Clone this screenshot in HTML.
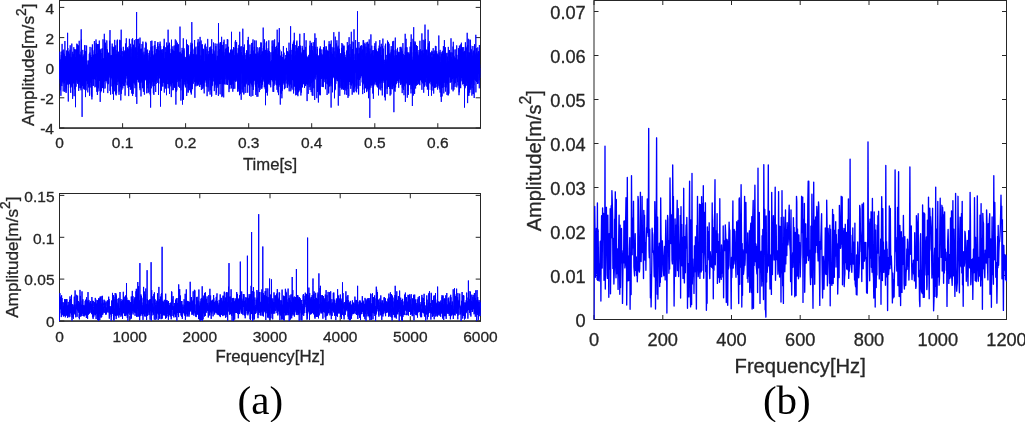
<!DOCTYPE html><html><head><meta charset="utf-8"><style>html,body{margin:0;padding:0;background:#fff;overflow:hidden}svg{display:block}</style></head><body><svg width="1025" height="422" viewBox="0 0 1025 422"><rect x="0" y="0" width="1025" height="422" fill="#fff"/><defs><clipPath id="c1"><rect x="59.0" y="0.0" width="422.0" height="128.5"/></clipPath><clipPath id="c2"><rect x="59.0" y="193.0" width="422.0" height="128.5"/></clipPath><clipPath id="c3"><rect x="593.5" y="0.0" width="413.5" height="320.0"/></clipPath></defs><g font-family="Liberation Sans, Arial, sans-serif" font-size="15.5" fill="#262626" stroke="#262626" stroke-width="0.3"><rect x="59.5" y="0.5" width="421.0" height="127.5" fill="none" stroke="#262626" stroke-width="1"/><path d="M59.5 128V123.2M59.5 0.5V5.3M122.6 128V123.2M122.6 0.5V5.3M185.6 128V123.2M185.6 0.5V5.3M248.7 128V123.2M248.7 0.5V5.3M311.7 128V123.2M311.7 0.5V5.3M374.8 128V123.2M374.8 0.5V5.3M437.8 128V123.2M437.8 0.5V5.3M59.5 7.4H64.3M480.5 7.4H475.7M59.5 37.6H64.3M480.5 37.6H475.7M59.5 67.7H64.3M480.5 67.7H475.7M59.5 97.8H64.3M480.5 97.8H475.7M59.5 128H64.3M480.5 128H475.7" stroke="#262626" stroke-width="1" fill="none"/><path d="M59.0 128H481.0" stroke="#262626" stroke-width="1.25" fill="none"/><text x="59.5" y="148.3" text-anchor="middle">0</text><text x="122.6" y="148.3" text-anchor="middle">0.1</text><text x="185.6" y="148.3" text-anchor="middle">0.2</text><text x="248.7" y="148.3" text-anchor="middle">0.3</text><text x="311.7" y="148.3" text-anchor="middle">0.4</text><text x="374.8" y="148.3" text-anchor="middle">0.5</text><text x="437.8" y="148.3" text-anchor="middle">0.6</text><text x="54" y="13.6" text-anchor="end">4</text><text x="54" y="43.7" text-anchor="end">2</text><text x="54" y="73.9" text-anchor="end">0</text><text x="54" y="104" text-anchor="end">-2</text><text x="54" y="134.2" text-anchor="end">-4</text><text x="270" y="169.5" text-anchor="middle" font-size="16.7">Time[s]</text><text transform="translate(34.3 64.7) rotate(-90)" text-anchor="middle" font-size="17.4">Amplitude[m/s<tspan font-size="13.9" dy="-8.7">2</tspan><tspan dy="8.7">]</tspan></text></g><g font-family="Liberation Sans, Arial, sans-serif" font-size="15.5" fill="#262626" stroke="#262626" stroke-width="0.3"><rect x="59.5" y="193.5" width="421.0" height="127.5" fill="none" stroke="#262626" stroke-width="1"/><path d="M59.5 321V316.2M59.5 193.5V198.3M129.7 321V316.2M129.7 193.5V198.3M199.8 321V316.2M199.8 193.5V198.3M270 321V316.2M270 193.5V198.3M340.2 321V316.2M340.2 193.5V198.3M410.3 321V316.2M410.3 193.5V198.3M480.5 321V316.2M480.5 193.5V198.3M59.5 321H64.3M480.5 321H475.7M59.5 279.1H64.3M480.5 279.1H475.7M59.5 237.3H64.3M480.5 237.3H475.7M59.5 195.4H64.3M480.5 195.4H475.7" stroke="#262626" stroke-width="1" fill="none"/><path d="M59.0 321H481.0" stroke="#262626" stroke-width="1.25" fill="none"/><text x="59.5" y="341.5" text-anchor="middle">0</text><text x="129.7" y="341.5" text-anchor="middle">1000</text><text x="199.8" y="341.5" text-anchor="middle">2000</text><text x="270" y="341.5" text-anchor="middle">3000</text><text x="340.2" y="341.5" text-anchor="middle">4000</text><text x="410.3" y="341.5" text-anchor="middle">5000</text><text x="480.5" y="341.5" text-anchor="middle">6000</text><text x="54.5" y="327.2" text-anchor="end">0</text><text x="54.5" y="285.3" text-anchor="end">0.05</text><text x="54.5" y="243.5" text-anchor="end">0.1</text><text x="54.5" y="201.6" text-anchor="end">0.15</text><text x="270" y="361.9" text-anchor="middle" font-size="16.8">Frequency[Hz]</text><text transform="translate(18.3 257.2) rotate(-90)" text-anchor="middle" font-size="17.2">Amplitude[m/s<tspan font-size="13.8" dy="-8.6">2</tspan><tspan dy="8.6">]</tspan></text></g><g font-family="Liberation Sans, Arial, sans-serif" font-size="18.2" fill="#262626" stroke="#262626" stroke-width="0.3"><rect x="594.0" y="0.5" width="412.5" height="319.0" fill="none" stroke="#262626" stroke-width="1"/><path d="M594 319.5V315M594 0.5V5M662.8 319.5V315M662.8 0.5V5M731.5 319.5V315M731.5 0.5V5M800.2 319.5V315M800.2 0.5V5M869 319.5V315M869 0.5V5M937.8 319.5V315M937.8 0.5V5M1006.5 319.5V315M1006.5 0.5V5M594 319.5H598.5M1006.5 319.5H1002M594 275.5H598.5M1006.5 275.5H1002M594 231.5H598.5M1006.5 231.5H1002M594 187.5H598.5M1006.5 187.5H1002M594 143.5H598.5M1006.5 143.5H1002M594 99.5H598.5M1006.5 99.5H1002M594 55.5H598.5M1006.5 55.5H1002M594 11.5H598.5M1006.5 11.5H1002" stroke="#262626" stroke-width="1" fill="none"/><text x="594" y="345.7" text-anchor="middle">0</text><text x="662.8" y="345.7" text-anchor="middle">200</text><text x="731.5" y="345.7" text-anchor="middle">400</text><text x="800.2" y="345.7" text-anchor="middle">600</text><text x="869" y="345.7" text-anchor="middle">800</text><text x="937.8" y="345.7" text-anchor="middle">1000</text><text x="1006.5" y="345.7" text-anchor="middle">1200</text><text x="585.7" y="326.7" text-anchor="end">0</text><text x="585.7" y="282.7" text-anchor="end">0.01</text><text x="585.7" y="238.7" text-anchor="end">0.02</text><text x="585.7" y="194.7" text-anchor="end">0.03</text><text x="585.7" y="150.7" text-anchor="end">0.04</text><text x="585.7" y="106.7" text-anchor="end">0.05</text><text x="585.7" y="62.7" text-anchor="end">0.06</text><text x="585.7" y="18.7" text-anchor="end">0.07</text><text x="800.2" y="372.5" text-anchor="middle" font-size="20.2">Frequency[Hz]</text><text transform="translate(540.6 160.7) rotate(-90)" text-anchor="middle" font-size="20">Amplitude[m/s<tspan font-size="16" dy="-10">2</tspan><tspan dy="10">]</tspan></text></g><g clip-path="url(#c1)"><polyline fill="none" stroke="#0000ff" stroke-width="0.9" stroke-linejoin="round" stroke-linecap="butt" points="59.5,67.7 59.6,64.1 59.6,71 59.7,78.3 59.7,73.1 59.8,79.5 59.8,67 59.9,51.7 59.9,73.6 60,75.1 60,61.9 60.1,63.4 60.1,66.4 60.2,78.8 60.2,68 60.3,59.4 60.3,83.7 60.4,73.1 60.4,90.3 60.5,83.1 60.6,89.6 60.6,70.5 60.7,82.8 60.7,64.5 60.8,65.8 60.8,69.9 60.9,95.8 60.9,74.1 61,68.3 61,66.4 61.1,85.9 61.1,73.4 61.2,79.4 61.2,77.3 61.3,55.1 61.3,77.3 61.4,68.1 61.4,57.2 61.5,74.7 61.5,69 61.6,66.4 61.7,66.9 61.7,82.3 61.8,66.8 61.8,51.5 61.9,86.1 61.9,57.5 62,66.3 62,75.3 62.1,43.9 62.1,58.6 62.2,82 62.2,66.8 62.3,60.8 62.3,69.9 62.4,59.6 62.4,68.5 62.5,59.8 62.5,50.6 62.6,75.7 62.7,65.3 62.7,73.2 62.8,66.2 62.8,81.8 62.9,74.6 62.9,70 63,57 63,54.1 63.1,83.5 63.1,77.2 63.2,60 63.2,91.4 63.3,73.2 63.3,68.9 63.4,52.7 63.4,59.5 63.5,71.6 63.5,72.1 63.6,70.7 63.7,49.6 63.7,72.8 63.8,71.3 63.8,63.5 63.9,69.1 63.9,70 64,81 64,67.8 64.1,73 64.1,53.8 64.2,59.9 64.2,68 64.3,59.7 64.3,71.7 64.4,55.2 64.4,67.8 64.5,60.8 64.5,83.1 64.6,63.6 64.6,87.8 64.7,91.9 64.8,71.3 64.8,78.4 64.9,65.7 64.9,41 65,77.6 65,75.1 65.1,65.3 65.1,61.8 65.2,69.8 65.2,70.2 65.3,59.3 65.3,61.5 65.4,80 65.4,68.6 65.5,67.3 65.5,80.3 65.6,64.6 65.6,77.9 65.7,56.1 65.8,65.4 65.8,66.6 65.9,74.7 65.9,69.1 66,91.5 66,81.2 66.1,63.4 66.1,93 66.2,57.6 66.2,88.5 66.3,58.7 66.3,77.8 66.4,58.4 66.4,66.1 66.5,86 66.5,52.8 66.6,50.5 66.6,68.5 66.7,71 66.8,69.6 66.8,79.3 66.9,54.6 66.9,74.2 67,68.3 67,77.1 67.1,75.2 67.1,82.9 67.2,52.7 67.2,69.5 67.3,56.2 67.3,67.5 67.4,76 67.4,71.6 67.5,74.4 67.5,67.6 67.6,32.8 67.6,71.3 67.7,84.1 67.7,77.3 67.8,48 67.9,75.7 67.9,80.3 68,63.7 68,50.9 68.1,85 68.1,70.2 68.2,75.2 68.2,88.7 68.3,101.5 68.3,68 68.4,66.8 68.4,76.7 68.5,62.3 68.5,74.1 68.6,69.4 68.6,80.9 68.7,82.2 68.7,51.8 68.8,73.7 68.9,64.2 68.9,68.1 69,73 69,73.7 69.1,60.2 69.1,71.3 69.2,69.5 69.2,67.4 69.3,53.7 69.3,59.6 69.4,63.1 69.4,74.4 69.5,84.2 69.5,56.4 69.6,56.2 69.6,69.4 69.7,61.2 69.7,58.4 69.8,57.8 69.9,56.7 69.9,73.1 70,49.7 70,82.5 70.1,57.4 70.1,61.8 70.2,57.3 70.2,45.3 70.3,50 70.3,81.3 70.4,87.8 70.4,58 70.5,79.8 70.5,67.8 70.6,57.7 70.6,87.3 70.7,92.8 70.7,64.6 70.8,67.2 70.8,70.6 70.9,67.2 71,77.9 71,85.7 71.1,69.7 71.1,79.3 71.2,87.3 71.2,61.7 71.3,68.4 71.3,62.9 71.4,79.5 71.4,75.5 71.5,79.6 71.5,78.3 71.6,65.4 71.6,77 71.7,63.5 71.7,63.7 71.8,43.6 71.8,84.3 71.9,57.1 72,68.8 72,67.9 72.1,85 72.1,73.2 72.2,58.8 72.2,68.7 72.3,66.7 72.3,71.2 72.4,53.9 72.4,68 72.5,93.9 72.5,75.9 72.6,91.1 72.6,98.9 72.7,74 72.7,51.8 72.8,67.1 72.8,81.7 72.9,78.9 73,54.2 73,65.8 73.1,67.1 73.1,68.3 73.2,67.2 73.2,58.1 73.3,61.1 73.3,65.1 73.4,80.1 73.4,61.6 73.5,75.8 73.5,54.7 73.6,82.8 73.6,69.3 73.7,67.8 73.7,83.5 73.8,47.2 73.8,50.3 73.9,73.2 73.9,58.5 74,63.2 74.1,96.2 74.1,64.7 74.2,68.4 74.2,66.7 74.3,80.5 74.3,70.9 74.4,69.8 74.4,53.6 74.5,63.7 74.5,67.8 74.6,49.5 74.6,74.3 74.7,72.3 74.7,89.3 74.8,49 74.8,56.2 74.9,56.8 74.9,59.7 75,66.4 75.1,65.1 75.1,70.7 75.2,70.1 75.2,67.1 75.3,49.7 75.3,61.1 75.4,68.4 75.4,74.6 75.5,75.3 75.5,107.2 75.6,61.7 75.6,66.9 75.7,71.8 75.7,80.9 75.8,68.5 75.8,57.3 75.9,72.4 75.9,70.4 76,70.3 76.1,66.4 76.1,86.7 76.2,70.5 76.2,77.9 76.3,57.2 76.3,76.9 76.4,60.8 76.4,49.5 76.5,71.4 76.5,74.9 76.6,65.4 76.6,67.7 76.7,79.5 76.7,62.2 76.8,43.7 76.8,70.8 76.9,70.1 76.9,80.1 77,63.9 77,82.6 77.1,80.9 77.2,52.5 77.2,78.5 77.3,54.8 77.3,49.5 77.4,64.6 77.4,61.1 77.5,44.5 77.5,70 77.6,74.8 77.6,83.8 77.7,67.2 77.7,50.1 77.8,56.3 77.8,78.9 77.9,77.9 77.9,73.7 78,64.2 78,70.1 78.1,65.1 78.2,64.2 78.2,71.3 78.3,68.2 78.3,65.2 78.4,68.7 78.4,61.7 78.5,45.4 78.5,60.7 78.6,67 78.6,87.8 78.7,63.1 78.7,90.9 78.8,84.5 78.8,57.5 78.9,59.3 78.9,69.5 79,88.1 79,72.1 79.1,75.8 79.2,60.1 79.2,40.8 79.3,65.1 79.3,77 79.4,81.6 79.4,68.4 79.5,69.8 79.5,81.4 79.6,66.3 79.6,81.4 79.7,54.5 79.7,55 79.8,54.8 79.8,73.3 79.9,61.6 79.9,69.3 80,72.3 80,71.7 80.1,83.2 80.1,84.9 80.2,58.2 80.3,70 80.3,65.1 80.4,55.8 80.4,88.3 80.5,77 80.5,65.6 80.6,63 80.6,72.2 80.7,55.4 80.7,65.2 80.8,82.2 80.8,78.8 80.9,58.1 80.9,62.2 81,90.3 81,51.6 81.1,60.6 81.1,51.7 81.2,29.3 81.3,71.2 81.3,81.1 81.4,39.5 81.4,69.8 81.5,48.8 81.5,75.4 81.6,65.7 81.6,87.6 81.7,72.3 81.7,56 81.8,82.6 81.8,54.9 81.9,63.7 81.9,80.1 82,73.7 82,73.2 82.1,116.9 82.1,74.1 82.2,77.6 82.3,71.3 82.3,79.9 82.4,83.1 82.4,68.3 82.5,57.2 82.5,85.9 82.6,67.7 82.6,75.4 82.7,79.3 82.7,57.5 82.8,73.9 82.8,49.9 82.9,77 82.9,63.1 83,70.4 83,76.7 83.1,60.7 83.1,69.5 83.2,60.5 83.2,68.3 83.3,80.6 83.4,68.9 83.4,67.1 83.5,56.3 83.5,78.5 83.6,68.2 83.6,88.2 83.7,59.9 83.7,80.6 83.8,89.2 83.8,68.4 83.9,54.5 83.9,85.9 84,80.7 84,76.6 84.1,81.2 84.1,63.2 84.2,77.3 84.2,76.3 84.3,60.8 84.4,76.7 84.4,62.5 84.5,79.3 84.5,82.1 84.6,89.6 84.6,45.5 84.7,71.5 84.7,64.8 84.8,68.1 84.8,65.8 84.9,67.1 84.9,45 85,80.1 85,86.2 85.1,79.8 85.1,83.6 85.2,58.8 85.2,57.9 85.3,79.1 85.4,84.3 85.4,71.9 85.5,51.1 85.5,97.1 85.6,61.4 85.6,80.5 85.7,55.3 85.7,80.5 85.8,71.1 85.8,85.6 85.9,79.3 85.9,51.2 86,57.9 86,72.5 86.1,78.1 86.1,90.3 86.2,72.4 86.2,68.1 86.3,68.7 86.3,68.8 86.4,81.1 86.5,68.5 86.5,68.2 86.6,52.3 86.6,45.5 86.7,69.3 86.7,76.8 86.8,68.5 86.8,74.9 86.9,76.5 86.9,68.4 87,80.1 87,60.5 87.1,68.9 87.1,64.7 87.2,69.9 87.2,76.4 87.3,79 87.3,70.5 87.4,74.2 87.5,64.9 87.5,67.8 87.6,83.9 87.6,66.9 87.7,83.7 87.7,75 87.8,71.2 87.8,92.4 87.9,66.6 87.9,65.9 88,69.6 88,72.8 88.1,72.1 88.1,79.3 88.2,70.9 88.2,74.3 88.3,66.6 88.3,82 88.4,64.9 88.5,66 88.5,69.4 88.6,72.9 88.6,61.1 88.7,87.5 88.7,62.2 88.8,64.8 88.8,64.3 88.9,63.1 88.9,75.5 89,70.8 89,60.1 89.1,62.6 89.1,65.2 89.2,85.7 89.2,61.3 89.3,53.8 89.3,55.7 89.4,64.9 89.4,86.3 89.5,56.5 89.6,69.5 89.6,95.9 89.7,63.2 89.7,85.5 89.8,83.1 89.8,75.3 89.9,52.5 89.9,72.1 90,64.5 90,46.9 90.1,48.7 90.1,68.9 90.2,70.6 90.2,82.7 90.3,76 90.3,62.6 90.4,63 90.4,66.4 90.5,55.9 90.6,76.9 90.6,68.4 90.7,59 90.7,60.7 90.8,54.9 90.8,63 90.9,71.4 90.9,63.4 91,79.6 91,87.2 91.1,60.8 91.1,68.4 91.2,64 91.2,87.9 91.3,72 91.3,74.8 91.4,78 91.4,94.6 91.5,71.7 91.6,57 91.6,63.2 91.7,74.9 91.7,67.9 91.8,58.7 91.8,96.8 91.9,69.2 91.9,99.4 92,59.6 92,47.4 92.1,54.2 92.1,64 92.2,64.1 92.2,58.3 92.3,74.1 92.3,68.2 92.4,56.9 92.4,44.4 92.5,69.6 92.5,68.3 92.6,65.3 92.7,51.7 92.7,68.1 92.8,50.2 92.8,79.2 92.9,69.9 92.9,70.1 93,58.3 93,55.3 93.1,85.7 93.1,78.6 93.2,63.7 93.2,75.5 93.3,85.8 93.3,55.3 93.4,61.8 93.4,61.8 93.5,73.4 93.5,55.4 93.6,70.6 93.7,54.6 93.7,78.6 93.8,77.9 93.8,65.3 93.9,76.1 93.9,59.7 94,64.6 94,78.7 94.1,66.8 94.1,71.9 94.2,56.8 94.2,75.2 94.3,72.9 94.3,53.3 94.4,41 94.4,43.9 94.5,66.9 94.5,65.1 94.6,49.4 94.7,69.2 94.7,79.3 94.8,66.3 94.8,62.3 94.9,77.6 94.9,87.3 95,84.8 95,59.8 95.1,76.7 95.1,69.4 95.2,65.2 95.2,60.3 95.3,71.7 95.3,61.8 95.4,78.3 95.4,72 95.5,79.9 95.5,54.2 95.6,68 95.6,76.5 95.7,71.9 95.8,70.3 95.8,59.4 95.9,86.7 95.9,80.1 96,72.2 96,39.5 96.1,56.3 96.1,69 96.2,59.2 96.2,43.2 96.3,70.5 96.3,72.1 96.4,53.3 96.4,61.8 96.5,59.7 96.5,73.8 96.6,44.8 96.6,47.3 96.7,61 96.8,59.6 96.8,91.8 96.9,60.1 96.9,70 97,62.5 97,59.6 97.1,71.8 97.1,87.8 97.2,63.3 97.2,76.5 97.3,71.6 97.3,74.9 97.4,71.8 97.4,95 97.5,53.2 97.5,64.7 97.6,54.5 97.6,44.1 97.7,67.4 97.8,89.2 97.8,78.3 97.9,82.1 97.9,73.7 98,66.8 98,91.5 98.1,63.6 98.1,85.7 98.2,64.2 98.2,69 98.3,71.4 98.3,68.6 98.4,74.1 98.4,75 98.5,87.7 98.5,68.1 98.6,45.7 98.6,44.1 98.7,52 98.8,59.3 98.8,75.8 98.9,50.5 98.9,68.4 99,68.5 99,71.2 99.1,66.6 99.1,72.9 99.2,68.7 99.2,80.6 99.3,72.2 99.3,40.6 99.4,68.5 99.4,70.5 99.5,61.4 99.5,59.3 99.6,81 99.6,70.2 99.7,56.8 99.7,64.5 99.8,66.2 99.9,49.2 99.9,75.8 100,66.7 100,73.9 100.1,50 100.1,90.9 100.2,75.7 100.2,101.9 100.3,59.8 100.3,60.5 100.4,51.1 100.4,86.4 100.5,58.8 100.5,71.2 100.6,75.6 100.6,61.3 100.7,78.7 100.7,92.4 100.8,72.1 100.9,85.5 100.9,75.4 101,63.3 101,64 101.1,48.8 101.1,70.1 101.2,86 101.2,76.7 101.3,78.6 101.3,82.2 101.4,62.5 101.4,75.4 101.5,91.2 101.5,59.4 101.6,69 101.6,63.5 101.7,66.4 101.7,60.2 101.8,67.2 101.9,53 101.9,62.6 102,63 102,62.8 102.1,85 102.1,69.7 102.2,70.8 102.2,65.2 102.3,83.9 102.3,48.2 102.4,66.5 102.4,82.1 102.5,88.1 102.5,71 102.6,68.8 102.6,76.3 102.7,66.6 102.7,75.3 102.8,61.1 102.8,76.3 102.9,68.2 103,56 103,39.3 103.1,79.7 103.1,73.2 103.2,77.7 103.2,58.4 103.3,81.4 103.3,73.5 103.4,68.1 103.4,79.4 103.5,79.1 103.5,73.4 103.6,92.7 103.6,84.9 103.7,72.6 103.7,65.9 103.8,69.9 103.8,88.8 103.9,73.2 104,58.2 104,61.1 104.1,68.6 104.1,78.3 104.2,60.2 104.2,74.6 104.3,81.6 104.3,33.8 104.4,50.5 104.4,65.1 104.5,53.9 104.5,73.4 104.6,56.5 104.6,74.9 104.7,69.6 104.7,39.7 104.8,58.6 104.8,73.7 104.9,68.7 105,63.8 105,53.3 105.1,73.5 105.1,88.4 105.2,71 105.2,67.5 105.3,66.4 105.3,52 105.4,63.9 105.4,58 105.5,80.8 105.5,57.4 105.6,42.7 105.6,58.5 105.7,64.7 105.7,65.9 105.8,46.4 105.8,78.7 105.9,69 105.9,62.2 106,58.8 106.1,72.9 106.1,64 106.2,71 106.2,66.3 106.3,69.3 106.3,81.3 106.4,68 106.4,57.3 106.5,79.2 106.5,70.6 106.6,59.8 106.6,80.4 106.7,65.5 106.7,80.3 106.8,54.2 106.8,40.4 106.9,43.6 106.9,70.3 107,58.9 107.1,66.3 107.1,66.5 107.2,49.3 107.2,83.4 107.3,55.1 107.3,68.3 107.4,50.9 107.4,65.5 107.5,75.7 107.5,64.4 107.6,58.9 107.6,67.3 107.7,61.9 107.7,73.9 107.8,93.1 107.8,57 107.9,59.4 107.9,65.9 108,66.9 108.1,55.4 108.1,73.1 108.2,76.1 108.2,69.9 108.3,53.5 108.3,84.2 108.4,53.5 108.4,75.3 108.5,80.8 108.5,52.7 108.6,68.9 108.6,83.2 108.7,72 108.7,56.6 108.8,53.5 108.8,72.8 108.9,62.9 108.9,59.2 109,75.4 109,63.5 109.1,68.1 109.2,74.1 109.2,73.6 109.3,66.9 109.3,67.3 109.4,74.4 109.4,72.8 109.5,54.4 109.5,65.2 109.6,57.2 109.6,53.4 109.7,60.7 109.7,40.7 109.8,77.5 109.8,58.1 109.9,71.5 109.9,45.6 110,30.1 110,91 110.1,79.2 110.2,59.8 110.2,58.3 110.3,58.9 110.3,68.5 110.4,62.3 110.4,59.9 110.5,68.6 110.5,55.5 110.6,94.6 110.6,60.2 110.7,80 110.7,56.3 110.8,70.4 110.8,78.3 110.9,63.2 110.9,78.6 111,78.6 111,86.4 111.1,68 111.2,61.8 111.2,55.5 111.3,69.4 111.3,55.2 111.4,67.5 111.4,68.8 111.5,60.9 111.5,55.1 111.6,71.8 111.6,70.6 111.7,69.6 111.7,66.7 111.8,78.4 111.8,55.5 111.9,72.5 111.9,62.2 112,77.5 112,63.4 112.1,63 112.1,72.7 112.2,43.6 112.3,63.3 112.3,46.5 112.4,56.3 112.4,75.6 112.5,72.3 112.5,62.5 112.6,67 112.6,67.1 112.7,71.1 112.7,89.2 112.8,70.4 112.8,94.1 112.9,63.3 112.9,76.3 113,76.2 113,70.3 113.1,64.5 113.1,84.8 113.2,88.5 113.3,80.4 113.3,92 113.4,79.2 113.4,48.8 113.5,80.3 113.5,99.8 113.6,84 113.6,64.1 113.7,71.5 113.7,68.4 113.8,60.9 113.8,46.8 113.9,65.4 113.9,66.2 114,79.3 114,60.8 114.1,70.6 114.1,57.8 114.2,68.2 114.3,47 114.3,91.3 114.4,71.2 114.4,57.2 114.5,71.9 114.5,77.1 114.6,70.9 114.6,84.1 114.7,66.3 114.7,39.9 114.8,54.1 114.8,80.9 114.9,78.1 114.9,72.5 115,55.7 115,77.5 115.1,75.9 115.1,57.2 115.2,57.4 115.2,72.2 115.3,81 115.4,86.2 115.4,76 115.5,94.3 115.5,58.8 115.6,75.2 115.6,62 115.7,45.4 115.7,53.7 115.8,81.4 115.8,57.3 115.9,53.9 115.9,76.6 116,79.1 116,69 116.1,86.8 116.1,50.2 116.2,95.4 116.2,80.9 116.3,70.9 116.4,70.4 116.4,65.7 116.5,64.5 116.5,70.2 116.6,54.2 116.6,93.2 116.7,67.7 116.7,76.2 116.8,66.1 116.8,65.1 116.9,78.6 116.9,75.3 117,58.3 117,63.5 117.1,75.8 117.1,43.4 117.2,40.4 117.2,85.1 117.3,64.1 117.4,39.6 117.4,58.4 117.5,65.1 117.5,70.2 117.6,74.1 117.6,70.2 117.7,74.3 117.7,58.8 117.8,72.4 117.8,73 117.9,82 117.9,68.3 118,78.3 118,69.9 118.1,55.3 118.1,63.3 118.2,61.7 118.2,63.5 118.3,67 118.3,69.2 118.4,71.4 118.5,58.7 118.5,80.6 118.6,51.7 118.6,67.3 118.7,76.6 118.7,73.5 118.8,75.8 118.8,65.8 118.9,76.2 118.9,54.1 119,77 119,94.8 119.1,76.4 119.1,91.6 119.2,68.2 119.2,55.1 119.3,60 119.3,83.6 119.4,76.8 119.5,46.5 119.5,63.9 119.6,67.7 119.6,55.1 119.7,39.8 119.7,52.3 119.8,66 119.8,63.5 119.9,60.4 119.9,75 120,80.3 120,67.1 120.1,79 120.1,68.4 120.2,66.6 120.2,40.3 120.3,77.8 120.3,69.2 120.4,69.7 120.5,62.5 120.5,55.2 120.6,73.5 120.6,77.5 120.7,87.2 120.7,78.7 120.8,61.3 120.8,100.4 120.9,79.8 120.9,72.1 121,67.3 121,61.7 121.1,74.8 121.1,70.7 121.2,29.7 121.2,81.4 121.3,48.4 121.3,93.8 121.4,71.7 121.4,65.1 121.5,72.2 121.6,77.3 121.6,68.4 121.7,67.8 121.7,68.7 121.8,90.1 121.8,69.5 121.9,77.9 121.9,74.2 122,65 122,60.1 122.1,57 122.1,73.6 122.2,56.7 122.2,53.7 122.3,54.2 122.3,51.1 122.4,69.4 122.4,69.8 122.5,57.9 122.6,84 122.6,65.2 122.7,74 122.7,72.1 122.8,88.4 122.8,78.3 122.9,67.9 122.9,57.1 123,55.9 123,68.7 123.1,70 123.1,77.6 123.2,62.9 123.2,70.6 123.3,60.5 123.3,46.8 123.4,68.1 123.4,85.5 123.5,78 123.6,85.1 123.6,82 123.7,52.2 123.7,65 123.8,85.8 123.8,59.9 123.9,52.7 123.9,72 124,75.8 124,71.7 124.1,64.3 124.1,60.1 124.2,53.6 124.2,53.3 124.3,53.6 124.3,51.5 124.4,59.8 124.4,85.9 124.5,69.3 124.5,64 124.6,72.3 124.7,56.8 124.7,72 124.8,78.7 124.8,50.5 124.9,59.8 124.9,65.1 125,56.7 125,55 125.1,63.6 125.1,95.6 125.2,75.7 125.2,73.1 125.3,79.4 125.3,65.3 125.4,53.5 125.4,73.5 125.5,81.2 125.5,43.5 125.6,73.1 125.7,82.4 125.7,64.9 125.8,62.6 125.8,76.1 125.9,58.3 125.9,73.5 126,78.7 126,65.6 126.1,58.5 126.1,75.2 126.2,63.8 126.2,68.8 126.3,38.3 126.3,76.1 126.4,51.2 126.4,68.3 126.5,69.2 126.5,59.1 126.6,57.1 126.7,52.6 126.7,63.8 126.8,74.9 126.8,74.1 126.9,61.6 126.9,60.8 127,51.1 127,62.7 127.1,55.1 127.1,49.6 127.2,65.7 127.2,85.4 127.3,81.7 127.3,84.8 127.4,48.7 127.4,77.8 127.5,53 127.5,60.7 127.6,47.3 127.6,55.8 127.7,68.9 127.8,70.1 127.8,66.7 127.9,65.6 127.9,74 128,68.1 128,48.5 128.1,88 128.1,64.6 128.2,78.5 128.2,65.5 128.3,57.7 128.3,68.4 128.4,58.5 128.4,86.6 128.5,54.5 128.5,74.9 128.6,60.3 128.6,65.5 128.7,96.1 128.8,76.7 128.8,65.1 128.9,49.2 128.9,64.3 129,64.6 129,84.5 129.1,50.7 129.1,46.2 129.2,67.4 129.2,70.3 129.3,87 129.3,57.2 129.4,38.8 129.4,59.2 129.5,52.7 129.5,61.2 129.6,79.4 129.6,51.8 129.7,82.4 129.8,70.2 129.8,64.4 129.9,57.2 129.9,62.7 130,63.1 130,76.8 130.1,83.1 130.1,67 130.2,76.2 130.2,83.3 130.3,82.8 130.3,73.5 130.4,89.8 130.4,83.7 130.5,87.2 130.5,65.5 130.6,62.8 130.6,43.8 130.7,85.5 130.7,75.8 130.8,56.8 130.9,70.3 130.9,71.6 131,47.3 131,71.7 131.1,81.5 131.1,83.4 131.2,63.7 131.2,64.1 131.3,84 131.3,79.4 131.4,61.3 131.4,60.8 131.5,75.4 131.5,60.3 131.6,60.9 131.6,88.9 131.7,71.4 131.7,62.8 131.8,74.5 131.9,93.2 131.9,71.1 132,58.7 132,48.9 132.1,93.8 132.1,39.2 132.2,81.1 132.2,56.3 132.3,53 132.3,56 132.4,65.9 132.4,81.5 132.5,60.2 132.5,76.2 132.6,95.9 132.6,38.3 132.7,59.3 132.7,46 132.8,78.6 132.9,50.2 132.9,48.8 133,49.2 133,68 133.1,82 133.1,69.8 133.2,93.9 133.2,88 133.3,66.6 133.3,79.5 133.4,69.7 133.4,69 133.5,44.7 133.5,52.2 133.6,68.2 133.6,53.3 133.7,77 133.7,71.7 133.8,56.9 133.8,82.5 133.9,71 134,83.4 134,66.3 134.1,48.3 134.1,76.7 134.2,65 134.2,78.4 134.3,81.4 134.3,82.4 134.4,50.4 134.4,40.2 134.5,61.9 134.5,76.2 134.6,59.3 134.6,71.7 134.7,58.2 134.7,64.2 134.8,64.4 134.8,60.5 134.9,74.6 135,72.5 135,88.2 135.1,73 135.1,84.6 135.2,69.4 135.2,79.1 135.3,66.5 135.3,62.3 135.4,84.6 135.4,77.4 135.5,78.9 135.5,58.8 135.6,47.4 135.6,57.6 135.7,71.9 135.7,50.3 135.8,85.7 135.8,49.8 135.9,75.5 136,96.9 136,39 136.1,48.9 136.1,80 136.2,65.7 136.2,70.3 136.3,66.5 136.3,85.4 136.4,75.8 136.4,62.1 136.5,65 136.5,53.4 136.6,12 136.6,40.3 136.7,76.2 136.7,64.6 136.8,103.9 136.8,82.6 136.9,51.9 136.9,78.9 137,61.4 137.1,68.4 137.1,80.1 137.2,71.8 137.2,73.8 137.3,73.5 137.3,58.7 137.4,59.9 137.4,74.6 137.5,78.5 137.5,64.3 137.6,68.9 137.6,55.5 137.7,39 137.7,57.7 137.8,68.1 137.8,69.7 137.9,77.9 137.9,78.5 138,79.6 138.1,72.4 138.1,72.8 138.2,58.8 138.2,72.5 138.3,70.1 138.3,82.2 138.4,48.1 138.4,61.7 138.5,46.4 138.5,58.2 138.6,50 138.6,70.7 138.7,59.2 138.7,38.8 138.8,82.3 138.8,53.7 138.9,47.5 138.9,62.7 139,58.6 139.1,52.5 139.1,75.7 139.2,62.7 139.2,78.3 139.3,75.9 139.3,75.2 139.4,69.4 139.4,65.9 139.5,62.2 139.5,85 139.6,43.6 139.6,53.6 139.7,58.8 139.7,72.1 139.8,68.8 139.8,61 139.9,62.7 139.9,88.2 140,58.7 140,37.6 140.1,90.2 140.2,55.6 140.2,63.2 140.3,69.1 140.3,50.9 140.4,82.2 140.4,65.7 140.5,49.8 140.5,70.1 140.6,72.8 140.6,66.3 140.7,73.1 140.7,48.8 140.8,78.8 140.8,57 140.9,83 140.9,59.5 141,69 141,96.4 141.1,67.8 141.2,80.8 141.2,73.1 141.3,48.9 141.3,81.4 141.4,80.7 141.4,50.1 141.5,66.3 141.5,48.8 141.6,63.7 141.6,78.5 141.7,68.5 141.7,52.6 141.8,56.2 141.8,67.7 141.9,67.1 141.9,69.1 142,74.8 142,44 142.1,67.6 142.2,81.5 142.2,73.5 142.3,58.8 142.3,59.8 142.4,69.4 142.4,75.9 142.5,67.4 142.5,88.2 142.6,83.6 142.6,57.9 142.7,73.6 142.7,63.1 142.8,52.8 142.8,59.7 142.9,67.4 142.9,41.6 143,59.5 143,72 143.1,58.7 143.1,62.7 143.2,78.2 143.3,66.8 143.3,69.7 143.4,91.8 143.4,69.8 143.5,71.2 143.5,73.1 143.6,87.8 143.6,72 143.7,68.2 143.7,66.5 143.8,81.6 143.8,60 143.9,82.6 143.9,70.4 144,51.7 144,76.2 144.1,74 144.1,54.6 144.2,72.4 144.3,71.3 144.3,65 144.4,54.9 144.4,94.7 144.5,77.8 144.5,80 144.6,81 144.6,78.2 144.7,78 144.7,64 144.8,78.6 144.8,66.2 144.9,62.8 144.9,76.6 145,66.1 145,47.7 145.1,63.8 145.1,75.5 145.2,68.5 145.3,78.9 145.3,64.4 145.4,57.2 145.4,77.7 145.5,70.2 145.5,54.2 145.6,73.8 145.6,65.4 145.7,80.2 145.7,77.7 145.8,73.9 145.8,41.8 145.9,72.6 145.9,74 146,74.4 146,69.7 146.1,59.9 146.1,65.4 146.2,43.2 146.2,65.2 146.3,50.5 146.4,64.4 146.4,60.5 146.5,84.9 146.5,69.2 146.6,68.5 146.6,70.6 146.7,93.3 146.7,57.2 146.8,72.3 146.8,72.9 146.9,70.7 146.9,70.4 147,62.9 147,82.8 147.1,78.8 147.1,64.2 147.2,66 147.2,72.2 147.3,74.5 147.4,77.6 147.4,68.4 147.5,53.6 147.5,80.3 147.6,49.6 147.6,57.6 147.7,73.1 147.7,58.4 147.8,85.2 147.8,88.3 147.9,83.1 147.9,72.6 148,71.6 148,73.8 148.1,66.5 148.1,93.1 148.2,61.8 148.2,84.6 148.3,75.6 148.4,72.6 148.4,81.5 148.5,84 148.5,79.7 148.6,67.8 148.6,60.7 148.7,61 148.7,79.5 148.8,77.1 148.8,78.7 148.9,62.3 148.9,92 149,53 149,73.5 149.1,77 149.1,63.7 149.2,55.4 149.2,63.6 149.3,55.2 149.3,66.1 149.4,53.1 149.5,52.9 149.5,68.9 149.6,50.6 149.6,65.7 149.7,66.7 149.7,78.7 149.8,71.1 149.8,58.4 149.9,83.3 149.9,60 150,63.5 150,64.4 150.1,94 150.1,68.9 150.2,60 150.2,76.8 150.3,66.6 150.3,95.3 150.4,59.7 150.5,75.6 150.5,57.3 150.6,89.6 150.6,107.6 150.7,70.5 150.7,58.1 150.8,78.7 150.8,75.1 150.9,41 150.9,77.6 151,76.1 151,71 151.1,79.9 151.1,53.5 151.2,47.2 151.2,76.1 151.3,88.3 151.3,53.7 151.4,54.5 151.5,57.9 151.5,53.9 151.6,78 151.6,69.7 151.7,84.2 151.7,84.6 151.8,56 151.8,75.7 151.9,40.6 151.9,66.8 152,75.3 152,58.2 152.1,46.2 152.1,61.9 152.2,82.2 152.2,63.3 152.3,51.3 152.3,73.6 152.4,76.9 152.4,55.6 152.5,66 152.6,80.8 152.6,72.2 152.7,76.7 152.7,64.2 152.8,66.4 152.8,54 152.9,59.2 152.9,86.3 153,62.9 153,57 153.1,62.3 153.1,55.4 153.2,74.2 153.2,79 153.3,56.6 153.3,80.4 153.4,93.4 153.4,55.5 153.5,76.3 153.6,71.3 153.6,84.3 153.7,83.5 153.7,81.5 153.8,72 153.8,63.3 153.9,94.9 153.9,58.7 154,81.8 154,80.4 154.1,59.6 154.1,68.6 154.2,86 154.2,45.7 154.3,77.9 154.3,64.8 154.4,65.3 154.4,50.9 154.5,73.1 154.6,55.7 154.6,76.5 154.7,54.3 154.7,76.8 154.8,72 154.8,45.1 154.9,63.9 154.9,66.4 155,41 155,63.4 155.1,77.4 155.1,59 155.2,81.8 155.2,54.3 155.3,53.3 155.3,74.5 155.4,75.2 155.4,65.6 155.5,67.5 155.5,79.3 155.6,60.9 155.7,92 155.7,72.9 155.8,72.5 155.8,71 155.9,64 155.9,82.3 156,60.7 156,69.8 156.1,75.4 156.1,84 156.2,81.8 156.2,63.4 156.3,79.2 156.3,66.9 156.4,55.1 156.4,55.4 156.5,49.1 156.5,71.2 156.6,80.6 156.7,55.5 156.7,64 156.8,54.3 156.8,67.6 156.9,53.5 156.9,57.6 157,59.2 157,61.7 157.1,63 157.1,64.9 157.2,65 157.2,55.9 157.3,73.8 157.3,47 157.4,69 157.4,56 157.5,68.8 157.5,70.6 157.6,43.5 157.7,71.4 157.7,82.9 157.8,76.2 157.8,71.5 157.9,42 157.9,65.2 158,56.6 158,79.6 158.1,63.5 158.1,59.7 158.2,46.2 158.2,76 158.3,60.5 158.3,64.1 158.4,79.9 158.4,67.9 158.5,70.8 158.5,95 158.6,60.6 158.6,61.3 158.7,72.9 158.8,83.6 158.8,50.1 158.9,64.5 158.9,55.6 159,50.9 159,73.9 159.1,58 159.1,70.6 159.2,68.4 159.2,68.7 159.3,67.7 159.3,54.4 159.4,66.2 159.4,69.5 159.5,71 159.5,63.6 159.6,78.4 159.6,73.7 159.7,68.3 159.8,74.4 159.8,69.1 159.9,75 159.9,43.8 160,51.9 160,62.3 160.1,68.3 160.1,41.6 160.2,63.9 160.2,68.7 160.3,64.1 160.3,64.1 160.4,50.9 160.4,67.9 160.5,106.6 160.5,78.2 160.6,59.4 160.6,79.6 160.7,46.1 160.8,71.6 160.8,68.4 160.9,56.7 160.9,52.7 161,80.9 161,71.8 161.1,84.3 161.1,66.1 161.2,68.9 161.2,71.9 161.3,75.9 161.3,72.3 161.4,76.6 161.4,61.4 161.5,49.6 161.5,90.7 161.6,69.1 161.6,72.7 161.7,61.8 161.7,79 161.8,69.4 161.9,80.1 161.9,59.4 162,66.5 162,69.6 162.1,63.3 162.1,70.6 162.2,86.2 162.2,60.6 162.3,64.3 162.3,69.5 162.4,56 162.4,53.2 162.5,80.7 162.5,77 162.6,49.3 162.6,50.8 162.7,76.5 162.7,81.8 162.8,75.3 162.9,73.6 162.9,86.6 163,67.3 163,82.9 163.1,82.1 163.1,56.8 163.2,75.8 163.2,68.6 163.3,60.2 163.3,58 163.4,71.7 163.4,67.2 163.5,77.5 163.5,46.9 163.6,60 163.6,80.8 163.7,67.7 163.7,59.2 163.8,62 163.9,45.9 163.9,51.4 164,74.1 164,68.8 164.1,83 164.1,64.7 164.2,65.9 164.2,38.8 164.3,66.5 164.3,92.6 164.4,75.7 164.4,66.4 164.5,82.7 164.5,78 164.6,72.1 164.6,63.6 164.7,69.7 164.7,78.3 164.8,58.3 164.8,74.1 164.9,73.6 165,84.1 165,77.1 165.1,59.9 165.1,87 165.2,68.5 165.2,59.2 165.3,72.2 165.3,64.8 165.4,81 165.4,52.1 165.5,54.6 165.5,64.9 165.6,88.6 165.6,80.2 165.7,56.1 165.7,47.3 165.8,64.2 165.8,52.8 165.9,74.9 166,70 166,67.7 166.1,62.7 166.1,85.9 166.2,56.5 166.2,51.9 166.3,81.4 166.3,83.8 166.4,63.5 166.4,75.5 166.5,95.2 166.5,58.1 166.6,65.8 166.6,73.4 166.7,42.5 166.7,66 166.8,76.7 166.8,66.5 166.9,80.1 167,76.8 167,63.1 167.1,74.3 167.1,73.1 167.2,47.8 167.2,57.5 167.3,58.1 167.3,61.4 167.4,61.9 167.4,50.4 167.5,67.9 167.5,45.6 167.6,79 167.6,70.7 167.7,84.1 167.7,71.8 167.8,61.5 167.8,50.4 167.9,75.6 167.9,67.6 168,72 168.1,76.5 168.1,29.7 168.2,67 168.2,88.3 168.3,66.4 168.3,67.5 168.4,75.5 168.4,79.7 168.5,84.2 168.5,45.4 168.6,83.7 168.6,49.1 168.7,60.6 168.7,72 168.8,81.5 168.8,55.3 168.9,47.1 168.9,78.8 169,71.3 169.1,55.2 169.1,63.7 169.2,43.9 169.2,74.5 169.3,61.2 169.3,82.6 169.4,42.7 169.4,76.4 169.5,94 169.5,69.2 169.6,69.4 169.6,44.9 169.7,71.7 169.7,67.9 169.8,60.6 169.8,48.8 169.9,68.5 169.9,55.3 170,61.5 170.1,71.2 170.1,66.8 170.2,67.4 170.2,78.6 170.3,53.2 170.3,84.2 170.4,53.8 170.4,56.3 170.5,68.8 170.5,76.8 170.6,70.4 170.6,62.1 170.7,58.9 170.7,64.3 170.8,55.9 170.8,74.3 170.9,64.9 170.9,86.4 171,58.6 171,65.9 171.1,72.6 171.2,53.9 171.2,59.5 171.3,97.1 171.3,67.2 171.4,85 171.4,55 171.5,39.7 171.5,73.9 171.6,66.8 171.6,70.7 171.7,63.5 171.7,60 171.8,52.4 171.8,79.5 171.9,49 171.9,78.8 172,64.4 172,53.9 172.1,59.2 172.2,78.9 172.2,76.1 172.3,73.2 172.3,68.3 172.4,54 172.4,83.1 172.5,62.1 172.5,60.4 172.6,61.1 172.6,62.1 172.7,49.6 172.7,61.9 172.8,57.5 172.8,61 172.9,46.3 172.9,90.3 173,52.4 173,70.8 173.1,71 173.2,79.2 173.2,90 173.3,72.2 173.3,75.9 173.4,61.8 173.4,85.2 173.5,50.7 173.5,64.5 173.6,70.7 173.6,76.1 173.7,77.1 173.7,81.2 173.8,74.2 173.8,67.6 173.9,69.8 173.9,84.5 174,70.9 174,78.3 174.1,65.8 174.2,45.5 174.2,60.3 174.3,71.4 174.3,87.1 174.4,84.5 174.4,87.8 174.5,59.1 174.5,76.8 174.6,67 174.6,75.1 174.7,66.6 174.7,51 174.8,75.9 174.8,71.8 174.9,77.3 174.9,57.3 175,79.9 175,81.2 175.1,84.2 175.1,84.5 175.2,62.1 175.3,39.4 175.3,79.6 175.4,56.4 175.4,64.7 175.5,80.8 175.5,71 175.6,70.5 175.6,75.9 175.7,44.7 175.7,90.4 175.8,63.2 175.8,63.8 175.9,104.6 175.9,65.9 176,57.2 176,65.9 176.1,62.7 176.1,59.4 176.2,91.9 176.3,50.1 176.3,40.6 176.4,56 176.4,55.6 176.5,84.5 176.5,69.1 176.6,77.4 176.6,74.7 176.7,56.2 176.7,77.3 176.8,69.2 176.8,90.4 176.9,69.6 176.9,66.6 177,76.1 177,76.3 177.1,45.2 177.1,82.1 177.2,80.2 177.3,77.3 177.3,53.4 177.4,42.7 177.4,63.7 177.5,76.2 177.5,72.8 177.6,55 177.6,78.6 177.7,50.4 177.7,50.8 177.8,66.9 177.8,60 177.9,58.8 177.9,49.2 178,80.2 178,53.6 178.1,72.2 178.1,76.8 178.2,66.5 178.2,70.3 178.3,79.5 178.4,86.7 178.4,78.9 178.5,50.4 178.5,44.3 178.6,60 178.6,53.6 178.7,73.9 178.7,68.6 178.8,64.3 178.8,80.6 178.9,79.5 178.9,66.5 179,71.5 179,80.4 179.1,63.1 179.1,70.8 179.2,55.5 179.2,67.8 179.3,71.3 179.4,66.2 179.4,69.7 179.5,75.7 179.5,72.5 179.6,58.8 179.6,60 179.7,52.4 179.7,87.9 179.8,72.4 179.8,72.6 179.9,65.7 179.9,73.1 180,26.6 180,58.4 180.1,65.6 180.1,81.6 180.2,51.8 180.2,55.8 180.3,74.5 180.4,57.8 180.4,76.5 180.5,54.3 180.5,70.3 180.6,77.3 180.6,72.1 180.7,76.8 180.7,65.4 180.8,65.6 180.8,67.3 180.9,74.3 180.9,100.6 181,66.6 181,90.3 181.1,64.8 181.1,54.2 181.2,64.4 181.2,72.3 181.3,69.8 181.3,69.3 181.4,74.2 181.5,74.7 181.5,78.7 181.6,53.5 181.6,67.9 181.7,56.3 181.7,70.7 181.8,66.8 181.8,69.7 181.9,62.2 181.9,57.9 182,64.8 182,75.7 182.1,77 182.1,47.9 182.2,71 182.2,71.2 182.3,50.3 182.3,54.7 182.4,61.3 182.5,72.5 182.5,104.6 182.6,63 182.6,61.2 182.7,69.7 182.7,84.5 182.8,83.6 182.8,62.9 182.9,63 182.9,70.6 183,81.7 183,84.9 183.1,71.6 183.1,85 183.2,57 183.2,54 183.3,38.3 183.3,57.2 183.4,74.8 183.5,78.1 183.5,99.7 183.6,74.8 183.6,69.8 183.7,56.2 183.7,60.4 183.8,60.7 183.8,65.2 183.9,59.8 183.9,50.5 184,80.4 184,73.1 184.1,84.2 184.1,48.4 184.2,52.3 184.2,58.7 184.3,82 184.3,65.6 184.4,70.5 184.4,66.7 184.5,69.9 184.6,61.5 184.6,72.4 184.7,57.5 184.7,64.8 184.8,71.2 184.8,69 184.9,72.9 184.9,58 185,70.9 185,64.2 185.1,72.4 185.1,85.4 185.2,56.9 185.2,80.3 185.3,59.6 185.3,62.7 185.4,87.4 185.4,79 185.5,73.8 185.6,77.5 185.6,81.8 185.7,58.9 185.7,70.6 185.8,63.1 185.8,72.8 185.9,64.1 185.9,76.6 186,68 186,60.8 186.1,67.2 186.1,73.1 186.2,80.6 186.2,65.7 186.3,63.6 186.3,70.8 186.4,76.9 186.4,61.2 186.5,39.7 186.6,71.3 186.6,63.7 186.7,63.2 186.7,96 186.8,66.2 186.8,76.1 186.9,51.2 186.9,70.7 187,77 187,70.3 187.1,65.7 187.1,74.4 187.2,68.3 187.2,83.8 187.3,70.4 187.3,58.5 187.4,44.2 187.4,59.3 187.5,64.5 187.5,53.6 187.6,55.6 187.7,47.9 187.7,54.8 187.8,69.1 187.8,64.6 187.9,65.6 187.9,64.1 188,65.3 188,77 188.1,92.8 188.1,75.7 188.2,91.8 188.2,66.9 188.3,67.6 188.3,87.7 188.4,59.5 188.4,57.4 188.5,66.6 188.5,47.8 188.6,45.4 188.7,82.1 188.7,55.4 188.8,62.4 188.8,62.7 188.9,56.6 188.9,76.3 189,74.8 189,77.5 189.1,76.7 189.1,68.9 189.2,85 189.2,80.2 189.3,60.8 189.3,68.5 189.4,63.1 189.4,90.2 189.5,77 189.5,74.3 189.6,67.3 189.7,74.7 189.7,56.6 189.8,68.4 189.8,67.5 189.9,67.5 189.9,59.3 190,73.3 190,54.3 190.1,62.2 190.1,65.9 190.2,67.2 190.2,61.5 190.3,55.6 190.3,56.4 190.4,63.2 190.4,57.3 190.5,66.3 190.5,52.8 190.6,68 190.6,92.4 190.7,51.8 190.8,66.4 190.8,81.6 190.9,70.1 190.9,78.2 191,42.7 191,61.8 191.1,86.4 191.1,61.2 191.2,72.4 191.2,44.9 191.3,80.2 191.3,94.5 191.4,66.9 191.4,71.8 191.5,72.7 191.5,93.2 191.6,62.6 191.6,47.8 191.7,90.4 191.8,53.8 191.8,22.1 191.9,40.3 191.9,62.5 192,69.9 192,54.5 192.1,61.4 192.1,74.8 192.2,59.2 192.2,73.8 192.3,89 192.3,43.5 192.4,71.9 192.4,75 192.5,63.7 192.5,86.3 192.6,83.8 192.6,73.7 192.7,73.9 192.8,66.8 192.8,54.3 192.9,73.3 192.9,61.8 193,60.5 193,80.6 193.1,65 193.1,78.9 193.2,55 193.2,62.3 193.3,67.5 193.3,83.7 193.4,66.3 193.4,76.8 193.5,59.3 193.5,69.1 193.6,77.4 193.6,56.7 193.7,59.1 193.7,74.8 193.8,53.9 193.9,71.3 193.9,71.4 194,66.2 194,76.7 194.1,73 194.1,69.6 194.2,49.5 194.2,49.8 194.3,70.8 194.3,48.5 194.4,68.2 194.4,63.2 194.5,57.2 194.5,64.2 194.6,40 194.6,64.8 194.7,82 194.7,52.2 194.8,72.6 194.9,71.3 194.9,97.8 195,55.8 195,58 195.1,58.2 195.1,56 195.2,47.6 195.2,68.2 195.3,56.5 195.3,76.6 195.4,71.9 195.4,55.1 195.5,63 195.5,83.6 195.6,63.4 195.6,69.9 195.7,77.4 195.7,62.5 195.8,72.5 195.9,86.4 195.9,80.9 196,46.6 196,85.7 196.1,65 196.1,60.4 196.2,60.1 196.2,82.3 196.3,71.5 196.3,66 196.4,58.2 196.4,75.4 196.5,81.6 196.5,55.8 196.6,54.5 196.6,63.3 196.7,75 196.7,62.9 196.8,66.4 196.8,57.7 196.9,82.6 197,66.3 197,69.6 197.1,80.9 197.1,65.1 197.2,67.3 197.2,72.6 197.3,63 197.3,84.6 197.4,68.3 197.4,62.6 197.5,64.3 197.5,54.9 197.6,82 197.6,85.7 197.7,64.9 197.7,62.3 197.8,42.5 197.8,60.4 197.9,78.1 198,58.1 198,77.8 198.1,85.4 198.1,39.2 198.2,63.8 198.2,59.2 198.3,61 198.3,46.1 198.4,64.3 198.4,53.2 198.5,79.9 198.5,84.3 198.6,50.7 198.6,50.1 198.7,61.6 198.7,65 198.8,65.7 198.8,75.9 198.9,49.4 199,59.9 199,61.7 199.1,63.2 199.1,55.2 199.2,61.7 199.2,58.8 199.3,81.6 199.3,61.6 199.4,41.7 199.4,73.9 199.5,69.2 199.5,57.1 199.6,56.3 199.6,60.3 199.7,87 199.7,61.7 199.8,81.8 199.8,77.5 199.9,61.2 199.9,71.2 200,58.1 200.1,36.9 200.1,58.4 200.2,59.1 200.2,78.4 200.3,75.4 200.3,80.4 200.4,74 200.4,80.7 200.5,75.6 200.5,70.2 200.6,79.6 200.6,84.6 200.7,83.9 200.7,62.3 200.8,67 200.8,55.5 200.9,55.3 200.9,71.8 201,59.7 201.1,84.9 201.1,40.5 201.2,53.5 201.2,70.3 201.3,81.6 201.3,63.2 201.4,90 201.4,77 201.5,58.8 201.5,66.8 201.6,73.5 201.6,56.4 201.7,80.1 201.7,64.3 201.8,73.6 201.8,77.8 201.9,62.2 201.9,79.5 202,45 202.1,74.7 202.1,44 202.2,80.7 202.2,60.5 202.3,82 202.3,83.7 202.4,65.8 202.4,59.6 202.5,82.9 202.5,53.6 202.6,77.2 202.6,66.1 202.7,63.2 202.7,60.6 202.8,89.1 202.8,48.4 202.9,61 202.9,72.8 203,79.9 203,87.9 203.1,83.9 203.2,61.2 203.2,71.8 203.3,81.2 203.3,74 203.4,49.1 203.4,71.6 203.5,74.7 203.5,51.6 203.6,62.2 203.6,67.2 203.7,74.9 203.7,86.2 203.8,81.6 203.8,73.4 203.9,70.3 203.9,63.5 204,61.1 204,65 204.1,65.1 204.2,79.7 204.2,93.4 204.3,73.9 204.3,79.1 204.4,75.5 204.4,71 204.5,82.5 204.5,80.9 204.6,68.9 204.6,66.3 204.7,75.5 204.7,61.8 204.8,70.3 204.8,79.8 204.9,67.2 204.9,45.3 205,75.7 205,53.8 205.1,51.3 205.2,49.9 205.2,77.5 205.3,43.7 205.3,66.3 205.4,70.7 205.4,70.4 205.5,60.5 205.5,67.1 205.6,69.8 205.6,52.4 205.7,76.3 205.7,80.1 205.8,58.3 205.8,59.3 205.9,54.7 205.9,80.5 206,54.8 206,62 206.1,46.7 206.1,82.6 206.2,65.1 206.3,71 206.3,86.6 206.4,76.2 206.4,54.3 206.5,73.3 206.5,76.3 206.6,57.4 206.6,55.9 206.7,55.9 206.7,77.1 206.8,68.4 206.8,55.4 206.9,75.5 206.9,76.6 207,57.8 207,49.1 207.1,81.4 207.1,96.2 207.2,85 207.3,79.8 207.3,69.3 207.4,60.4 207.4,69.4 207.5,76 207.5,65.9 207.6,79.2 207.6,68.3 207.7,75.3 207.7,38.9 207.8,58 207.8,77.6 207.9,79.6 207.9,72.9 208,87.3 208,76.4 208.1,76.5 208.1,57.2 208.2,72.8 208.3,77.1 208.3,83.7 208.4,81.7 208.4,68.5 208.5,70.3 208.5,54.2 208.6,75.2 208.6,55.1 208.7,64.6 208.7,67.8 208.8,91.6 208.8,83.1 208.9,58.9 208.9,51.1 209,65.2 209,58.6 209.1,72.6 209.1,72.1 209.2,75.6 209.2,56.1 209.3,63.6 209.4,70.5 209.4,71.6 209.5,61.1 209.5,63.9 209.6,77.6 209.6,47.3 209.7,64.6 209.7,67.6 209.8,50.1 209.8,55.5 209.9,68.7 209.9,61.3 210,80.4 210,75.3 210.1,94.6 210.1,53.2 210.2,90.3 210.2,59.6 210.3,77.6 210.4,79.4 210.4,70 210.5,64.5 210.5,60.4 210.6,46.6 210.6,63.4 210.7,57.2 210.7,74.8 210.8,59.2 210.8,65.9 210.9,73.2 210.9,68.8 211,68.4 211,65.4 211.1,62.9 211.1,73.8 211.2,76.5 211.2,58.8 211.3,87.9 211.4,75.1 211.4,49.2 211.5,96.6 211.5,76 211.6,59.5 211.6,87.4 211.7,39.2 211.7,96.1 211.8,50.6 211.8,49.2 211.9,56.8 211.9,70.3 212,63.4 212,78.4 212.1,58.1 212.1,81 212.2,71 212.2,55.8 212.3,81 212.3,72 212.4,65.7 212.5,83.7 212.5,53.8 212.6,63.6 212.6,85.7 212.7,68.3 212.7,76.9 212.8,75.5 212.8,66.8 212.9,76.2 212.9,56.2 213,76.1 213,56 213.1,68.2 213.1,57.5 213.2,74.1 213.2,73.7 213.3,81.4 213.3,60.8 213.4,56.5 213.5,42.5 213.5,52.3 213.6,64.7 213.6,70.2 213.7,63.1 213.7,68 213.8,50.3 213.8,56.5 213.9,77.7 213.9,75.9 214,51.4 214,64 214.1,70.5 214.1,53.6 214.2,72.3 214.2,71 214.3,73.2 214.3,91.1 214.4,57.4 214.5,82.1 214.5,74.5 214.6,76.6 214.6,59 214.7,68.5 214.7,67.5 214.8,87.7 214.8,68.7 214.9,85.3 214.9,64 215,63.3 215,67.9 215.1,43.4 215.1,61.4 215.2,60.6 215.2,66 215.3,70 215.3,56.2 215.4,54.6 215.4,83.2 215.5,55.1 215.6,61.6 215.6,56.3 215.7,62.1 215.7,82.5 215.8,81.7 215.8,46 215.9,64.7 215.9,84.6 216,63.6 216,72 216.1,89.7 216.1,94.9 216.2,86.8 216.2,64.5 216.3,68.3 216.3,70.7 216.4,64.3 216.4,60.5 216.5,92.7 216.6,71.3 216.6,77.6 216.7,82.4 216.7,74.2 216.8,69.2 216.8,70.9 216.9,85 216.9,73.5 217,43.7 217,80.3 217.1,87.8 217.1,64.4 217.2,60.6 217.2,62.2 217.3,81 217.3,55.8 217.4,77.1 217.4,81.2 217.5,74.9 217.6,69 217.6,59.2 217.7,60.3 217.7,68 217.8,56.6 217.8,66.7 217.9,57 217.9,84.4 218,86.4 218,58.5 218.1,84.3 218.1,71.3 218.2,68.9 218.2,73.5 218.3,73.1 218.3,51.1 218.4,95.9 218.4,57.2 218.5,23.1 218.5,67.4 218.6,67.9 218.7,59 218.7,45.9 218.8,81.8 218.8,66.7 218.9,69.9 218.9,61 219,65.8 219,59.8 219.1,72.7 219.1,67.1 219.2,75.7 219.2,75.6 219.3,69.4 219.3,69.4 219.4,81.7 219.4,49 219.5,69.3 219.5,84.2 219.6,54.6 219.7,76.6 219.7,61.6 219.8,67.9 219.8,64.7 219.9,65.7 219.9,74.5 220,67.2 220,43.5 220.1,94.3 220.1,66.9 220.2,62.5 220.2,80.2 220.3,84 220.3,42 220.4,72.1 220.4,42.9 220.5,61.3 220.5,66.8 220.6,62 220.7,60.1 220.7,53.7 220.8,62.5 220.8,66 220.9,65.6 220.9,51.6 221,58 221,79.6 221.1,75.3 221.1,63.8 221.2,75.1 221.2,72.2 221.3,79.1 221.3,70.8 221.4,62.7 221.4,55.8 221.5,67.6 221.5,43 221.6,68.6 221.6,36.8 221.7,55.8 221.8,61.8 221.8,73.6 221.9,97.1 221.9,69.5 222,65.6 222,44.8 222.1,84.1 222.1,45 222.2,70.7 222.2,59.1 222.3,95.9 222.3,66 222.4,71.8 222.4,59.6 222.5,66.6 222.5,81.3 222.6,56.4 222.6,59.4 222.7,60.6 222.8,55.7 222.8,54.6 222.9,68 222.9,83.9 223,84.2 223,51.6 223.1,59.2 223.1,66.5 223.2,72.9 223.2,67.3 223.3,67.4 223.3,71.7 223.4,76 223.4,41.9 223.5,65 223.5,74.9 223.6,83.2 223.6,76.3 223.7,97.4 223.8,58.7 223.8,70.3 223.9,67.1 223.9,71.3 224,80.9 224,52.2 224.1,63.3 224.1,39.7 224.2,76.7 224.2,69.3 224.3,57.2 224.3,70.6 224.4,84.2 224.4,79 224.5,66.5 224.5,63.6 224.6,68.8 224.6,55.7 224.7,55.9 224.7,63.9 224.8,67.4 224.9,70.7 224.9,61.1 225,56.7 225,67 225.1,62.3 225.1,71.6 225.2,84.5 225.2,79.6 225.3,58.6 225.3,62.4 225.4,48.8 225.4,67 225.5,57.4 225.5,51.9 225.6,55.9 225.6,74.9 225.7,69.9 225.7,66.2 225.8,79.4 225.9,62.1 225.9,55.5 226,73.4 226,44.2 226.1,71.2 226.1,70.1 226.2,70.5 226.2,76.1 226.3,62.7 226.3,67.5 226.4,47.9 226.4,60.5 226.5,61.3 226.5,70.3 226.6,84.5 226.6,68.8 226.7,77.8 226.7,56.4 226.8,68.1 226.9,47.9 226.9,58.9 227,57.7 227,65 227.1,65.2 227.1,59.9 227.2,56.7 227.2,76.2 227.3,61.8 227.3,39.1 227.4,68.8 227.4,70.7 227.5,75.9 227.5,85 227.6,53.5 227.6,67 227.7,64.1 227.7,45.7 227.8,39.6 227.8,78.3 227.9,55.1 228,60.3 228,62.9 228.1,62 228.1,68 228.2,48.7 228.2,60.4 228.3,63.6 228.3,52.8 228.4,57 228.4,62.2 228.5,63.8 228.5,46.8 228.6,61.6 228.6,68.7 228.7,77.9 228.7,71.8 228.8,80.2 228.8,66.4 228.9,64.6 229,92.1 229,67.4 229.1,59.9 229.1,65.7 229.2,79 229.2,52.6 229.3,76 229.3,82.3 229.4,80.5 229.4,67.8 229.5,56 229.5,53.8 229.6,65.2 229.6,81.9 229.7,75.5 229.7,78.4 229.8,69.8 229.8,88.8 229.9,66.4 230,60 230,69.5 230.1,62.2 230.1,78.9 230.2,85 230.2,75.3 230.3,53.9 230.3,55.4 230.4,73.1 230.4,53.4 230.5,71.6 230.5,49.7 230.6,61.9 230.6,73.1 230.7,58.2 230.7,76.9 230.8,78.8 230.8,85 230.9,64.6 230.9,68.3 231,68.6 231.1,72.6 231.1,50.6 231.2,72.7 231.2,76.3 231.3,52.9 231.3,50.8 231.4,63.7 231.4,88.4 231.5,31.8 231.5,60.4 231.6,67.5 231.6,49.2 231.7,84 231.7,59.6 231.8,75.2 231.8,51.9 231.9,68.6 231.9,55.4 232,75.4 232.1,84.5 232.1,80.9 232.2,74.9 232.2,79.9 232.3,53.4 232.3,51.8 232.4,64.4 232.4,80 232.5,69.1 232.5,75.9 232.6,50.4 232.6,63.9 232.7,61.9 232.7,72.5 232.8,91.7 232.8,76.9 232.9,81 232.9,63.3 233,66.6 233.1,77.2 233.1,72.3 233.2,49 233.2,79.1 233.3,78.6 233.3,70.4 233.4,76 233.4,72.8 233.5,61.4 233.5,47.1 233.6,88.9 233.6,67.9 233.7,67.2 233.7,68.7 233.8,69.9 233.8,71.8 233.9,55.7 233.9,73.2 234,69.2 234,67.7 234.1,66.4 234.2,69.7 234.2,55.8 234.3,67.8 234.3,65.6 234.4,68.3 234.4,79.6 234.5,77.6 234.5,80.2 234.6,65.4 234.6,76.2 234.7,80.3 234.7,64.9 234.8,61.4 234.8,88.7 234.9,47.6 234.9,67.3 235,69 235,55 235.1,66.9 235.2,74.9 235.2,41.6 235.3,80.5 235.3,68.9 235.4,57.6 235.4,80.4 235.5,68.9 235.5,63.1 235.6,40.1 235.6,78.3 235.7,68.3 235.7,59.9 235.8,66.7 235.8,82 235.9,62.8 235.9,66.4 236,62.4 236,54.2 236.1,55.6 236.2,62.8 236.2,64 236.3,80.8 236.3,69.3 236.4,65.1 236.4,72.5 236.5,66.5 236.5,77.5 236.6,49.4 236.6,42.1 236.7,72.3 236.7,62.9 236.8,70.5 236.8,52.7 236.9,62.5 236.9,66.8 237,70.4 237,66.2 237.1,79.6 237.1,59.7 237.2,76.2 237.3,61.3 237.3,66.2 237.4,54.7 237.4,67.9 237.5,55.5 237.5,78.7 237.6,60.4 237.6,70.4 237.7,65.4 237.7,66.8 237.8,56.5 237.8,91.8 237.9,63.9 237.9,85.5 238,53.3 238,91.2 238.1,79.7 238.1,87.6 238.2,48.2 238.3,83.1 238.3,66.3 238.4,74.1 238.4,89.1 238.5,71.7 238.5,59.8 238.6,69.9 238.6,56.5 238.7,72 238.7,67.6 238.8,72.3 238.8,63.6 238.9,45.1 238.9,63.4 239,65.4 239,75.1 239.1,76.7 239.1,50.3 239.2,80.9 239.3,78.6 239.3,68.9 239.4,72.8 239.4,44.4 239.5,95.2 239.5,63.4 239.6,59.2 239.6,81 239.7,75.4 239.7,31.8 239.8,48.3 239.8,78.7 239.9,86.5 239.9,56.1 240,49.6 240,71.7 240.1,94.1 240.1,50.4 240.2,70.1 240.2,54.3 240.3,68.2 240.4,72.2 240.4,73.1 240.5,50.2 240.5,50.6 240.6,93.2 240.6,78.9 240.7,46.5 240.7,72.1 240.8,83.9 240.8,67.6 240.9,69 240.9,68.9 241,73.4 241,71.4 241.1,73.1 241.1,63.7 241.2,99.8 241.2,71.1 241.3,69.4 241.4,52.1 241.4,63.3 241.5,69 241.5,61.3 241.6,62.9 241.6,54.7 241.7,61.7 241.7,46.3 241.8,51.7 241.8,68.2 241.9,72.6 241.9,57.2 242,61.5 242,68.8 242.1,85.3 242.1,89.5 242.2,63.6 242.2,58.5 242.3,58.1 242.4,83 242.4,55.3 242.5,74.1 242.5,63.1 242.6,62.7 242.6,77.3 242.7,74.7 242.7,92.4 242.8,78.6 242.8,28.7 242.9,62.5 242.9,67 243,56.8 243,63.5 243.1,75.3 243.1,63.6 243.2,72.3 243.2,60.4 243.3,63.9 243.3,79.5 243.4,67.7 243.5,67 243.5,71.4 243.6,57 243.6,47.3 243.7,72.1 243.7,71.9 243.8,94.5 243.8,69.2 243.9,72.9 243.9,93.4 244,64.3 244,60.7 244.1,76.4 244.1,72.1 244.2,79.2 244.2,58.6 244.3,85.8 244.3,71.4 244.4,44.5 244.5,67.1 244.5,62.1 244.6,69.4 244.6,81.7 244.7,68.1 244.7,62.9 244.8,79.9 244.8,63.6 244.9,52.9 244.9,55 245,86.5 245,79.3 245.1,86.9 245.1,54.9 245.2,60.4 245.2,59.3 245.3,78.2 245.3,81.6 245.4,66.8 245.5,66.5 245.5,77.9 245.6,66 245.6,60 245.7,65 245.7,80.1 245.8,92.9 245.8,70.8 245.9,65.7 245.9,70.8 246,72.8 246,75.9 246.1,59.2 246.1,68.3 246.2,66.2 246.2,79.3 246.3,75.1 246.3,65.7 246.4,79.7 246.4,82.7 246.5,71.6 246.6,53.4 246.6,65.4 246.7,50.3 246.7,69.3 246.8,71.4 246.8,84.3 246.9,74.6 246.9,50.6 247,63.8 247,59 247.1,59.3 247.1,67.8 247.2,70.1 247.2,66.3 247.3,59.7 247.3,62.2 247.4,61.8 247.4,65.9 247.5,76.9 247.6,70.8 247.6,78.9 247.7,55.7 247.7,92.7 247.8,70.3 247.8,40.1 247.9,71.8 247.9,81.2 248,67.9 248,52.3 248.1,69.6 248.1,60.4 248.2,66.5 248.2,72.1 248.3,36.9 248.3,66.9 248.4,74.1 248.4,73.5 248.5,63.2 248.6,62.8 248.6,58.5 248.7,66 248.7,84.7 248.8,61.4 248.8,71.4 248.9,71.1 248.9,85.4 249,74.5 249,76.4 249.1,68.1 249.1,85 249.2,67.1 249.2,66.2 249.3,81 249.3,75.1 249.4,77.9 249.4,56.9 249.5,95.9 249.6,71.8 249.6,87.5 249.7,72.8 249.7,57.6 249.8,75.2 249.8,66.1 249.9,77.8 249.9,44.6 250,56.8 250,54.3 250.1,83.5 250.1,80.8 250.2,54.8 250.2,70 250.3,70.8 250.3,63.7 250.4,82.6 250.4,58.5 250.5,67.5 250.5,62 250.6,75.7 250.7,61.6 250.7,76.1 250.8,56.3 250.8,54.2 250.9,56.8 250.9,61.5 251,60.2 251,96.6 251.1,57.8 251.1,71 251.2,66.6 251.2,71.1 251.3,84.3 251.3,74.1 251.4,59.9 251.4,50.8 251.5,75.1 251.5,78.5 251.6,50.4 251.7,78.2 251.7,43 251.8,67.1 251.8,78.2 251.9,56 251.9,47.5 252,84.8 252,49.1 252.1,71.1 252.1,50 252.2,72.2 252.2,86.5 252.3,61.7 252.3,56.7 252.4,42.7 252.4,47.2 252.5,59.4 252.5,70.5 252.6,73.9 252.7,71.2 252.7,77.6 252.8,71 252.8,95.9 252.9,65.6 252.9,68 253,39.4 253,58.7 253.1,73.4 253.1,61 253.2,82.3 253.2,74.9 253.3,89.9 253.3,50.6 253.4,60.6 253.4,81.7 253.5,68.4 253.5,56.4 253.6,61.8 253.6,63.1 253.7,77.9 253.8,75.3 253.8,66.6 253.9,56.7 253.9,77.6 254,81.1 254,54.1 254.1,78.8 254.1,54.9 254.2,64.8 254.2,57.2 254.3,46.9 254.3,59.5 254.4,58.5 254.4,78.6 254.5,76 254.5,60 254.6,49.4 254.6,51.1 254.7,40.4 254.8,64 254.8,65.3 254.9,55.7 254.9,67.5 255,68.4 255,80.2 255.1,55.9 255.1,80.5 255.2,61.6 255.2,84.6 255.3,54.6 255.3,80 255.4,57.7 255.4,86.6 255.5,72.9 255.5,53.7 255.6,77.3 255.6,66.9 255.7,73.4 255.8,95 255.8,64 255.9,62.6 255.9,80.9 256,60.9 256,77.2 256.1,79.6 256.1,67.6 256.2,75.8 256.2,40.5 256.3,86.2 256.3,58.9 256.4,55.9 256.4,91.3 256.5,88.3 256.5,61 256.6,73.4 256.6,63.1 256.7,54.1 256.7,72.1 256.8,80.4 256.9,96.7 256.9,65.3 257,78.8 257,64 257.1,64.9 257.1,84.2 257.2,47.2 257.2,54.8 257.3,57.6 257.3,81.8 257.4,72.6 257.4,74.2 257.5,72.6 257.5,81.1 257.6,62.5 257.6,65 257.7,63.3 257.7,73.7 257.8,52.3 257.9,65.5 257.9,96.7 258,75.3 258,68.4 258.1,56.2 258.1,71.3 258.2,70.7 258.2,75.6 258.3,59.8 258.3,73 258.4,74.9 258.4,76.5 258.5,61.1 258.5,74 258.6,87.7 258.6,60.3 258.7,76.1 258.7,63.4 258.8,63.2 258.9,53.4 258.9,55.3 259,74.5 259,69.7 259.1,83.1 259.1,47.7 259.2,62.4 259.2,51.1 259.3,71.5 259.3,92.1 259.4,49.5 259.4,66.6 259.5,66.1 259.5,67 259.6,60 259.6,61.4 259.7,86.6 259.7,54.8 259.8,74 259.8,73.3 259.9,47.1 260,56.7 260,71.7 260.1,89.8 260.1,65.8 260.2,61.3 260.2,68.7 260.3,82.5 260.3,77.1 260.4,82.6 260.4,65.1 260.5,57.9 260.5,55.5 260.6,76.4 260.6,64.9 260.7,61.1 260.7,73.8 260.8,69.5 260.8,42.4 260.9,65.3 261,57.2 261,72.9 261.1,67.2 261.1,88.1 261.2,68 261.2,53.5 261.3,42.7 261.3,53.4 261.4,59.5 261.4,67.1 261.5,74.8 261.5,69.6 261.6,60.4 261.6,77.1 261.7,56.6 261.7,79.4 261.8,88.9 261.8,79.8 261.9,87.5 262,84 262,54.2 262.1,70.1 262.1,65.1 262.2,53.9 262.2,52.7 262.3,73.7 262.3,51.9 262.4,63.1 262.4,67.7 262.5,62.4 262.5,84.7 262.6,77.1 262.6,69 262.7,60.4 262.7,72.1 262.8,69.2 262.8,56.2 262.9,50.9 262.9,58.6 263,52.6 263.1,72.5 263.1,71.3 263.2,63.9 263.2,27.6 263.3,73.7 263.3,48 263.4,70.1 263.4,79.2 263.5,61.9 263.5,45.8 263.6,66.7 263.6,53 263.7,72.9 263.7,73.6 263.8,75.9 263.8,69.4 263.9,45.8 263.9,81.5 264,48.2 264.1,79.7 264.1,70.5 264.2,57.7 264.2,60.2 264.3,64.3 264.3,87.3 264.4,63.4 264.4,79.9 264.5,39.4 264.5,70.2 264.6,65.5 264.6,81.4 264.7,73.4 264.7,83.1 264.8,56 264.8,70.8 264.9,61 264.9,75.9 265,73.7 265.1,52.4 265.1,79.3 265.2,89.2 265.2,62.9 265.3,81.3 265.3,72.9 265.4,56.8 265.4,77.4 265.5,57.2 265.5,105.2 265.6,49.9 265.6,51.9 265.7,73.3 265.7,70.2 265.8,77.6 265.8,65.3 265.9,54 265.9,84.9 266,56.8 266,83.5 266.1,77.9 266.2,89 266.2,42.6 266.3,67 266.3,64.8 266.4,75.8 266.4,55 266.5,92.7 266.5,67.4 266.6,41.4 266.6,72.2 266.7,67.5 266.7,59.7 266.8,77.4 266.8,67.4 266.9,56.3 266.9,65.4 267,63.3 267,71.9 267.1,63.9 267.2,67 267.2,50.4 267.3,59.1 267.3,70.6 267.4,95.5 267.4,59.2 267.5,58.7 267.5,78.6 267.6,91.5 267.6,81.3 267.7,56.7 267.7,80.4 267.8,73.2 267.8,65.1 267.9,53.1 267.9,67.9 268,68.9 268,74.2 268.1,48.3 268.2,55 268.2,68.8 268.3,84.3 268.3,77.1 268.4,60.8 268.4,76.3 268.5,57.1 268.5,63.4 268.6,64.2 268.6,59.9 268.7,61.8 268.7,77.9 268.8,71.6 268.8,40.3 268.9,82.1 268.9,73.4 269,55 269,69.6 269.1,77.4 269.1,83.5 269.2,61.3 269.3,55.6 269.3,51 269.4,67.1 269.4,55.3 269.5,80 269.5,65.7 269.6,75.8 269.6,65.6 269.7,58.8 269.7,55 269.8,79.5 269.8,52.6 269.9,73.3 269.9,79.9 270,69.7 270,85.1 270.1,67.6 270.1,64.2 270.2,70.1 270.3,61.3 270.3,71.4 270.4,67.7 270.4,84.9 270.5,67.2 270.5,77.8 270.6,73.1 270.6,68.8 270.7,65.4 270.7,87.3 270.8,86.3 270.8,71.3 270.9,62.1 270.9,63.4 271,57.1 271,52.2 271.1,61.8 271.1,67.9 271.2,80 271.3,79 271.3,73.3 271.4,64.5 271.4,65.1 271.5,67.6 271.5,69.5 271.6,60.2 271.6,65.2 271.7,64.2 271.7,64 271.8,74.2 271.8,80 271.9,61.9 271.9,62.7 272,70.3 272,72.7 272.1,40.6 272.1,76.7 272.2,70.3 272.2,64.5 272.3,81.4 272.4,66.3 272.4,46.3 272.5,56.6 272.5,60.2 272.6,60.6 272.6,66.4 272.7,56.3 272.7,69.6 272.8,72.7 272.8,66.5 272.9,56.9 272.9,63.8 273,59.7 273,91.8 273.1,53.5 273.1,40.3 273.2,51.8 273.2,71.5 273.3,77.8 273.4,64.4 273.4,79.5 273.5,59.1 273.5,74 273.6,56.3 273.6,51.5 273.7,91.9 273.7,64.2 273.8,76 273.8,84.5 273.9,75.1 273.9,70.3 274,55.4 274,85.8 274.1,55.2 274.1,43.7 274.2,60.6 274.2,61.2 274.3,67.9 274.4,81.7 274.4,61.3 274.5,63.1 274.5,59 274.6,39.4 274.6,59 274.7,62.6 274.7,49.1 274.8,83.7 274.8,81.3 274.9,72.2 274.9,75.5 275,59.4 275,71.5 275.1,47 275.1,49.6 275.2,58.5 275.2,72.3 275.3,60.4 275.3,58 275.4,80.4 275.5,63.5 275.5,59.3 275.6,65.1 275.6,49 275.7,53.2 275.7,77.5 275.8,66.2 275.8,77.7 275.9,60.8 275.9,78 276,56.7 276,63.1 276.1,56.1 276.1,69.4 276.2,85 276.2,46.7 276.3,69.8 276.3,51.3 276.4,62.6 276.5,59.7 276.5,45.9 276.6,63.6 276.6,51 276.7,85.4 276.7,57.3 276.8,70.6 276.8,69.3 276.9,67.6 276.9,63.6 277,48 277,89.8 277.1,67.2 277.1,76.2 277.2,29.7 277.2,72.7 277.3,62.3 277.3,72.4 277.4,59.7 277.5,55.6 277.5,72.4 277.6,67.1 277.6,84.6 277.7,64.1 277.7,57.5 277.8,74.3 277.8,54.4 277.9,92.4 277.9,89.7 278,84.2 278,73.5 278.1,67.5 278.1,68.6 278.2,68.5 278.2,59.1 278.3,73.3 278.3,82.7 278.4,82.5 278.4,42.5 278.5,95.1 278.6,69.8 278.6,50.3 278.7,61.9 278.7,77.6 278.8,67.7 278.8,57.4 278.9,53.3 278.9,78.4 279,58.6 279,64.7 279.1,54.5 279.1,51.1 279.2,71.8 279.2,85 279.3,28.1 279.3,46.5 279.4,59.5 279.4,65 279.5,40.1 279.6,80.1 279.6,56.9 279.7,74.5 279.7,67.1 279.8,66.6 279.8,49.7 279.9,78.8 279.9,74.1 280,86.7 280,61.9 280.1,73.2 280.1,62.7 280.2,80.5 280.2,72 280.3,104.6 280.3,69.8 280.4,60.2 280.4,61.4 280.5,71.9 280.6,86.3 280.6,56 280.7,65.7 280.7,56 280.8,91.7 280.8,87.4 280.9,93.2 280.9,78.1 281,55.3 281,61 281.1,68.1 281.1,66.1 281.2,58.6 281.2,71.3 281.3,63 281.3,66 281.4,93.7 281.4,72.3 281.5,51.5 281.5,72.4 281.6,69.4 281.7,74.9 281.7,73.5 281.8,54.3 281.8,70.9 281.9,79.9 281.9,98.3 282,74.5 282,91.1 282.1,89.4 282.1,58.2 282.2,59.3 282.2,90.5 282.3,57.6 282.3,62.2 282.4,77 282.4,59 282.5,87.1 282.5,82 282.6,84.8 282.7,80.9 282.7,57.2 282.8,83.6 282.8,81.4 282.9,79 282.9,65.4 283,71.7 283,57.4 283.1,76.2 283.1,83.1 283.2,73.7 283.2,67.3 283.3,78.8 283.3,64.4 283.4,46.1 283.4,74.7 283.5,67.3 283.5,51.7 283.6,75.5 283.7,77.9 283.7,80.9 283.8,63.1 283.8,61.7 283.9,69.6 283.9,67.4 284,52.7 284,57.6 284.1,84.6 284.1,68.1 284.2,66.7 284.2,59.4 284.3,70.6 284.3,75.7 284.4,73.5 284.4,89.2 284.5,68.3 284.5,75.1 284.6,62.5 284.6,80.3 284.7,73.2 284.8,79.7 284.8,80.8 284.9,59.8 284.9,73.6 285,62.8 285,81.4 285.1,67 285.1,88.2 285.2,73.8 285.2,74.1 285.3,61.2 285.3,66 285.4,70.3 285.4,58.2 285.5,65.9 285.5,61.8 285.6,59.1 285.6,69 285.7,71.7 285.8,64.3 285.8,73.2 285.9,63.6 285.9,55 286,58.1 286,72.8 286.1,83.5 286.1,68.9 286.2,69.7 286.2,55.1 286.3,72.8 286.3,70.7 286.4,59.5 286.4,73.9 286.5,70.1 286.5,47.9 286.6,50.5 286.6,60.8 286.7,65.1 286.8,79.8 286.8,61.6 286.9,67.6 286.9,65.6 287,74.4 287,68.4 287.1,70.5 287.1,64.5 287.2,51.3 287.2,64 287.3,88 287.3,79.8 287.4,87.1 287.4,77.7 287.5,61.6 287.5,63.5 287.6,75.4 287.6,65.1 287.7,77.3 287.7,85.2 287.8,85 287.9,78.5 287.9,51.4 288,84.2 288,53.5 288.1,52.5 288.1,70.4 288.2,68.9 288.2,75.6 288.3,68.6 288.3,60.5 288.4,68.2 288.4,56.4 288.5,54.2 288.5,64.2 288.6,64.4 288.6,69 288.7,64.2 288.7,81.6 288.8,63.5 288.9,65.9 288.9,78.6 289,42.7 289,79.9 289.1,78.6 289.1,65 289.2,91.3 289.2,77.7 289.3,86.4 289.3,79.8 289.4,69.9 289.4,64.5 289.5,55.2 289.5,58.8 289.6,54.3 289.6,61.3 289.7,73.9 289.7,55.1 289.8,74.1 289.9,75.6 289.9,50.2 290,59 290,65.7 290.1,59.4 290.1,57.9 290.2,84.6 290.2,69.5 290.3,82.4 290.3,66.9 290.4,76.3 290.4,52.2 290.5,62.2 290.5,78 290.6,26.2 290.6,82.8 290.7,67.9 290.7,61.9 290.8,65.2 290.8,91.3 290.9,72.4 291,62.3 291,64.7 291.1,54.6 291.1,83.7 291.2,62.1 291.2,76.1 291.3,66.1 291.3,63.5 291.4,60.2 291.4,75.2 291.5,66.2 291.5,82.3 291.6,85.2 291.6,61.8 291.7,69 291.7,87.7 291.8,78.5 291.8,68.2 291.9,49.9 292,55.9 292,58.9 292.1,89.6 292.1,69.5 292.2,62.7 292.2,63.7 292.3,63.4 292.3,71.2 292.4,47.5 292.4,50.8 292.5,69.5 292.5,80.1 292.6,43.9 292.6,75 292.7,54.1 292.7,45.7 292.8,79.6 292.8,64.9 292.9,72.5 293,62.3 293,64.6 293.1,45.2 293.1,61.4 293.2,68.5 293.2,55 293.3,71.6 293.3,72.7 293.4,41.7 293.4,78.2 293.5,74.2 293.5,67.9 293.6,81 293.6,93.5 293.7,55.8 293.7,77.7 293.8,74.8 293.8,72.8 293.9,80.1 293.9,81.2 294,66.5 294.1,40.3 294.1,59.6 294.2,59.5 294.2,86.3 294.3,68.7 294.3,32.8 294.4,59.2 294.4,71.1 294.5,67.9 294.5,69.5 294.6,75.4 294.6,86.5 294.7,61.5 294.7,84.9 294.8,82.5 294.8,71.9 294.9,76.8 294.9,65.3 295,56.4 295.1,65.4 295.1,66.1 295.2,68.1 295.2,58.2 295.3,90.4 295.3,64 295.4,79.5 295.4,83.1 295.5,68.3 295.5,73 295.6,61.5 295.6,55.3 295.7,95.3 295.7,69.3 295.8,45.1 295.8,58.1 295.9,51.2 295.9,67.2 296,85.5 296.1,81.8 296.1,59.9 296.2,57 296.2,77.1 296.3,71.6 296.3,65.3 296.4,89.2 296.4,72.6 296.5,49.1 296.5,42.4 296.6,69.7 296.6,46.6 296.7,74.7 296.7,78.1 296.8,94.9 296.8,57 296.9,72.9 296.9,40.6 297,64.4 297,66.2 297.1,89.9 297.2,50.5 297.2,72.7 297.3,70.3 297.3,94.7 297.4,57.4 297.4,56.6 297.5,75.6 297.5,67.3 297.6,63.7 297.6,56.9 297.7,67.1 297.7,47.9 297.8,71.3 297.8,75.6 297.9,73.9 297.9,96.2 298,78 298,56.4 298.1,65.2 298.2,78.1 298.2,64.2 298.3,92.4 298.3,71.7 298.4,62.1 298.4,60 298.5,77.6 298.5,57.5 298.6,46.1 298.6,73.4 298.7,59.5 298.7,86.9 298.8,91.7 298.8,61 298.9,67.8 298.9,66 299,75.3 299,71.8 299.1,58.7 299.2,47.9 299.2,70.9 299.3,88 299.3,53.1 299.4,61.1 299.4,60.2 299.5,66.1 299.5,40.6 299.6,67.4 299.6,62.2 299.7,90.4 299.7,75.2 299.8,33.8 299.8,68.7 299.9,64.2 299.9,77.2 300,47.7 300,81 300.1,73.7 300.1,65.5 300.2,83.2 300.3,61.5 300.3,60.8 300.4,71.8 300.4,45.6 300.5,67.3 300.5,65 300.6,79.8 300.6,88.3 300.7,75.8 300.7,72.1 300.8,73.7 300.8,59.1 300.9,95.5 300.9,81.8 301,90.1 301,52.3 301.1,75 301.1,74.4 301.2,81.4 301.3,57.6 301.3,73.2 301.4,65.7 301.4,92.6 301.5,54.3 301.5,63.6 301.6,61.7 301.6,53.6 301.7,70.6 301.7,70.3 301.8,59.7 301.8,63.2 301.9,71.2 301.9,67.8 302,74.3 302,59.8 302.1,57.2 302.1,68.2 302.2,45.9 302.3,86.6 302.3,71.1 302.4,47.9 302.4,73.3 302.5,87.4 302.5,51.6 302.6,61.8 302.6,82.5 302.7,59 302.7,80.5 302.8,84.3 302.8,70.1 302.9,74 302.9,81.4 303,72.6 303,80.3 303.1,67.6 303.1,68.5 303.2,59.4 303.2,73.7 303.3,84.2 303.4,84 303.4,71.2 303.5,49.9 303.5,58.1 303.6,75.9 303.6,57 303.7,82.1 303.7,56.2 303.8,72.8 303.8,59.1 303.9,60.8 303.9,71.6 304,64.3 304,81 304.1,69.1 304.1,55.3 304.2,33.1 304.2,59.9 304.3,67.2 304.4,80.3 304.4,55.6 304.5,88 304.5,77.8 304.6,64 304.6,82.6 304.7,49.9 304.7,55.2 304.8,75 304.8,74.9 304.9,84 304.9,85 305,63 305,60.8 305.1,64.1 305.1,65.1 305.2,74.9 305.2,63.9 305.3,85.8 305.4,68.2 305.4,50.6 305.5,52.4 305.5,73.8 305.6,72.2 305.6,51.8 305.7,46.9 305.7,86.1 305.8,73.3 305.8,65.4 305.9,53.7 305.9,78.3 306,60.6 306,71.8 306.1,40.3 306.1,63.1 306.2,69.9 306.2,72.2 306.3,55.6 306.3,60.1 306.4,81.2 306.5,65.6 306.5,84.2 306.6,77.3 306.6,83.7 306.7,84.1 306.7,76.4 306.8,80 306.8,61.9 306.9,58.7 306.9,71.1 307,81.6 307,58.6 307.1,101.1 307.1,91.3 307.2,59.5 307.2,60.4 307.3,56.6 307.3,70.8 307.4,83.3 307.5,74.3 307.5,61.5 307.6,77.4 307.6,76.6 307.7,84.9 307.7,82.2 307.8,58.1 307.8,62.8 307.9,82.1 307.9,81.2 308,75 308,61.7 308.1,82.2 308.1,70.2 308.2,93.9 308.2,83.3 308.3,63.2 308.3,57.5 308.4,82.1 308.5,77.5 308.5,58.7 308.6,72.9 308.6,74.7 308.7,62 308.7,65.9 308.8,54.9 308.8,58.7 308.9,75.1 308.9,69.6 309,68.9 309,84.4 309.1,79.9 309.1,56.6 309.2,87.2 309.2,56.3 309.3,64.8 309.3,69.9 309.4,61.8 309.4,62.5 309.5,53.8 309.6,73 309.6,70.9 309.7,71.1 309.7,45.7 309.8,56.9 309.8,79.2 309.9,72.2 309.9,76.6 310,68 310,65.6 310.1,40.8 310.1,90 310.2,55.9 310.2,63 310.3,76.6 310.3,70 310.4,74.1 310.4,67.6 310.5,56.1 310.6,86.3 310.6,52.5 310.7,72.6 310.7,50.2 310.8,63.2 310.8,53.4 310.9,61.4 310.9,55.2 311,67.5 311,78.1 311.1,60.1 311.1,59.6 311.2,43.1 311.2,92.1 311.3,70.5 311.3,55.4 311.4,83.1 311.4,70.8 311.5,42.8 311.6,51.2 311.6,78.6 311.7,51.1 311.7,54 311.8,58.8 311.8,63.5 311.9,65.2 311.9,78.5 312,74.2 312,59.3 312.1,66.4 312.1,46 312.2,72 312.2,95.5 312.3,72 312.3,64.7 312.4,63.5 312.4,67.2 312.5,77.9 312.5,50.2 312.6,76 312.7,59.6 312.7,71.5 312.8,82.3 312.8,51.2 312.9,95.9 312.9,78.2 313,62.9 313,72.3 313.1,59.1 313.1,69.2 313.2,73.4 313.2,42.2 313.3,70.6 313.3,69.9 313.4,80.9 313.4,76.9 313.5,60.2 313.5,61.3 313.6,67.9 313.7,76.3 313.7,59.8 313.8,88.2 313.8,72 313.9,70.9 313.9,78 314,66.1 314,75.9 314.1,77.5 314.1,46.4 314.2,59.1 314.2,53.6 314.3,67.3 314.3,56.4 314.4,58.6 314.4,53.4 314.5,40.2 314.5,70.5 314.6,64.8 314.7,68.4 314.7,100 314.8,84.5 314.8,67.6 314.9,60.3 314.9,33.4 315,54.3 315,52.5 315.1,72.7 315.1,50.8 315.2,46.9 315.2,62.2 315.3,79.4 315.3,50.3 315.4,69.7 315.4,72.2 315.5,66.3 315.5,74.1 315.6,55 315.6,58.5 315.7,53.2 315.8,60.8 315.8,77.2 315.9,69.6 315.9,57.3 316,72.5 316,37.9 316.1,70.6 316.1,74.7 316.2,54 316.2,58.8 316.3,68 316.3,70.4 316.4,62.6 316.4,57.7 316.5,58.6 316.5,71.3 316.6,62.6 316.6,57.6 316.7,58.6 316.8,98.2 316.8,78.3 316.9,76.9 316.9,70.4 317,65.6 317,56.7 317.1,60.3 317.1,69.2 317.2,67.4 317.2,46.8 317.3,75 317.3,64.1 317.4,49.1 317.4,63.6 317.5,92 317.5,63.2 317.6,72.3 317.6,69 317.7,55.2 317.8,62.1 317.8,70.8 317.9,57.1 317.9,62.5 318,66.4 318,64.1 318.1,64.7 318.1,71.7 318.2,73.2 318.2,67.4 318.3,79.1 318.3,82.7 318.4,102.5 318.4,70.6 318.5,68 318.5,69.3 318.6,67.4 318.6,67.4 318.7,66.9 318.7,77.3 318.8,56.6 318.9,75.9 318.9,55.4 319,90.6 319,80.3 319.1,55.9 319.1,69.5 319.2,75.7 319.2,63.2 319.3,80.2 319.3,66.8 319.4,94.1 319.4,73.1 319.5,75.4 319.5,61.3 319.6,57.3 319.6,77.9 319.7,48.5 319.7,74.8 319.8,92.2 319.9,95.3 319.9,49.4 320,68.7 320,75.4 320.1,76.6 320.1,80.7 320.2,51.6 320.2,68.7 320.3,46.4 320.3,70.1 320.4,95.1 320.4,57.6 320.5,72.1 320.5,70.5 320.6,49 320.6,70.8 320.7,53.9 320.7,67.8 320.8,76.7 320.9,61.7 320.9,74.9 321,53.1 321,56.3 321.1,67 321.1,60.4 321.2,61 321.2,71 321.3,57 321.3,70.4 321.4,60.4 321.4,79 321.5,66.5 321.5,62.7 321.6,77.1 321.6,72.6 321.7,74 321.7,59 321.8,76.2 321.8,62.4 321.9,49.5 322,63.4 322,86.8 322.1,66.1 322.1,55.2 322.2,71 322.2,54.4 322.3,60.3 322.3,62.6 322.4,70.7 322.4,73.7 322.5,70.7 322.5,66.8 322.6,61.4 322.6,62.6 322.7,71.2 322.7,66.8 322.8,63 322.8,86.9 322.9,76.7 323,77.1 323,70 323.1,70.8 323.1,70.6 323.2,77.9 323.2,59.5 323.3,64.2 323.3,87.1 323.4,67.4 323.4,80.9 323.5,47.3 323.5,72.9 323.6,72.2 323.6,66.5 323.7,69.9 323.7,68.2 323.8,49.1 323.8,64.8 323.9,57.6 324,54.1 324,79.1 324.1,47.4 324.1,59.3 324.2,56.1 324.2,77.8 324.3,57.8 324.3,62.6 324.4,73.9 324.4,40.5 324.5,60.7 324.5,70.3 324.6,65.2 324.6,56.6 324.7,54 324.7,60.5 324.8,53 324.8,50 324.9,82.2 325,73.3 325,78.7 325.1,66.3 325.1,50.3 325.2,59.7 325.2,79.9 325.3,71 325.3,55.2 325.4,73.8 325.4,68.6 325.5,63.8 325.5,89.2 325.6,58.2 325.6,63.4 325.7,60.7 325.7,79.1 325.8,76.6 325.8,74.6 325.9,64.5 325.9,66.6 326,65.9 326.1,46.1 326.1,51.9 326.2,76 326.2,75.2 326.3,47 326.3,71.2 326.4,51 326.4,48.4 326.5,73.9 326.5,70.7 326.6,66.5 326.6,77.7 326.7,79.1 326.7,72.2 326.8,57.3 326.8,72.8 326.9,69.9 326.9,73 327,83.7 327.1,49.8 327.1,95 327.2,75.3 327.2,60.8 327.3,84.1 327.3,60.3 327.4,52.5 327.4,77.7 327.5,65 327.5,80.7 327.6,61.4 327.6,66.4 327.7,64.9 327.7,51.2 327.8,61.9 327.8,51.4 327.9,59.9 327.9,81.8 328,64.4 328.1,61.6 328.1,84.7 328.2,51.6 328.2,66.7 328.3,63.1 328.3,78.1 328.4,66.6 328.4,63.9 328.5,71.4 328.5,66.5 328.6,92.7 328.6,51.3 328.7,80.7 328.7,93.5 328.8,78.9 328.8,77.4 328.9,61 328.9,78.4 329,64.1 329,78.9 329.1,41.2 329.2,61 329.2,44.2 329.3,79.6 329.3,59.6 329.4,78.9 329.4,60.6 329.5,59.4 329.5,86.5 329.6,81 329.6,81.4 329.7,85.4 329.7,76.2 329.8,78.9 329.8,84.7 329.9,66.4 329.9,61 330,83.2 330,74.2 330.1,67.4 330.2,70.3 330.2,75.9 330.3,57.9 330.3,57.5 330.4,59.5 330.4,70 330.5,43.9 330.5,46.8 330.6,72.3 330.6,69 330.7,53.4 330.7,77.1 330.8,62.8 330.8,67 330.9,75.9 330.9,70.3 331,86.3 331,74 331.1,107.6 331.2,40.5 331.2,49.7 331.3,53 331.3,64 331.4,55.7 331.4,52.4 331.5,55.5 331.5,56.7 331.6,78.5 331.6,62.5 331.7,74 331.7,81.7 331.8,81.2 331.8,62.5 331.9,55.1 331.9,83.9 332,46.9 332,50.1 332.1,72.2 332.1,73.2 332.2,68.5 332.3,56 332.3,72.2 332.4,80.8 332.4,63.6 332.5,92.3 332.5,66 332.6,53.9 332.6,64 332.7,58.4 332.7,61.8 332.8,59 332.8,66 332.9,77.6 332.9,70.4 333,68.6 333,52.7 333.1,48.3 333.1,62.7 333.2,76.7 333.3,76.4 333.3,69.9 333.4,51.2 333.4,63.7 333.5,68.4 333.5,76.8 333.6,57.2 333.6,64.3 333.7,68.3 333.7,66.5 333.8,32.2 333.8,69.6 333.9,47.6 333.9,52.9 334,67.1 334,57.2 334.1,69.2 334.1,77.6 334.2,70.9 334.3,78.5 334.3,61.6 334.4,67.5 334.4,60.9 334.5,57.9 334.5,98.3 334.6,64 334.6,89.2 334.7,65.7 334.7,78.1 334.8,66.5 334.8,51.4 334.9,88 334.9,65.4 335,68.6 335,90.2 335.1,60 335.1,67.3 335.2,73.8 335.2,76.3 335.3,36.7 335.4,72.4 335.4,89.1 335.5,78.8 335.5,72.1 335.6,72.3 335.6,68.6 335.7,80.2 335.7,61.3 335.8,73.5 335.8,83.9 335.9,77.4 335.9,72.3 336,57.6 336,61.9 336.1,71.7 336.1,67.5 336.2,65.1 336.2,43.4 336.3,75.1 336.4,62.1 336.4,59 336.5,79.1 336.5,65.4 336.6,65.8 336.6,73.3 336.7,60.9 336.7,55.5 336.8,54.2 336.8,70 336.9,65.4 336.9,40.3 337,80.8 337,65.1 337.1,57.1 337.1,65.9 337.2,59.9 337.2,65.6 337.3,58.7 337.4,52.4 337.4,70.3 337.5,65.3 337.5,68.4 337.6,72.5 337.6,67.9 337.7,81.2 337.7,58.8 337.8,47.4 337.8,47.4 337.9,52.5 337.9,79.2 338,49.6 338,76.2 338.1,68.3 338.1,45.7 338.2,80.5 338.2,57.7 338.3,105.6 338.3,69.5 338.4,78.1 338.5,62.7 338.5,73.2 338.6,55.3 338.6,53.1 338.7,84.1 338.7,73.7 338.8,71.5 338.8,81.8 338.9,81 338.9,66.6 339,31.8 339,87.4 339.1,74.1 339.1,61.5 339.2,82.1 339.2,78.7 339.3,48.8 339.3,52 339.4,87 339.5,83.8 339.5,63.2 339.6,81.9 339.6,70.7 339.7,73.1 339.7,61 339.8,95.9 339.8,93.9 339.9,82.3 339.9,55.6 340,69.5 340,88 340.1,61.8 340.1,59.3 340.2,70.6 340.2,71.6 340.3,62.5 340.3,53.3 340.4,65.9 340.5,61.4 340.5,68.3 340.6,72.2 340.6,78.6 340.7,64.6 340.7,71.3 340.8,70.6 340.8,56.6 340.9,61.9 340.9,57.3 341,86.5 341,61.1 341.1,74.7 341.1,77.3 341.2,77.8 341.2,53.3 341.3,57.8 341.3,76.2 341.4,81.2 341.4,67.5 341.5,73.2 341.6,47.9 341.6,85.1 341.7,89.5 341.7,70.7 341.8,67.6 341.8,66.1 341.9,58.7 341.9,43 342,71.8 342,74.2 342.1,88.7 342.1,64.8 342.2,57.5 342.2,70.8 342.3,53.6 342.3,67.3 342.4,49.7 342.4,63.7 342.5,80.3 342.6,75.3 342.6,86 342.7,88.4 342.7,64.5 342.8,57.3 342.8,44.4 342.9,68.4 342.9,70.5 343,80.9 343,55.9 343.1,63.1 343.1,74.8 343.2,59.5 343.2,61 343.3,90 343.3,58.9 343.4,66.1 343.4,72.4 343.5,72.7 343.6,46.9 343.6,49.4 343.7,46 343.7,81.4 343.8,75.5 343.8,56.9 343.9,82.1 343.9,76.3 344,89.2 344,45.6 344.1,55 344.1,62.2 344.2,65.1 344.2,72.7 344.3,72.4 344.3,60.4 344.4,76.2 344.4,53.1 344.5,73.6 344.5,78.1 344.6,52.2 344.7,69.4 344.7,61.1 344.8,72.6 344.8,94.5 344.9,61.2 344.9,83.7 345,54.8 345,86.2 345.1,89.9 345.1,64 345.2,62.6 345.2,66.4 345.3,82.2 345.3,57.1 345.4,85.1 345.4,73.2 345.5,77.1 345.5,72.2 345.6,57.5 345.7,75.3 345.7,61 345.8,59.4 345.8,88.1 345.9,81.6 345.9,72.3 346,74.8 346,64 346.1,90.7 346.1,59.1 346.2,58.8 346.2,69.7 346.3,84.2 346.3,67.6 346.4,74.1 346.4,61 346.5,68.7 346.5,59 346.6,72.9 346.7,50.5 346.7,94.9 346.8,79.8 346.8,61.9 346.9,85.7 346.9,58.9 347,82.2 347,66.6 347.1,78.6 347.1,73 347.2,65.6 347.2,68.9 347.3,72.2 347.3,42.1 347.4,67.6 347.4,79.3 347.5,56.7 347.5,57.9 347.6,53.1 347.6,46.4 347.7,78.9 347.8,55.1 347.8,54.1 347.9,67.7 347.9,64.8 348,97.9 348,74.5 348.1,46.4 348.1,89 348.2,74.1 348.2,64.3 348.3,60.8 348.3,48.3 348.4,88.7 348.4,67.2 348.5,57.5 348.5,83.3 348.6,68.2 348.6,45.3 348.7,52 348.8,61.3 348.8,96.2 348.9,69.3 348.9,63.1 349,71.4 349,68.5 349.1,37.2 349.1,70.3 349.2,79.2 349.2,64.8 349.3,71.5 349.3,71.4 349.4,68.7 349.4,58.5 349.5,64.9 349.5,82 349.6,69.3 349.6,62 349.7,73.3 349.8,54 349.8,58.4 349.9,79.5 349.9,63.9 350,44.1 350,49.1 350.1,68.4 350.1,57 350.2,75.7 350.2,84.9 350.3,61.1 350.3,64.8 350.4,61.6 350.4,68 350.5,63.8 350.5,73.8 350.6,62.1 350.6,57.8 350.7,68.4 350.7,58 350.8,88.8 350.9,77.1 350.9,50.5 351,46.7 351,64.7 351.1,68.9 351.1,82.8 351.2,63.4 351.2,58.4 351.3,31.8 351.3,61 351.4,61.9 351.4,62.4 351.5,81.1 351.5,61.2 351.6,85.5 351.6,50 351.7,66.1 351.7,81.6 351.8,51.7 351.9,54 351.9,75.4 352,41.5 352,79.7 352.1,64 352.1,53.6 352.2,94.7 352.2,55.8 352.3,68.5 352.3,67.9 352.4,80.5 352.4,63.8 352.5,80.9 352.5,79.2 352.6,73 352.6,82.3 352.7,49 352.7,83.5 352.8,76.7 352.9,71.5 352.9,67.7 353,58.3 353,58 353.1,71.3 353.1,72.3 353.2,67.3 353.2,57.9 353.3,59.4 353.3,73.8 353.4,92.2 353.4,42.2 353.5,56.4 353.5,64.6 353.6,63.6 353.6,73.9 353.7,79.6 353.7,71.7 353.8,70.3 353.8,75.1 353.9,85.1 354,71.4 354,29.3 354.1,73.6 354.1,67.4 354.2,92.4 354.2,70.2 354.3,69.2 354.3,82.3 354.4,88.3 354.4,62.8 354.5,77.3 354.5,61.9 354.6,72.7 354.6,60.3 354.7,71.7 354.7,85.6 354.8,68.7 354.8,71.6 354.9,59.9 355,73.1 355,72.4 355.1,57.5 355.1,53.8 355.2,58.7 355.2,55.3 355.3,62.3 355.3,58.5 355.4,57.2 355.4,62.9 355.5,67 355.5,66 355.6,40 355.6,67.5 355.7,70.5 355.7,72 355.8,68.1 355.8,64.8 355.9,81.2 356,91.3 356,64.2 356.1,86.8 356.1,64.6 356.2,66 356.2,54 356.3,47.8 356.3,63.3 356.4,74.3 356.4,81.7 356.5,77.1 356.5,67.2 356.6,92.3 356.6,66.8 356.7,67.8 356.7,60 356.8,71.7 356.8,66.5 356.9,76.5 356.9,73.2 357,88.8 357.1,66.2 357.1,49.3 357.2,65.8 357.2,63.3 357.3,79.4 357.3,50.7 357.4,76.8 357.4,58.2 357.5,11.2 357.5,79.1 357.6,55.5 357.6,67.5 357.7,65.6 357.7,62.3 357.8,68 357.8,72.2 357.9,62.1 357.9,72.5 358,66.9 358.1,75.7 358.1,85.4 358.2,75.7 358.2,73.6 358.3,67.5 358.3,53.6 358.4,87.8 358.4,66.2 358.5,94 358.5,80.2 358.6,73.7 358.6,94.5 358.7,89.8 358.7,65.9 358.8,66.8 358.8,69.1 358.9,77.3 358.9,42 359,69.6 359.1,78 359.1,47.7 359.2,60.4 359.2,72.1 359.3,53.5 359.3,65.8 359.4,60 359.4,64.9 359.5,79.9 359.5,56.1 359.6,65.8 359.6,79.7 359.7,76.8 359.7,56.3 359.8,72.1 359.8,67.1 359.9,59.9 359.9,66.2 360,85.9 360,60.1 360.1,56.5 360.2,57.4 360.2,48.4 360.3,63.4 360.3,58.4 360.4,48.8 360.4,71.2 360.5,47 360.5,47 360.6,58.4 360.6,45.8 360.7,57.6 360.7,78.2 360.8,54.2 360.8,63.8 360.9,62.8 360.9,65.9 361,51.5 361,61.1 361.1,76 361.2,61.9 361.2,59 361.3,76.3 361.3,72.9 361.4,72.3 361.4,74.9 361.5,63.5 361.5,55.6 361.6,45.2 361.6,53.5 361.7,55.5 361.7,54.1 361.8,51.8 361.8,72.2 361.9,59.4 361.9,63.9 362,69.2 362,73.1 362.1,73.7 362.2,70.9 362.2,82.4 362.3,61.5 362.3,68 362.4,66.4 362.4,63.7 362.5,59.1 362.5,74.7 362.6,69 362.6,86.9 362.7,94.1 362.7,90.8 362.8,49.4 362.8,89.5 362.9,62.1 362.9,50.1 363,73.2 363,48.3 363.1,45.7 363.1,56.4 363.2,40.2 363.3,60.3 363.3,76.4 363.4,61.5 363.4,72.9 363.5,83.2 363.5,82.9 363.6,40.4 363.6,74.1 363.7,67.9 363.7,75.5 363.8,66 363.8,70.4 363.9,72.5 363.9,82 364,84.4 364,76.4 364.1,64.1 364.1,42.8 364.2,55 364.3,45.8 364.3,61.8 364.4,68.6 364.4,83.3 364.5,67.5 364.5,93 364.6,71.1 364.6,48.1 364.7,63.6 364.7,54 364.8,72 364.8,83.9 364.9,73.2 364.9,72.2 365,53.1 365,43.9 365.1,76.3 365.1,71.7 365.2,69.2 365.3,71.6 365.3,82.2 365.4,66.3 365.4,63.1 365.5,62.8 365.5,81.8 365.6,68.8 365.6,88.1 365.7,56.5 365.7,79.5 365.8,70.7 365.8,72.7 365.9,74.3 365.9,80 366,88.4 366,46.7 366.1,64.3 366.1,64.2 366.2,42.4 366.2,68.5 366.3,60.8 366.4,67.1 366.4,53.2 366.5,61.4 366.5,63.6 366.6,70.4 366.6,64 366.7,53.5 366.7,92.1 366.8,68.9 366.8,72.3 366.9,70.9 366.9,90.8 367,58.6 367,77.4 367.1,70 367.1,73.3 367.2,87.2 367.2,72.6 367.3,89.2 367.4,78.5 367.4,71.1 367.5,67.4 367.5,66.6 367.6,68.9 367.6,41.8 367.7,62.1 367.7,81.9 367.8,74.6 367.8,75.1 367.9,69.4 367.9,74.5 368,77.5 368,47.7 368.1,66.8 368.1,71.3 368.2,70.3 368.2,69.9 368.3,50.7 368.4,61.6 368.4,53.9 368.5,98.2 368.5,63.4 368.6,54.7 368.6,43.8 368.7,66.9 368.7,87.7 368.8,60.3 368.8,74.4 368.9,88.6 368.9,74.7 369,54.7 369,53 369.1,58.7 369.1,79.8 369.2,39.4 369.2,81.2 369.3,68.2 369.3,84.5 369.4,51.6 369.5,61.9 369.5,56.7 369.6,66.2 369.6,68.1 369.7,65.2 369.7,89.7 369.8,55.4 369.8,117.9 369.9,71.9 369.9,67.4 370,63.7 370,48.5 370.1,62.1 370.1,66.7 370.2,73.3 370.2,85.1 370.3,74.3 370.3,66.3 370.4,70.2 370.5,66.3 370.5,58.3 370.6,62 370.6,63.9 370.7,59.4 370.7,64.9 370.8,67.5 370.8,61.6 370.9,87.7 370.9,34.4 371,82.5 371,57.2 371.1,67 371.1,53.9 371.2,66.7 371.2,78.4 371.3,54.3 371.3,64.9 371.4,65.7 371.5,66.1 371.5,55.2 371.6,57.4 371.6,64.4 371.7,85.6 371.7,71.9 371.8,65.8 371.8,45.7 371.9,62.5 371.9,68.2 372,52.8 372,68.4 372.1,67.4 372.1,65.2 372.2,84.9 372.2,55.7 372.3,62 372.3,70.4 372.4,80.7 372.4,64.5 372.5,50.4 372.6,74.7 372.6,79.7 372.7,62 372.7,86.1 372.8,93.5 372.8,72.3 372.9,75.3 372.9,70.3 373,73.6 373,63.1 373.1,69.7 373.1,74.2 373.2,72.5 373.2,59.5 373.3,55.6 373.3,56.2 373.4,58.7 373.4,98.8 373.5,78.9 373.6,70.8 373.6,64.6 373.7,86.3 373.7,50.1 373.8,63.4 373.8,74.4 373.9,65 373.9,71.1 374,76 374,61 374.1,72.4 374.1,83.8 374.2,74.5 374.2,68.3 374.3,79.8 374.3,52 374.4,79.9 374.4,46 374.5,56.3 374.6,78.2 374.6,65.4 374.7,52.9 374.7,69.2 374.8,81.2 374.8,65.6 374.9,43.2 374.9,84.7 375,60.3 375,66.8 375.1,68.3 375.1,71.6 375.2,70.7 375.2,54.6 375.3,59.8 375.3,78.8 375.4,48.3 375.4,82.3 375.5,59 375.5,64.7 375.6,52.6 375.7,62.6 375.7,54.3 375.8,67.2 375.8,55.3 375.9,62.8 375.9,41.3 376,75.1 376,52.6 376.1,61.3 376.1,64.7 376.2,73.6 376.2,61.5 376.3,84.4 376.3,83.1 376.4,58.4 376.4,85.3 376.5,49.7 376.5,70.1 376.6,63.8 376.7,65.9 376.7,61.8 376.8,70.1 376.8,71.2 376.9,68.3 376.9,54.3 377,53.3 377,51.6 377.1,62.5 377.1,69.2 377.2,86.8 377.2,59.1 377.3,56.8 377.3,71.6 377.4,57.2 377.4,51.4 377.5,65.7 377.5,54.2 377.6,63.1 377.7,87.5 377.7,72.4 377.8,71.7 377.8,60.5 377.9,77.1 377.9,72 378,78.2 378,67.2 378.1,66 378.1,55.2 378.2,57.3 378.2,64.8 378.3,63.9 378.3,65.5 378.4,65.4 378.4,48.4 378.5,95.4 378.5,68.9 378.6,63.1 378.6,53.3 378.7,79.8 378.8,62.7 378.8,56.5 378.9,72.1 378.9,89.5 379,71.1 379,81.1 379.1,59 379.1,76.9 379.2,45.6 379.2,65.1 379.3,76.4 379.3,72.8 379.4,79.8 379.4,62.1 379.5,49 379.5,69.3 379.6,55.8 379.6,78 379.7,63.1 379.8,40.1 379.8,83.5 379.9,52.1 379.9,52.8 380,89.2 380,83.9 380.1,78.4 380.1,55.2 380.2,71.9 380.2,68.8 380.3,58.4 380.3,65.4 380.4,64.1 380.4,70.6 380.5,53.4 380.5,76.1 380.6,46.8 380.6,70.8 380.7,76.3 380.8,59.1 380.8,61.4 380.9,90.4 380.9,64.2 381,82.9 381,76.7 381.1,57.4 381.1,77.1 381.2,62.6 381.2,71.3 381.3,43.8 381.3,68 381.4,80.8 381.4,80 381.5,77.6 381.5,65.3 381.6,66.9 381.6,55.3 381.7,64.9 381.7,65.3 381.8,63 381.9,68.4 381.9,63.4 382,57.6 382,57.6 382.1,73.4 382.1,88 382.2,76.5 382.2,63.6 382.3,95.4 382.3,72.6 382.4,61.6 382.4,73.7 382.5,80.3 382.5,46.1 382.6,50.5 382.6,70 382.7,51.2 382.7,51.5 382.8,80.4 382.9,38.6 382.9,78.1 383,70.1 383,80 383.1,66.1 383.1,82.7 383.2,67.1 383.2,54.1 383.3,64.5 383.3,70.2 383.4,48.6 383.4,77.7 383.5,55.5 383.5,70.7 383.6,64.5 383.6,66.7 383.7,65.6 383.7,67.7 383.8,76.4 383.9,73.9 383.9,61.8 384,68.4 384,81 384.1,75.5 384.1,75.4 384.2,67.8 384.2,65 384.3,66.1 384.3,75 384.4,67 384.4,83.5 384.5,97.2 384.5,67.9 384.6,86.9 384.6,78.5 384.7,81.6 384.7,59.8 384.8,81.7 384.8,64 384.9,73.1 385,82 385,86.1 385.1,61.8 385.1,62.8 385.2,58.1 385.2,45.6 385.3,64.2 385.3,100.4 385.4,68.9 385.4,66.2 385.5,71.6 385.5,78.1 385.6,43.7 385.6,89.6 385.7,64.5 385.7,62.2 385.8,65.7 385.8,79 385.9,69.8 386,73 386,80.4 386.1,68.1 386.1,72.4 386.2,74.2 386.2,59.5 386.3,80.2 386.3,62.4 386.4,74.9 386.4,62.6 386.5,66.8 386.5,64.8 386.6,79.4 386.6,76.9 386.7,77.9 386.7,65.7 386.8,58.8 386.8,54.9 386.9,73.7 387,66.7 387,87 387.1,94.1 387.1,78.1 387.2,75.7 387.2,86.3 387.3,88.9 387.3,61.5 387.4,77.4 387.4,87.8 387.5,40.5 387.5,65.8 387.6,71.6 387.6,59.8 387.7,76.9 387.7,49 387.8,86.2 387.8,83.4 387.9,69.6 387.9,77 388,51.2 388.1,87 388.1,76.7 388.2,65.2 388.2,61.3 388.3,56.1 388.3,63.9 388.4,41.9 388.4,73.7 388.5,66 388.5,57.9 388.6,71.8 388.6,71.6 388.7,73.6 388.7,75.7 388.8,81.5 388.8,74.7 388.9,86.5 388.9,63.6 389,87 389.1,43.7 389.1,48 389.2,55.1 389.2,70.7 389.3,75.2 389.3,53.7 389.4,66.1 389.4,61.6 389.5,76.8 389.5,55.6 389.6,77.7 389.6,67 389.7,88.8 389.7,76 389.8,62.3 389.8,73.6 389.9,73.6 389.9,58.9 390,69.1 390.1,53.5 390.1,95.6 390.2,61.5 390.2,62.3 390.3,86.6 390.3,83.7 390.4,57.9 390.4,81 390.5,75.9 390.5,61.2 390.6,72.3 390.6,62.7 390.7,78.6 390.7,64.8 390.8,55.5 390.8,64.5 390.9,94.4 390.9,60.6 391,67.6 391,79.1 391.1,51.8 391.2,89 391.2,46.1 391.3,75.8 391.3,49.7 391.4,68.9 391.4,84.1 391.5,67.2 391.5,64.4 391.6,61.9 391.6,55.8 391.7,79 391.7,62.5 391.8,59.6 391.8,71.6 391.9,79.4 391.9,79.7 392,59.5 392,58.9 392.1,78.2 392.2,84.2 392.2,53.7 392.3,86.8 392.3,66.5 392.4,77.9 392.4,89.2 392.5,66.9 392.5,70.6 392.6,51.3 392.6,41.4 392.7,70.6 392.7,56.2 392.8,56 392.8,74.6 392.9,78.6 392.9,49.3 393,72.7 393,68.7 393.1,71.8 393.2,69.9 393.2,75.5 393.3,59.5 393.3,53.5 393.4,72.8 393.4,84.7 393.5,67.8 393.5,86 393.6,75.9 393.6,53.8 393.7,40.9 393.7,63.9 393.8,81 393.8,59.1 393.9,112.2 393.9,76.6 394,50.3 394,59.5 394.1,84.7 394.1,88.1 394.2,58.2 394.3,68.9 394.3,75.4 394.4,63.5 394.4,75.2 394.5,91.1 394.5,58.8 394.6,76 394.6,80.3 394.7,84.2 394.7,65.4 394.8,77.9 394.8,61 394.9,71.5 394.9,55.6 395,72.9 395,76.1 395.1,91.7 395.1,81.4 395.2,59.8 395.3,37.6 395.3,83.2 395.4,80.7 395.4,64.4 395.5,62.7 395.5,76.4 395.6,67.4 395.6,87.4 395.7,71.9 395.7,57.7 395.8,49 395.8,70.3 395.9,71.4 395.9,63 396,55.2 396,62.6 396.1,77.2 396.1,64.1 396.2,56.9 396.3,76.8 396.3,84.2 396.4,62.3 396.4,64 396.5,56.9 396.5,67.3 396.6,76 396.6,73.5 396.7,80.5 396.7,79.6 396.8,75 396.8,74.1 396.9,55.1 396.9,82.9 397,68.9 397,75.3 397.1,50.7 397.1,65.2 397.2,72.7 397.2,58.7 397.3,67.5 397.4,73.9 397.4,50.1 397.5,59.9 397.5,47.8 397.6,54.6 397.6,59.1 397.7,66.7 397.7,81.1 397.8,59.9 397.8,67.4 397.9,60.3 397.9,68.3 398,76.4 398,80.2 398.1,60 398.1,52.9 398.2,71.6 398.2,62.8 398.3,51.8 398.4,78.1 398.4,72.2 398.5,81.5 398.5,54.3 398.6,65.1 398.6,73.7 398.7,87.8 398.7,70.3 398.8,56.4 398.8,71.7 398.9,73.2 398.9,60.6 399,82.8 399,67.6 399.1,61.1 399.1,77.4 399.2,78 399.2,65.2 399.3,69.3 399.4,71 399.4,65.7 399.5,65.5 399.5,79.1 399.6,76 399.6,62.8 399.7,54.9 399.7,52.1 399.8,78.2 399.8,55.2 399.9,59.2 399.9,68.5 400,62.4 400,58.3 400.1,47 400.1,80.6 400.2,61 400.2,69.8 400.3,70.6 400.4,54.6 400.4,58.4 400.5,80.1 400.5,71.4 400.6,65.4 400.6,84.8 400.7,57.9 400.7,69 400.8,66.2 400.8,64.1 400.9,46.8 400.9,67.6 401,72.3 401,47.6 401.1,74 401.1,74.3 401.2,84.4 401.2,55.3 401.3,64.9 401.3,62.5 401.4,66.1 401.5,69.7 401.5,77.3 401.6,77.3 401.6,63 401.7,66.6 401.7,48.8 401.8,77 401.8,73.8 401.9,80.1 401.9,51.8 402,82.6 402,58.9 402.1,51.1 402.1,69.7 402.2,59.5 402.2,93.1 402.3,72.6 402.3,87.6 402.4,66 402.5,67.9 402.5,77.1 402.6,56.9 402.6,63.8 402.7,74.2 402.7,74.1 402.8,85.3 402.8,70.2 402.9,43.1 402.9,76.4 403,63.1 403,74.5 403.1,58.5 403.1,62.8 403.2,70.8 403.2,89 403.3,74.1 403.3,53.9 403.4,70.9 403.5,60.6 403.5,73.7 403.6,90 403.6,63 403.7,64.2 403.7,74.8 403.8,72.4 403.8,64.6 403.9,75 403.9,63.9 404,70.4 404,95.2 404.1,69.7 404.1,75 404.2,77.8 404.2,63.2 404.3,73.7 404.3,61.6 404.4,55.1 404.4,66.3 404.5,86.2 404.6,76.6 404.6,57.2 404.7,71 404.7,77.5 404.8,69 404.8,62 404.9,64.9 404.9,60.4 405,77.7 405,71.2 405.1,70.9 405.1,68.2 405.2,33.8 405.2,70.7 405.3,83.7 405.3,51.6 405.4,101.9 405.4,48.2 405.5,58.4 405.6,73.7 405.6,56.6 405.7,70.3 405.7,60.7 405.8,78.6 405.8,74.8 405.9,62.4 405.9,47.1 406,68.2 406,41.4 406.1,38.8 406.1,83 406.2,68.2 406.2,79.1 406.3,69.5 406.3,74.2 406.4,68.7 406.4,56.5 406.5,56.8 406.6,64.8 406.6,67.9 406.7,66.5 406.7,66.4 406.8,61.1 406.8,67.8 406.9,62 406.9,83.3 407,58.5 407,47.3 407.1,65.7 407.1,84.5 407.2,52 407.2,71.8 407.3,97.7 407.3,70.4 407.4,60.7 407.4,63.3 407.5,53.3 407.5,60.6 407.6,66.4 407.7,91.1 407.7,81 407.8,65.7 407.8,59.9 407.9,80 407.9,75.1 408,62.3 408,90.4 408.1,90.8 408.1,70.6 408.2,64.9 408.2,73.5 408.3,94.9 408.3,67.6 408.4,83.5 408.4,60.1 408.5,69 408.5,64.7 408.6,60.3 408.7,74.1 408.7,58.1 408.8,53.2 408.8,63.2 408.9,52.2 408.9,75.2 409,57 409,64.7 409.1,79.5 409.1,68.8 409.2,74.1 409.2,74.4 409.3,66.8 409.3,55.3 409.4,71.6 409.4,66.4 409.5,85.1 409.5,66.6 409.6,54.2 409.7,58.3 409.7,62.2 409.8,74 409.8,79.3 409.9,68.9 409.9,83.6 410,82.4 410,56.7 410.1,78.7 410.1,46.7 410.2,84.7 410.2,62.8 410.3,81.7 410.3,65.8 410.4,80.1 410.4,67.4 410.5,69.7 410.5,73.2 410.6,61.8 410.6,50 410.7,74.8 410.8,57.4 410.8,66.8 410.9,68.2 410.9,42 411,93.4 411,75.9 411.1,89.2 411.1,71.5 411.2,70.5 411.2,34.4 411.3,63.8 411.3,46.7 411.4,52.5 411.4,73 411.5,62.2 411.5,48.1 411.6,65.8 411.6,65.4 411.7,61.9 411.8,85.6 411.8,77.4 411.9,63.9 411.9,61.4 412,78.7 412,71.7 412.1,69.3 412.1,69.6 412.2,59.7 412.2,66.6 412.3,65.9 412.3,84.6 412.4,106 412.4,64.1 412.5,86.7 412.5,64.7 412.6,75.7 412.6,77.5 412.7,60.2 412.8,75.9 412.8,78 412.9,75.9 412.9,67.2 413,38.8 413,92.9 413.1,68.1 413.1,70.8 413.2,56.7 413.2,72.3 413.3,95.6 413.3,52.3 413.4,80.8 413.4,68.6 413.5,84.1 413.5,80.9 413.6,73.8 413.6,57.8 413.7,27.2 413.7,75 413.8,62 413.9,72.4 413.9,66.7 414,66.2 414,60.7 414.1,75.3 414.1,69.6 414.2,65.4 414.2,66.9 414.3,77.4 414.3,47.6 414.4,73.5 414.4,59.1 414.5,65.6 414.5,53.6 414.6,93.9 414.6,43.8 414.7,70.6 414.7,82.6 414.8,66.5 414.9,41.3 414.9,62.1 415,82.6 415,73.5 415.1,52.2 415.1,84.7 415.2,70.2 415.2,71.5 415.3,42.4 415.3,71.5 415.4,52.5 415.4,76.1 415.5,77.6 415.5,56.2 415.6,60.7 415.6,88.5 415.7,60.5 415.7,60.5 415.8,75.3 415.9,65.5 415.9,64.9 416,73.8 416,75 416.1,76 416.1,71.3 416.2,83.8 416.2,68.6 416.3,85.8 416.3,67.2 416.4,69.1 416.4,80.3 416.5,58 416.5,45.2 416.6,52.4 416.6,84.2 416.7,53 416.7,65.5 416.8,68.7 416.8,75.1 416.9,68.2 417,51.7 417,61.7 417.1,73 417.1,76 417.2,73 417.2,61.2 417.3,46 417.3,80.6 417.4,68.1 417.4,72.7 417.5,77 417.5,63.4 417.6,61.6 417.6,84.9 417.7,80.3 417.7,54 417.8,64.4 417.8,61.9 417.9,74 418,72.6 418,62.7 418.1,74 418.1,81.2 418.2,68.1 418.2,57.4 418.3,80.3 418.3,55.6 418.4,59.8 418.4,78.3 418.5,68 418.5,68.6 418.6,60.6 418.6,60.2 418.7,83.5 418.7,84 418.8,56 418.8,66.8 418.9,63.2 419,64.2 419,50 419.1,82.3 419.1,55.3 419.2,77.8 419.2,59.5 419.3,52.3 419.3,84.4 419.4,63.4 419.4,71.4 419.5,71.5 419.5,67.6 419.6,80.5 419.6,79.5 419.7,60.4 419.7,58.1 419.8,74.8 419.8,85.2 419.9,40.8 419.9,55.2 420,63.9 420.1,80.2 420.1,75 420.2,65.3 420.2,79.4 420.3,49.2 420.3,66.5 420.4,63.5 420.4,80.2 420.5,78.8 420.5,77.4 420.6,64.9 420.6,71.2 420.7,71.5 420.7,64.4 420.8,65.5 420.8,50.7 420.9,70.4 420.9,80 421,68.2 421.1,50.9 421.1,74.6 421.2,67.5 421.2,72.3 421.3,63.4 421.3,65.1 421.4,77.6 421.4,70.8 421.5,57.1 421.5,55.3 421.6,57.3 421.6,58 421.7,72 421.7,72.4 421.8,57.2 421.8,81.8 421.9,33.4 421.9,89.8 422,72.5 422.1,76.4 422.1,82.2 422.2,61.3 422.2,76.7 422.3,72.4 422.3,71.1 422.4,76.7 422.4,51.4 422.5,73.9 422.5,65.8 422.6,83.4 422.6,73.6 422.7,71.9 422.7,71.7 422.8,74.9 422.8,66.4 422.9,49.9 422.9,69.6 423,69.7 423,72.7 423.1,39.8 423.2,49.2 423.2,61.6 423.3,59.8 423.3,76.4 423.4,69.9 423.4,65.6 423.5,66.7 423.5,78.1 423.6,77.2 423.6,62.1 423.7,64.4 423.7,92.7 423.8,67 423.8,53.2 423.9,75.6 423.9,65.3 424,85.1 424,58.3 424.1,81.1 424.2,82.7 424.2,71.8 424.3,40.5 424.3,75.2 424.4,82.8 424.4,62.7 424.5,65.4 424.5,48.7 424.6,82.9 424.6,86.7 424.7,71.7 424.7,63.6 424.8,63.9 424.8,55.4 424.9,85.5 424.9,77.7 425,24.6 425,58.3 425.1,62.5 425.2,73 425.2,80 425.3,57.8 425.3,57 425.4,39.1 425.4,70.1 425.5,49.1 425.5,82.2 425.6,74.4 425.6,76 425.7,73.5 425.7,78.3 425.8,74.4 425.8,68.7 425.9,73.3 425.9,60.3 426,69 426,68.1 426.1,50.9 426.1,64.4 426.2,66.2 426.3,68.3 426.3,67.3 426.4,61.4 426.4,77.4 426.5,54.7 426.5,49.7 426.6,54.6 426.6,73.8 426.7,86.6 426.7,73.1 426.8,66.3 426.8,58.4 426.9,70.2 426.9,71.6 427,50.3 427,75.9 427.1,55.6 427.1,57.5 427.2,83.6 427.3,64.8 427.3,74.5 427.4,79.1 427.4,89.6 427.5,86.3 427.5,63.2 427.6,72.6 427.6,64.9 427.7,80.4 427.7,71.8 427.8,71.2 427.8,86.1 427.9,87.4 427.9,62.9 428,66.3 428,78.9 428.1,29.7 428.1,60.3 428.2,46.7 428.3,78.4 428.3,60.9 428.4,43.3 428.4,67.3 428.5,50.9 428.5,96 428.6,51.1 428.6,68.2 428.7,89.9 428.7,58.9 428.8,55.8 428.8,53.9 428.9,54 428.9,68.4 429,76.8 429,73.4 429.1,68.5 429.1,63.3 429.2,73.7 429.2,67.5 429.3,57.8 429.4,64.2 429.4,41.3 429.5,42.9 429.5,81.5 429.6,74.7 429.6,83.3 429.7,81.7 429.7,61.7 429.8,79.6 429.8,80.3 429.9,71.2 429.9,58.7 430,72.2 430,72.2 430.1,57.3 430.1,62.5 430.2,62.7 430.2,57 430.3,79.9 430.4,65.5 430.4,75.5 430.5,56 430.5,58.5 430.6,80.3 430.6,52.4 430.7,81.7 430.7,54.4 430.8,65.6 430.8,78.2 430.9,81.1 430.9,71.6 431,68.3 431,76.4 431.1,61.5 431.1,84.4 431.2,68.1 431.2,68 431.3,90 431.4,64.4 431.4,82.9 431.5,95.7 431.5,75.2 431.6,70.7 431.6,57.5 431.7,73.8 431.7,50.8 431.8,51.2 431.8,55.2 431.9,52.5 431.9,63.9 432,74.6 432,60.5 432.1,56.7 432.1,65.3 432.2,70.9 432.2,86.5 432.3,60.1 432.3,63.9 432.4,83.3 432.5,66.9 432.5,59.6 432.6,69.3 432.6,58.9 432.7,59.2 432.7,85.4 432.8,71.6 432.8,62.4 432.9,57.3 432.9,51.5 433,90.6 433,68.8 433.1,59.7 433.1,53.7 433.2,48.2 433.2,79 433.3,72.4 433.3,80.4 433.4,58.4 433.5,83.6 433.5,54.1 433.6,57.1 433.6,62.3 433.7,93.6 433.7,76 433.8,59.3 433.8,84.7 433.9,70.9 433.9,69.3 434,57.6 434,64.7 434.1,64.8 434.1,73.2 434.2,68 434.2,69.6 434.3,59.5 434.3,70.2 434.4,55.9 434.5,88 434.5,53.9 434.6,70.1 434.6,54.8 434.7,67.1 434.7,58 434.8,50.5 434.8,74.6 434.9,67.1 434.9,70.1 435,65.6 435,87.1 435.1,70.1 435.1,71 435.2,77.3 435.2,70.4 435.3,86.2 435.3,51.6 435.4,62.8 435.4,45.9 435.5,78.4 435.6,81.8 435.6,64.8 435.7,87.7 435.7,65.4 435.8,76.4 435.8,72 435.9,65.1 435.9,67.6 436,46.2 436,60.7 436.1,83.3 436.1,56.6 436.2,83.9 436.2,67.1 436.3,82.8 436.3,77.9 436.4,52.7 436.4,74.7 436.5,75.7 436.6,74.7 436.6,71.8 436.7,51.2 436.7,82 436.8,82.7 436.8,61.3 436.9,86.9 436.9,72.5 437,54.8 437,68.1 437.1,73.8 437.1,76.5 437.2,79 437.2,75.1 437.3,66.6 437.3,53.6 437.4,56.8 437.4,74.9 437.5,76.8 437.6,60 437.6,89.6 437.7,73.4 437.7,72.1 437.8,81.3 437.8,80 437.9,64.2 437.9,87.7 438,79 438,75.9 438.1,67.3 438.1,84.4 438.2,55.5 438.2,72 438.3,71.4 438.3,72.6 438.4,76.3 438.4,79.9 438.5,54.9 438.5,66 438.6,69.7 438.7,56.7 438.7,76.8 438.8,61 438.8,35.5 438.9,78.9 438.9,59.5 439,86 439,60.8 439.1,78.9 439.1,63.7 439.2,52.3 439.2,61.9 439.3,75.6 439.3,68.9 439.4,72.9 439.4,82.3 439.5,81.6 439.5,68.1 439.6,62.3 439.7,89.3 439.7,69.5 439.8,62.7 439.8,67.3 439.9,80.4 439.9,56.5 440,82.9 440,61.1 440.1,49.9 440.1,92.6 440.2,65.7 440.2,65 440.3,66.1 440.3,77.7 440.4,72.4 440.4,85.1 440.5,67.2 440.5,62.5 440.6,76.5 440.7,79.6 440.7,74.3 440.8,68.9 440.8,68.1 440.9,70 440.9,68 441,84.1 441,96.9 441.1,61.6 441.1,52.2 441.2,85.4 441.2,76.6 441.3,101.9 441.3,57.7 441.4,61.3 441.4,53.9 441.5,69.5 441.5,64 441.6,64 441.6,73.9 441.7,54.8 441.8,61.6 441.8,57.4 441.9,73.4 441.9,56.8 442,81.2 442,64.3 442.1,96.4 442.1,80.6 442.2,60.3 442.2,74.1 442.3,66.8 442.3,87.8 442.4,50.8 442.4,61.9 442.5,69.2 442.5,64 442.6,65.1 442.6,52.4 442.7,66.4 442.8,86 442.8,71.9 442.9,53.9 442.9,62.3 443,73.8 443,61.8 443.1,67.5 443.1,61.8 443.2,87.4 443.2,79.3 443.3,61.1 443.3,71.5 443.4,64.8 443.4,46.1 443.5,72.5 443.5,66.1 443.6,75.4 443.6,76.2 443.7,69.8 443.8,85.8 443.8,93.4 443.9,53 443.9,70.1 444,55.8 444,67.5 444.1,67.2 444.1,61.1 444.2,60.5 444.2,82.9 444.3,54.8 444.3,80.2 444.4,66.5 444.4,40.1 444.5,67.9 444.5,49.5 444.6,72.9 444.6,61.7 444.7,68.3 444.7,64 444.8,78.8 444.9,79.6 444.9,65 445,87.1 445,78.7 445.1,61.4 445.1,76 445.2,79.2 445.2,81.8 445.3,67.2 445.3,73.1 445.4,67.1 445.4,71.1 445.5,47.3 445.5,73.9 445.6,91.6 445.6,67.5 445.7,68.8 445.7,67.1 445.8,87.5 445.9,55.7 445.9,69.2 446,69.4 446,87.3 446.1,63.4 446.1,69.6 446.2,53.2 446.2,73.7 446.3,83.2 446.3,67.4 446.4,79.5 446.4,64 446.5,81.4 446.5,70.4 446.6,71.5 446.6,69.3 446.7,74.8 446.7,78.3 446.8,69.6 446.9,75.6 446.9,67.1 447,72 447,94.9 447.1,69.6 447.1,52.8 447.2,65.4 447.2,61.9 447.3,63.6 447.3,74.3 447.4,84.3 447.4,59.5 447.5,56.7 447.5,62.3 447.6,64 447.6,64.3 447.7,69.2 447.7,65.7 447.8,68.7 447.8,65.1 447.9,79.8 448,76.1 448,62.3 448.1,72.8 448.1,95.5 448.2,67.4 448.2,94.9 448.3,46.9 448.3,60.6 448.4,61.1 448.4,76.5 448.5,81.8 448.5,71.3 448.6,68.6 448.6,77.7 448.7,67 448.7,60.9 448.8,61.9 448.8,80.7 448.9,93.6 449,68.8 449,76.4 449.1,63.7 449.1,50 449.2,50 449.2,65.5 449.3,56.1 449.3,50 449.4,68.2 449.4,65.7 449.5,59 449.5,69.2 449.6,74.4 449.6,77.3 449.7,68.7 449.7,75.8 449.8,59.6 449.8,72.5 449.9,52 450,54.9 450,82.8 450.1,56.4 450.1,73.3 450.2,53.1 450.2,62.8 450.3,69.2 450.3,61 450.4,75 450.4,64.9 450.5,64.2 450.5,70.3 450.6,64.2 450.6,80 450.7,62.3 450.7,82.3 450.8,61.5 450.8,63.2 450.9,60.5 450.9,74.9 451,38.3 451.1,71.1 451.1,66.8 451.2,77.1 451.2,52.3 451.3,73.8 451.3,57.2 451.4,79.2 451.4,64.9 451.5,72.6 451.5,57.9 451.6,71.7 451.6,78.2 451.7,63.3 451.7,81.9 451.8,79.2 451.8,59.7 451.9,89.5 451.9,59.8 452,72.9 452.1,78.7 452.1,65.6 452.2,61.2 452.2,74.9 452.3,70.3 452.3,59.2 452.4,59.8 452.4,68.8 452.5,76.9 452.5,78.9 452.6,75 452.6,60.6 452.7,61.7 452.7,64.8 452.8,52.5 452.8,71.6 452.9,72.5 452.9,72.5 453,46.6 453.1,91.3 453.1,64.9 453.2,63.1 453.2,67.4 453.3,41.8 453.3,54.9 453.4,59.4 453.4,78.2 453.5,62.5 453.5,72.2 453.6,67.5 453.6,65.8 453.7,73.4 453.7,60.9 453.8,49.7 453.8,56.4 453.9,65.6 453.9,89.7 454,55.8 454,55.9 454.1,70.1 454.2,73.3 454.2,60.5 454.3,77 454.3,59 454.4,80 454.4,78.2 454.5,67.7 454.5,84.2 454.6,67.9 454.6,61.9 454.7,82.6 454.7,57.5 454.8,74.1 454.8,61.7 454.9,65.4 454.9,72.9 455,73.7 455,86.9 455.1,75.6 455.2,76.4 455.2,49.4 455.3,56.4 455.3,83.1 455.4,58.8 455.4,65.3 455.5,72 455.5,62.6 455.6,58.9 455.6,74.1 455.7,70.9 455.7,65.9 455.8,78.8 455.8,65.7 455.9,68.7 455.9,75.4 456,77.2 456,64.4 456.1,58 456.2,64.1 456.2,77.3 456.3,59.4 456.3,65.8 456.4,61.1 456.4,54.8 456.5,77.8 456.5,69.3 456.6,74.4 456.6,77.5 456.7,45.4 456.7,57.3 456.8,87.4 456.8,63 456.9,73.9 456.9,54.9 457,66.8 457,69.7 457.1,66.1 457.1,63.4 457.2,67.4 457.3,70.2 457.3,69.3 457.4,62 457.4,80.3 457.5,67.7 457.5,69.1 457.6,73.1 457.6,59.5 457.7,82.1 457.7,71.8 457.8,77.2 457.8,61.6 457.9,72.9 457.9,67.2 458,63.4 458,85.5 458.1,62.7 458.1,76 458.2,70.5 458.3,69 458.3,58.7 458.4,59.5 458.4,48.1 458.5,65.7 458.5,73 458.6,73.3 458.6,60.4 458.7,49.9 458.7,63.9 458.8,74.1 458.8,64.6 458.9,64.9 458.9,67.3 459,76 459,95.2 459.1,73.7 459.1,56 459.2,65.3 459.3,92.3 459.3,67.6 459.4,88.2 459.4,45.6 459.5,65.6 459.5,81.1 459.6,58.8 459.6,76.4 459.7,61.5 459.7,67.5 459.8,80.8 459.8,60.3 459.9,82.6 459.9,52.8 460,67 460,79.1 460.1,87.9 460.1,49.7 460.2,51.6 460.2,81.7 460.3,49.4 460.4,65.8 460.4,70.2 460.5,68.7 460.5,70.7 460.6,51.8 460.6,66 460.7,88.2 460.7,44.4 460.8,57.9 460.8,79.8 460.9,71.7 460.9,77.8 461,67.2 461,63.3 461.1,65.1 461.1,74.4 461.2,76.6 461.2,58.3 461.3,68.8 461.4,42.7 461.4,76.7 461.5,58.9 461.5,67.2 461.6,76.2 461.6,52.5 461.7,66.3 461.7,77.6 461.8,71.2 461.8,56.4 461.9,81.3 461.9,52.4 462,60.1 462,70.8 462.1,52.6 462.1,48.2 462.2,61 462.2,65.8 462.3,47.1 462.4,51.1 462.4,78 462.5,70 462.5,70.1 462.6,72.3 462.6,84.4 462.7,57.6 462.7,66.8 462.8,66.6 462.8,52 462.9,74 462.9,68.3 463,64.6 463,72.5 463.1,68.9 463.1,59.1 463.2,67.8 463.2,52.8 463.3,76.1 463.3,65.4 463.4,83.6 463.5,69 463.5,75.6 463.6,52.5 463.6,59.4 463.7,62 463.7,47.1 463.8,51.5 463.8,59.7 463.9,75.4 463.9,83.9 464,68 464,71.7 464.1,74.9 464.1,71 464.2,86.2 464.2,51 464.3,80.5 464.3,75.2 464.4,61.3 464.5,86 464.5,107.6 464.6,57.2 464.6,71.2 464.7,79.8 464.7,73 464.8,88.5 464.8,52.1 464.9,67.1 464.9,76 465,77.9 465,61.3 465.1,50.8 465.1,82 465.2,74.2 465.2,87.5 465.3,60.1 465.3,65.9 465.4,42.3 465.5,69.1 465.5,72.6 465.6,75.7 465.6,58.1 465.7,86 465.7,59.2 465.8,64.9 465.8,73.4 465.9,77.9 465.9,55.8 466,46.7 466,72.7 466.1,61.7 466.1,48 466.2,74.7 466.2,70.5 466.3,81.5 466.3,69.4 466.4,68.6 466.4,72.4 466.5,76 466.6,85.6 466.6,82.9 466.7,78.7 466.7,60.5 466.8,73.5 466.8,77.3 466.9,60.3 466.9,61.3 467,76.2 467,74.8 467.1,60.2 467.1,63.6 467.2,32.8 467.2,65 467.3,68 467.3,55.1 467.4,77.5 467.4,57.7 467.5,62.8 467.6,79.1 467.6,103.1 467.7,57.4 467.7,82.7 467.8,45.2 467.8,80.7 467.9,78.1 467.9,71.4 468,58.9 468,61.1 468.1,68.8 468.1,52.2 468.2,63.1 468.2,51.8 468.3,38.8 468.3,65.5 468.4,95.6 468.4,72.9 468.5,80 468.6,66.6 468.6,66.6 468.7,81.7 468.7,80.9 468.8,70.7 468.8,69.9 468.9,95.8 468.9,56.6 469,67.3 469,67.8 469.1,64.3 469.1,79.4 469.2,68.3 469.2,55.8 469.3,55.3 469.3,62.4 469.4,70.9 469.4,77.1 469.5,52.5 469.5,61.7 469.6,72.6 469.7,92.7 469.7,77.7 469.8,90 469.8,53.3 469.9,65.5 469.9,76.3 470,70.9 470,39.5 470.1,53.6 470.1,83.3 470.2,69.2 470.2,82 470.3,87.7 470.3,65.7 470.4,40.2 470.4,49.5 470.5,67.2 470.5,72.1 470.6,65.4 470.7,55.6 470.7,84.7 470.8,89.5 470.8,45.7 470.9,64.4 470.9,48.9 471,64.9 471,50.4 471.1,74.9 471.1,61.9 471.2,49.5 471.2,55.7 471.3,73.1 471.3,57.2 471.4,75.5 471.4,84.4 471.5,61.6 471.5,51.3 471.6,57.7 471.7,82.5 471.7,57.5 471.8,59.7 471.8,73.1 471.9,95.6 471.9,55.7 472,57.3 472,61.8 472.1,88.1 472.1,85.3 472.2,55.8 472.2,58.2 472.3,61.9 472.3,70.6 472.4,63 472.4,74.1 472.5,71.4 472.5,78 472.6,64.7 472.6,72.6 472.7,56.4 472.8,59.2 472.8,77.3 472.9,46 472.9,81 473,62.4 473,54.9 473.1,52.5 473.1,93.9 473.2,55.8 473.2,53.2 473.3,50.6 473.3,94.1 473.4,75.7 473.4,68.9 473.5,73 473.5,51.8 473.6,75.8 473.6,53.1 473.7,61 473.8,85 473.8,79.5 473.9,73.3 473.9,66.5 474,55.9 474,69.9 474.1,56.9 474.1,86.4 474.2,98 474.2,71.7 474.3,62.2 474.3,72 474.4,79.7 474.4,62.7 474.5,44.7 474.5,68.9 474.6,76.3 474.6,77.8 474.7,44.3 474.8,68.2 474.8,60.4 474.9,53.2 474.9,54.9 475,78.7 475,56.3 475.1,57.7 475.1,61.9 475.2,55.7 475.2,74.4 475.3,68.6 475.3,73.9 475.4,58.7 475.4,75.5 475.5,63 475.5,80.7 475.6,69.2 475.6,72 475.7,69.1 475.8,66.1 475.8,34.8 475.9,70.3 475.9,92.4 476,54.5 476,75.1 476.1,70.6 476.1,77.6 476.2,55.8 476.2,78.5 476.3,61.7 476.3,53.7 476.4,48.1 476.4,53.5 476.5,60.3 476.5,82 476.6,52.3 476.6,53.5 476.7,57.7 476.7,58.1 476.8,66.8 476.9,73.8 476.9,54.8 477,52.5 477,80 477.1,56.8 477.1,64.7 477.2,57.1 477.2,64.3 477.3,54.4 477.3,55.4 477.4,57 477.4,83.9 477.5,57.8 477.5,67 477.6,80.9 477.6,59.2 477.7,83.8 477.7,56.9 477.8,47.4 477.9,73.5 477.9,56.6 478,62.2 478,59.8 478.1,83.5 478.1,60.3 478.2,65.9 478.2,58.7 478.3,67.4 478.3,54.5 478.4,64.2 478.4,59.4 478.5,51.2 478.5,65.3 478.6,55.7 478.6,64.7 478.7,61.2 478.7,73.6 478.8,58.2 478.9,52.9 478.9,68.3 479,58 479,62.3 479.1,80.4 479.1,63.2 479.2,51.8 479.2,73 479.3,88.3 479.3,64.9 479.4,74.9 479.4,45 479.5,67.8 479.5,67.4 479.6,74.7 479.6,64.4 479.7,73.9 479.7,77.9 479.8,68"/></g><g clip-path="url(#c2)"><polyline fill="none" stroke="#0000ff" stroke-width="1.0" stroke-linejoin="round" stroke-linecap="butt" points="59.5,321 59.6,306.2 59.7,297.5 59.8,313.3 59.9,293.1 60,307.4 60.1,304.4 60.2,298 60.3,306 60.4,306.7 60.6,309.4 60.7,296.7 60.8,300.1 60.9,307.3 61,306 61.1,301.5 61.2,312.7 61.3,317.1 61.4,310.5 61.5,313 61.6,295.3 61.7,304.5 61.8,314.1 61.9,307.3 62,298 62.1,307.8 62.2,315.2 62.3,314.2 62.4,312.9 62.6,310.1 62.7,311.5 62.8,304 62.9,302 63,311.9 63.1,312.4 63.2,308.1 63.3,306 63.4,316.5 63.5,308.9 63.6,312.1 63.7,313.5 63.8,310.3 63.9,302.7 64,313.3 64.1,307 64.2,305.4 64.3,312.6 64.4,313.7 64.6,299 64.7,315.9 64.8,310.3 64.9,308.3 65,300.6 65.1,308 65.2,305.3 65.3,317.3 65.4,308.5 65.5,309.8 65.6,303.7 65.7,306.8 65.8,299.6 65.9,311.4 66,299 66.1,310.2 66.2,310.3 66.3,299.3 66.4,300.8 66.6,315.6 66.7,304 66.8,302 66.9,300.1 67,299.3 67.1,310.5 67.2,309.3 67.3,305.5 67.4,311.3 67.5,317.7 67.6,316.4 67.7,310.9 67.8,314.6 67.9,309.1 68,312.7 68.1,316.4 68.2,301.9 68.3,311.9 68.4,304.9 68.6,310.4 68.7,305.3 68.8,314.1 68.9,309.1 69,317.3 69.1,312.3 69.2,307.9 69.3,304.7 69.4,304.4 69.5,307.3 69.6,303.2 69.7,300 69.8,313.6 69.9,316.7 70,296.4 70.1,309.4 70.2,309.7 70.3,310.3 70.4,313 70.6,299.6 70.7,312.9 70.8,299.2 70.9,306.2 71,313 71.1,304.5 71.2,314.1 71.3,307.3 71.4,311.6 71.5,294.9 71.6,314.9 71.7,313.1 71.8,305.3 71.9,313.2 72,320.6 72.1,309 72.2,317.5 72.3,315.6 72.4,305 72.6,304.5 72.7,312.1 72.8,304.4 72.9,306.7 73,313.4 73.1,308.7 73.2,311.4 73.3,315.6 73.4,318.8 73.5,313.1 73.6,307.1 73.7,309.1 73.8,308.8 73.9,307 74,305.2 74.1,313 74.2,301.4 74.3,296.6 74.4,313.7 74.6,310.5 74.7,305.7 74.8,307.7 74.9,308.3 75,306.5 75.1,290.4 75.2,315 75.3,314.8 75.4,307.7 75.5,310.1 75.6,307.8 75.7,312.1 75.8,317.3 75.9,311 76,304.5 76.1,309.2 76.2,308.5 76.3,294.8 76.4,304.1 76.6,305.6 76.7,308.4 76.8,303.5 76.9,307.9 77,313.3 77.1,316.8 77.2,303.8 77.3,310 77.4,300.5 77.5,305.1 77.6,295.6 77.7,305.9 77.8,310.1 77.9,310.3 78,307.2 78.1,306.6 78.2,311.4 78.3,301 78.4,310.3 78.6,309 78.7,304 78.8,312.8 78.9,309 79,310.9 79.1,314.4 79.2,318 79.3,313.7 79.4,319.3 79.5,315.7 79.6,302.4 79.7,308.1 79.8,309.3 79.9,306.2 80,289.9 80.1,306 80.2,314.8 80.3,312.5 80.4,301.6 80.5,295.9 80.7,316.2 80.8,316.8 80.9,304.3 81,315.4 81.1,310.8 81.2,309.1 81.3,308.9 81.4,305.2 81.5,315.1 81.6,307 81.7,307.3 81.8,305.5 81.9,316 82,291.4 82.1,311.9 82.2,300.6 82.3,312.4 82.4,311.5 82.5,307.6 82.7,313.7 82.8,308.6 82.9,299.3 83,306.9 83.1,308.3 83.2,305.3 83.3,315.9 83.4,310.1 83.5,315.9 83.6,309.5 83.7,305.6 83.8,314.5 83.9,306.7 84,311.8 84.1,316.5 84.2,305.5 84.3,313.9 84.4,309.3 84.5,305.8 84.7,308.6 84.8,307.6 84.9,315.7 85,311.3 85.1,303.3 85.2,300.9 85.3,314.3 85.4,303.8 85.5,307.1 85.6,299.7 85.7,301.4 85.8,309.5 85.9,315.1 86,306 86.1,312.2 86.2,308.1 86.3,315.3 86.4,318 86.5,297.3 86.7,306.8 86.8,314.5 86.9,309.7 87,312.1 87.1,308.4 87.2,315.8 87.3,307 87.4,311.3 87.5,306.7 87.6,318.9 87.7,300.6 87.8,307.7 87.9,305.9 88,292.1 88.1,305.8 88.2,302.5 88.3,305.7 88.4,314.7 88.5,300.8 88.7,305.9 88.8,312.3 88.9,299.9 89,307.6 89.1,312.2 89.2,307.9 89.3,309.4 89.4,313.6 89.5,309.1 89.6,312.3 89.7,303.3 89.8,311.5 89.9,310.2 90,312.9 90.1,301.8 90.2,307.5 90.3,304.3 90.4,301.1 90.5,309.6 90.7,309.3 90.8,303 90.9,309.5 91,308.5 91.1,309.5 91.2,312.4 91.3,304.7 91.4,304 91.5,307.5 91.6,314 91.7,314.2 91.8,313.3 91.9,297 92,303.5 92.1,304.9 92.2,310.1 92.3,308.4 92.4,300.8 92.5,306.5 92.7,317.3 92.8,316.4 92.9,311 93,309.8 93.1,318.9 93.2,308.8 93.3,300.9 93.4,306.5 93.5,308 93.6,307.3 93.7,314.9 93.8,310.2 93.9,316.5 94,312.3 94.1,309.8 94.2,310.5 94.3,314.5 94.4,304.9 94.5,302.3 94.7,310.1 94.8,314 94.9,307.4 95,306.5 95.1,305.6 95.2,309 95.3,297.9 95.4,305.8 95.5,309.5 95.6,315.2 95.7,308.1 95.8,313.8 95.9,306.6 96,299.7 96.1,319.1 96.2,312.8 96.3,309 96.4,303.7 96.5,308.4 96.7,313.6 96.8,304.4 96.9,305.6 97,310.4 97.1,303.7 97.2,309.2 97.3,303.7 97.4,300.2 97.5,314.2 97.6,305.6 97.7,320.1 97.8,301.2 97.9,310.4 98,312.3 98.1,317.3 98.2,312.1 98.3,316.8 98.4,310.3 98.5,299.1 98.7,320.9 98.8,310.6 98.9,298 99,310.8 99.1,310.9 99.2,311.9 99.3,304.8 99.4,313.9 99.5,305.9 99.6,298.9 99.7,309.7 99.8,320 99.9,309 100,303.4 100.1,296.7 100.2,304.1 100.3,313.3 100.4,316.4 100.5,297.2 100.7,307 100.8,315.8 100.9,311.7 101,317.8 101.1,296.3 101.2,311.8 101.3,303.7 101.4,308.7 101.5,307.5 101.6,307.1 101.7,317 101.8,311.8 101.9,303.8 102,309.3 102.1,311.1 102.2,305.3 102.3,295.8 102.4,314.7 102.5,304.9 102.7,300.3 102.8,306 102.9,314.5 103,306.9 103.1,304 103.2,308.7 103.3,312.6 103.4,307.2 103.5,311.3 103.6,310.1 103.7,310.1 103.8,305.4 103.9,302.6 104,304.9 104.1,299.7 104.2,303.6 104.3,303 104.4,304.3 104.5,305.6 104.7,308.5 104.8,312.9 104.9,300.7 105,300.8 105.1,305.8 105.2,312.4 105.3,302.6 105.4,311.4 105.5,314.4 105.6,308.5 105.7,307.1 105.8,311 105.9,311 106,309.9 106.1,314.7 106.2,309.3 106.3,313.5 106.4,308.5 106.5,312.6 106.7,306.4 106.8,301.5 106.9,305.8 107,310.7 107.1,311.3 107.2,311.7 107.3,312.4 107.4,300.3 107.5,309.2 107.6,307.8 107.7,310.1 107.8,303.3 107.9,309.9 108,311.9 108.1,304.7 108.2,307.6 108.3,304.5 108.4,308.2 108.5,302 108.7,296.7 108.8,304.2 108.9,300.9 109,312.8 109.1,299.1 109.2,312.6 109.3,318.7 109.4,306.3 109.5,316.3 109.6,309.7 109.7,311 109.8,311.6 109.9,311.5 110,309.3 110.1,314.3 110.2,306.2 110.3,312.6 110.4,311.3 110.5,312.8 110.7,314.3 110.8,311.7 110.9,312.1 111,313.4 111.1,307.3 111.2,320.7 111.3,306.3 111.4,317 111.5,306.1 111.6,305.5 111.7,300.5 111.8,306.8 111.9,305.5 112,312.7 112.1,308.6 112.2,314 112.3,309.2 112.4,307.1 112.5,292.9 112.7,310.2 112.8,308.8 112.9,311 113,299.1 113.1,307.8 113.2,312 113.3,311.6 113.4,315.8 113.5,311.5 113.6,295.2 113.7,319.7 113.8,315.4 113.9,296.9 114,320.6 114.1,313 114.2,310.8 114.3,314.9 114.4,314.9 114.5,308.8 114.7,309.7 114.8,314.7 114.9,299.3 115,303.7 115.1,311.8 115.2,293 115.3,316.1 115.4,311 115.5,312.6 115.6,305.8 115.7,302.5 115.8,306.3 115.9,305.3 116,293.5 116.1,304.9 116.2,319.1 116.3,313.6 116.4,315.4 116.5,295.6 116.7,311.1 116.8,312.4 116.9,312.3 117,314.1 117.1,302.7 117.2,312.1 117.3,307.1 117.4,315.5 117.5,307.4 117.6,310.9 117.7,313.2 117.8,305.7 117.9,314 118,298.9 118.1,300.5 118.2,306.1 118.3,304.4 118.4,305.5 118.5,309.6 118.7,305.8 118.8,317.6 118.9,297.9 119,300 119.1,313.8 119.2,315.1 119.3,310.4 119.4,315.2 119.5,308.3 119.6,312.2 119.7,311.3 119.8,307.9 119.9,311.3 120,292 120.1,299.7 120.2,306.2 120.3,311.5 120.4,310 120.5,312.2 120.7,302.6 120.8,303.4 120.9,316.7 121,299.1 121.1,300.9 121.2,315.2 121.3,301.2 121.4,305.7 121.5,310.8 121.6,315.3 121.7,305.4 121.8,306.8 121.9,301.5 122,306.3 122.1,305.6 122.2,305.6 122.3,310 122.4,306.4 122.5,319 122.7,311.5 122.8,299.7 122.9,307.7 123,301.6 123.1,300.6 123.2,312.9 123.3,291.8 123.4,313.3 123.5,310.1 123.6,298 123.7,312.8 123.8,307.1 123.9,299.4 124,309.1 124.1,301.2 124.2,296.7 124.3,307.3 124.4,309.6 124.5,306.8 124.6,315.9 124.8,315.1 124.9,311.1 125,304.7 125.1,310.3 125.2,309.4 125.3,302.8 125.4,308.5 125.5,295.7 125.6,303.2 125.7,316.1 125.8,295.6 125.9,313.6 126,303.1 126.1,310.2 126.2,298.6 126.3,314.4 126.4,306.7 126.5,283 126.6,308.6 126.8,297.6 126.9,308.4 127,305.3 127.1,315.5 127.2,307.4 127.3,317.9 127.4,305.1 127.5,300.4 127.6,317.6 127.7,306.1 127.8,309.7 127.9,320.7 128,314.2 128.1,299.9 128.2,308.5 128.3,313.5 128.4,313 128.5,302.8 128.6,312.5 128.8,310.1 128.9,300.4 129,308.4 129.1,311.9 129.2,300.6 129.3,304.9 129.4,305.4 129.5,309.2 129.6,311.6 129.7,310.1 129.8,310.2 129.9,314.8 130,302.7 130.1,310.9 130.2,319.4 130.3,311.5 130.4,312.8 130.5,302.2 130.6,311 130.8,310.6 130.9,309.8 131,311.4 131.1,302.4 131.2,307.9 131.3,296.5 131.4,305.9 131.5,318.5 131.6,302.7 131.7,310.3 131.8,305.7 131.9,305.5 132,313.3 132.1,306.9 132.2,299.2 132.3,290.9 132.4,308.7 132.5,310.2 132.6,311.1 132.8,305.6 132.9,309.6 133,296.2 133.1,314.5 133.2,308.1 133.3,310.7 133.4,311.3 133.5,305.4 133.6,311.1 133.7,307.3 133.8,307 133.9,303.9 134,310.1 134.1,299.3 134.2,307.1 134.3,301.1 134.4,312.6 134.5,301.7 134.6,308.6 134.8,308.3 134.9,297.6 135,306.8 135.1,315.8 135.2,297 135.3,312.1 135.4,310.8 135.5,312.6 135.6,300.3 135.7,307.3 135.8,301.6 135.9,300.6 136,291.3 136.1,309.5 136.2,313.1 136.3,288.8 136.4,311.3 136.5,316.4 136.6,303.3 136.8,304.6 136.9,289.2 137,317 137.1,306.6 137.2,308.6 137.3,293.8 137.4,308.9 137.5,300.6 137.6,293.8 137.7,309 137.8,282 137.9,306.9 138,316.2 138.1,300.3 138.2,310.7 138.3,309.9 138.4,310 138.5,308.1 138.6,286.2 138.8,310.5 138.9,312.3 139,316.8 139.1,307.7 139.2,316.2 139.3,300.3 139.4,315 139.5,309.1 139.6,310.6 139.7,320.2 139.8,301.9 139.9,263.1 140,312.5 140.1,316.2 140.2,304.6 140.3,307 140.4,301.2 140.5,315.1 140.6,298.8 140.8,304.2 140.9,294.4 141,309.3 141.1,312.9 141.2,304.3 141.3,310.3 141.4,295.9 141.5,313.3 141.6,314.2 141.7,303.5 141.8,297.7 141.9,307.8 142,305.1 142.1,315.8 142.2,314.2 142.3,307.4 142.4,305.9 142.5,314.3 142.6,308.1 142.8,307.8 142.9,310.5 143,319.9 143.1,302.5 143.2,313.2 143.3,298.6 143.4,314.2 143.5,302.3 143.6,286.9 143.7,312.6 143.8,304.7 143.9,310.9 144,305.7 144.1,311.4 144.2,302.3 144.3,291.5 144.4,312 144.5,315.9 144.6,313.8 144.8,314.9 144.9,316.1 145,311.4 145.1,316.7 145.2,294.3 145.3,307.9 145.4,313 145.5,306.6 145.6,303 145.7,303.5 145.8,288.5 145.9,302.5 146,313.6 146.1,304.1 146.2,308.5 146.3,309.8 146.4,305.8 146.5,309.4 146.6,320 146.8,304.1 146.9,315.5 147,305.6 147.1,270.2 147.2,316 147.3,299 147.4,304.2 147.5,305.9 147.6,300 147.7,313.4 147.8,304 147.9,315.2 148,304 148.1,300.1 148.2,306.1 148.3,305.3 148.4,309.4 148.5,307.7 148.6,305 148.8,310 148.9,307.6 149,312.3 149.1,301 149.2,314.8 149.3,308 149.4,303.5 149.5,304.8 149.6,300.2 149.7,307.5 149.8,312.5 149.9,302.5 150,299.6 150.1,319.7 150.2,299 150.3,307.9 150.4,301.3 150.5,310.7 150.6,309.2 150.8,305.4 150.9,304.8 151,310.8 151.1,262.2 151.2,300.9 151.3,320.5 151.4,312.3 151.5,308.1 151.6,306.8 151.7,290.1 151.8,313.9 151.9,315.5 152,311.7 152.1,303.3 152.2,310.3 152.3,311.3 152.4,310.8 152.5,312.2 152.6,304.5 152.8,306.5 152.9,296.3 153,312.4 153.1,309.8 153.2,314.7 153.3,314.8 153.4,312.8 153.5,306.7 153.6,307.8 153.7,314.1 153.8,302 153.9,294.1 154,298.2 154.1,311.6 154.2,316.5 154.3,319.7 154.4,292.4 154.5,304.5 154.6,303.4 154.8,299.3 154.9,304.2 155,299.5 155.1,310.6 155.2,306.3 155.3,305.4 155.4,312.7 155.5,304.8 155.6,305.6 155.7,311.7 155.8,319.9 155.9,302.6 156,309.4 156.1,311.2 156.2,308.2 156.3,316.7 156.4,313.9 156.5,318.6 156.6,304.7 156.8,300.7 156.9,309.2 157,312.3 157.1,310.9 157.2,311.7 157.3,309.9 157.4,313.5 157.5,293.3 157.6,297.4 157.7,304.4 157.8,309.9 157.9,306.5 158,305 158.1,315.5 158.2,320 158.3,303.5 158.4,314.5 158.5,301.8 158.6,309.3 158.8,303.2 158.9,286.9 159,304 159.1,313.2 159.2,299.1 159.3,302.2 159.4,318.7 159.5,311.5 159.6,310.7 159.7,302.3 159.8,300.2 159.9,308.8 160,302.5 160.1,313.6 160.2,305.1 160.3,304.5 160.4,296.6 160.5,313.5 160.6,305.1 160.8,304.7 160.9,311.1 161,298.8 161.1,319.2 161.2,307.7 161.3,294 161.4,318.7 161.5,293.2 161.6,311.5 161.7,301.6 161.8,313.2 161.9,305 162,304.9 162.1,246.8 162.2,309.9 162.3,318.6 162.4,316.3 162.5,313.8 162.6,300.9 162.8,313.9 162.9,301.6 163,309.9 163.1,309.6 163.2,315 163.3,301.7 163.4,312.3 163.5,305.3 163.6,305 163.7,312.1 163.8,313.1 163.9,302.4 164,306.7 164.1,315.7 164.2,305.8 164.3,299.8 164.4,314.5 164.5,312.6 164.6,314.5 164.8,312.3 164.9,311.3 165,311.9 165.1,314.3 165.2,307.7 165.3,314.6 165.4,314.4 165.5,303 165.6,318.8 165.7,293.7 165.8,310.9 165.9,300.2 166,306.7 166.1,316.4 166.2,307.4 166.3,317.8 166.4,304.4 166.5,300.4 166.6,306.8 166.7,310.4 166.9,305.9 167,303.3 167.1,313.9 167.2,300.3 167.3,312.2 167.4,304.4 167.5,302.5 167.6,303.8 167.7,303.5 167.8,308.3 167.9,316.3 168,314.4 168.1,310.9 168.2,302.5 168.3,309.5 168.4,319.8 168.5,301.1 168.6,311.1 168.7,311.2 168.9,310.9 169,303 169.1,310.5 169.2,311.9 169.3,311.5 169.4,311.4 169.5,305.7 169.6,314.7 169.7,307.9 169.8,315.2 169.9,305.1 170,310.1 170.1,311.1 170.2,316.6 170.3,314.8 170.4,315.2 170.5,313.6 170.6,309 170.7,303.1 170.9,308.4 171,312.3 171.1,302.3 171.2,319.3 171.3,314.5 171.4,308.2 171.5,291.5 171.6,305.6 171.7,307.2 171.8,291.8 171.9,304.3 172,299.1 172.1,315.9 172.2,310.3 172.3,305.6 172.4,307.7 172.5,310 172.6,308.8 172.7,309.5 172.9,307.3 173,299.4 173.1,296.2 173.2,310 173.3,306.8 173.4,306.8 173.5,316.1 173.6,306.5 173.7,313.9 173.8,315.1 173.9,317.4 174,309.7 174.1,313.7 174.2,313.1 174.3,303 174.4,310.4 174.5,313.1 174.6,314.4 174.7,311.9 174.9,305.8 175,309.9 175.1,305.6 175.2,307.4 175.3,312.9 175.4,315.5 175.5,316.7 175.6,299.6 175.7,314.1 175.8,317.2 175.9,300.1 176,314.5 176.1,304.6 176.2,314 176.3,312.8 176.4,298.2 176.5,309 176.6,309.7 176.7,314.3 176.9,320.6 177,310.5 177.1,311.1 177.2,302.9 177.3,308.4 177.4,310.1 177.5,312.9 177.6,305.1 177.7,303.1 177.8,306.1 177.9,300.7 178,298.1 178.1,303.3 178.2,315.1 178.3,313.4 178.4,310.4 178.5,298.4 178.6,317.1 178.7,284.4 178.9,305.9 179,311.8 179.1,308.9 179.2,310.8 179.3,311.9 179.4,306.6 179.5,309.9 179.6,312.8 179.7,289.2 179.8,310.3 179.9,312.6 180,305.9 180.1,309 180.2,309 180.3,304.2 180.4,295.5 180.5,307.5 180.6,313.1 180.7,306.3 180.9,304.9 181,315.5 181.1,305.9 181.2,307.4 181.3,301.1 181.4,305.6 181.5,316.6 181.6,308.6 181.7,305.1 181.8,310.3 181.9,301 182,316.3 182.1,310.4 182.2,309.1 182.3,318.9 182.4,313.5 182.5,307.2 182.6,312.8 182.7,310.7 182.9,304.5 183,308.2 183.1,310.1 183.2,313 183.3,310.5 183.4,310.8 183.5,310.7 183.6,310 183.7,312.5 183.8,307 183.9,306.6 184,308.8 184.1,299.2 184.2,314.3 184.3,309.2 184.4,305 184.5,307.7 184.6,309.9 184.7,310.2 184.9,315.8 185,302.7 185.1,299.3 185.2,293.8 185.3,309 185.4,319.8 185.5,309.1 185.6,307.2 185.7,301.6 185.8,306.5 185.9,306.5 186,306.2 186.1,306.8 186.2,314.3 186.3,289.4 186.4,309.5 186.5,303.5 186.6,306 186.7,310.2 186.9,308.2 187,313.1 187.1,316.6 187.2,310.8 187.3,300.9 187.4,311.4 187.5,314.7 187.6,302 187.7,311.9 187.8,315.9 187.9,308.3 188,309.8 188.1,301 188.2,302.7 188.3,311.5 188.4,302.5 188.5,309.2 188.6,310.9 188.7,306.8 188.9,310.5 189,316.7 189.1,306.5 189.2,314.4 189.3,308.2 189.4,307.7 189.5,301.8 189.6,304.8 189.7,307.7 189.8,311.7 189.9,302.6 190,311.4 190.1,305.5 190.2,281.8 190.3,294.2 190.4,304.3 190.5,310.6 190.6,308.4 190.7,307.3 190.9,303 191,306.7 191.1,307.2 191.2,310 191.3,303.3 191.4,301 191.5,297 191.6,309.1 191.7,306 191.8,299.9 191.9,314.8 192,304.3 192.1,312.4 192.2,301.4 192.3,301.2 192.4,309.6 192.5,312.3 192.6,314.1 192.7,309.5 192.9,307.9 193,314.6 193.1,294.6 193.2,291.3 193.3,310.6 193.4,305.1 193.5,303.3 193.6,312.3 193.7,299.5 193.8,301.9 193.9,315.6 194,306.1 194.1,312.6 194.2,312.4 194.3,311.1 194.4,289.8 194.5,305.9 194.6,310.5 194.7,308 194.9,290.4 195,304.2 195.1,305.9 195.2,313.8 195.3,311.2 195.4,312.9 195.5,312.4 195.6,311 195.7,316.5 195.8,312.2 195.9,310.6 196,304.4 196.1,309.1 196.2,317.1 196.3,310.7 196.4,297.3 196.5,302.6 196.6,303.1 196.7,310.4 196.9,308.8 197,313 197.1,314.2 197.2,296.8 197.3,314.3 197.4,301.4 197.5,311.9 197.6,311.8 197.7,314.5 197.8,308.6 197.9,312.7 198,310.9 198.1,300.4 198.2,311.1 198.3,306.6 198.4,311 198.5,304.6 198.6,319 198.7,308.8 198.9,289.5 199,313 199.1,308.6 199.2,319.4 199.3,315.2 199.4,311.9 199.5,310.1 199.6,317.3 199.7,305.6 199.8,308.2 199.9,311.3 200,310.6 200.1,301.4 200.2,314.3 200.3,303.1 200.4,320.8 200.5,315.2 200.6,307.7 200.7,303.5 200.9,312.5 201,298.7 201.1,312.9 201.2,316.8 201.3,304.6 201.4,320.2 201.5,307.8 201.6,302.2 201.7,298.7 201.8,311 201.9,297.9 202,304.8 202.1,310.6 202.2,286.3 202.3,310 202.4,308.4 202.5,320.9 202.6,302.5 202.7,304.9 202.9,301.1 203,304.4 203.1,319.4 203.2,299.3 203.3,308.7 203.4,313.4 203.5,301.2 203.6,312.3 203.7,305.9 203.8,295.6 203.9,306.4 204,302.2 204.1,309.8 204.2,297.2 204.3,307.4 204.4,316.6 204.5,292.9 204.6,315.9 204.7,306.7 204.9,307.7 205,302.4 205.1,308.8 205.2,294.9 205.3,315.9 205.4,299.8 205.5,292.4 205.6,312.5 205.7,308.8 205.8,310.6 205.9,306.5 206,307.8 206.1,300.4 206.2,308.6 206.3,302.4 206.4,298.8 206.5,301.4 206.6,305.2 206.7,312.7 206.8,310.3 207,306.7 207.1,296.4 207.2,309 207.3,303.3 207.4,310.8 207.5,308.5 207.6,303.3 207.7,303.2 207.8,303.7 207.9,305.9 208,308 208.1,312 208.2,314 208.3,317.5 208.4,312.4 208.5,316.5 208.6,305.5 208.7,313.4 208.8,295.1 209,315.2 209.1,306.2 209.2,307.6 209.3,310 209.4,302.7 209.5,314.2 209.6,313.6 209.7,311.9 209.8,315.5 209.9,288.8 210,310.4 210.1,312 210.2,306.1 210.3,309.8 210.4,312.2 210.5,311.6 210.6,295.5 210.7,302.6 210.8,300.9 211,312.3 211.1,302.2 211.2,318.9 211.3,302.2 211.4,300.7 211.5,305.2 211.6,308.2 211.7,306.3 211.8,302.2 211.9,313.5 212,306.2 212.1,301 212.2,303.9 212.3,305 212.4,300.1 212.5,304.6 212.6,310 212.7,301.4 212.8,311.4 213,300.7 213.1,316.3 213.2,299.3 213.3,307.2 213.4,303.6 213.5,309.2 213.6,295 213.7,309.2 213.8,298.2 213.9,311.4 214,307.9 214.1,306.8 214.2,308.2 214.3,306 214.4,308.6 214.5,302 214.6,314.5 214.7,302.5 214.8,302.1 215,313.1 215.1,303.2 215.2,302.4 215.3,300.7 215.4,307.6 215.5,303.2 215.6,305.3 215.7,312.2 215.8,307.3 215.9,305.8 216,304.9 216.1,303.3 216.2,296.9 216.3,297.1 216.4,305.1 216.5,301.9 216.6,312.9 216.7,302.8 216.8,298.8 217,293.4 217.1,314.4 217.2,310.1 217.3,307.9 217.4,307.2 217.5,301.2 217.6,302 217.7,311.5 217.8,311.3 217.9,314.5 218,312.5 218.1,305.1 218.2,309.6 218.3,305.8 218.4,315.1 218.5,306.7 218.6,310.8 218.7,312.1 218.8,307.4 219,303.3 219.1,310.6 219.2,299.9 219.3,309.4 219.4,306.3 219.5,311 219.6,315.5 219.7,316.2 219.8,302.9 219.9,315.7 220,310.7 220.1,315.8 220.2,294.4 220.3,301.9 220.4,317.1 220.5,306.6 220.6,308 220.7,305.8 220.8,298.7 221,308.9 221.1,306.1 221.2,313.6 221.3,297.9 221.4,308.7 221.5,314.8 221.6,312.6 221.7,313 221.8,310.9 221.9,312 222,309.9 222.1,300.6 222.2,314.5 222.3,302.6 222.4,303.6 222.5,305.2 222.6,303.9 222.7,302.5 222.8,316.1 223,296.3 223.1,295.5 223.2,303 223.3,296.1 223.4,303.5 223.5,311.9 223.6,315.1 223.7,312.2 223.8,304.3 223.9,301.6 224,315.4 224.1,295.8 224.2,295.4 224.3,291.7 224.4,307.5 224.5,314.6 224.6,312.9 224.7,313.4 224.8,302 225,308.1 225.1,301.1 225.2,310.3 225.3,301.9 225.4,297.5 225.5,317.7 225.6,304.5 225.7,302.2 225.8,308.5 225.9,308.6 226,306.6 226.1,308.5 226.2,292.6 226.3,301.1 226.4,314.5 226.5,292.3 226.6,298.4 226.7,309.8 226.8,296.1 227,317.2 227.1,309.4 227.2,311.7 227.3,314.6 227.4,302.2 227.5,315.4 227.6,312.8 227.7,320.6 227.8,292.3 227.9,307.5 228,303.1 228.1,310.3 228.2,311 228.3,311.2 228.4,311.5 228.5,286.7 228.6,304 228.7,299.7 228.8,298.9 229,263.1 229.1,298.9 229.2,301.1 229.3,302.4 229.4,313 229.5,301.4 229.6,306.8 229.7,314.7 229.8,302.1 229.9,296.8 230,312.4 230.1,297.4 230.2,296.5 230.3,307.6 230.4,314.2 230.5,303.3 230.6,313.3 230.7,304.1 230.8,305 231,305.6 231.1,289.3 231.2,301.7 231.3,306.4 231.4,309.8 231.5,314.8 231.6,302.4 231.7,305.3 231.8,315.9 231.9,313.7 232,308.8 232.1,320.7 232.2,298.1 232.3,305.1 232.4,308 232.5,312.3 232.6,298.9 232.7,311.4 232.8,298.6 233,304.3 233.1,304.5 233.2,313.9 233.3,297.9 233.4,306.9 233.5,299.4 233.6,320.8 233.7,308.5 233.8,311.1 233.9,313 234,311.4 234.1,301.6 234.2,312.3 234.3,302.4 234.4,308 234.5,303.1 234.6,304.9 234.7,319.6 234.8,301.2 235,306.7 235.1,298.3 235.2,308.7 235.3,310.8 235.4,305.2 235.5,310.4 235.6,309.4 235.7,313 235.8,300.1 235.9,306 236,303.1 236.1,299.4 236.2,304.2 236.3,311.3 236.4,307.1 236.5,313 236.6,301.5 236.7,292 236.8,303.2 237,301.6 237.1,309.9 237.2,295.9 237.3,293.9 237.4,305.9 237.5,313.1 237.6,299.7 237.7,313.9 237.8,313.2 237.9,307.1 238,310.7 238.1,298.4 238.2,310.8 238.3,318.3 238.4,310.7 238.5,309.6 238.6,306 238.7,299.5 238.8,313.4 239,299.7 239.1,308.2 239.2,314.1 239.3,307.6 239.4,305 239.5,313.8 239.6,295.2 239.7,302.6 239.8,301.3 239.9,311.6 240,297.1 240.1,299.4 240.2,308.8 240.3,261.6 240.4,296.5 240.5,298.8 240.6,291.2 240.7,309.5 240.8,304.4 241,309.1 241.1,301.5 241.2,313.4 241.3,298.8 241.4,308.1 241.5,303.9 241.6,312.6 241.7,291.5 241.8,301.5 241.9,298.7 242,313.9 242.1,311.4 242.2,305.7 242.3,312.3 242.4,300.7 242.5,313.3 242.6,310.6 242.7,306.5 242.8,306.5 243,315.1 243.1,314.2 243.2,312.1 243.3,294 243.4,305.8 243.5,297.3 243.6,306.9 243.7,296.4 243.8,304.8 243.9,303.8 244,294.2 244.1,306.7 244.2,303.9 244.3,306.4 244.4,308 244.5,314.2 244.6,315.5 244.7,301 244.8,312.7 245,306.9 245.1,304.9 245.2,318.3 245.3,306 245.4,300.2 245.5,302.9 245.6,300.6 245.7,315 245.8,306.1 245.9,297.1 246,310.7 246.1,299.3 246.2,297.9 246.3,311 246.4,307.4 246.5,310 246.6,308.3 246.7,306.3 246.8,306.4 247,303.3 247.1,305.3 247.2,313.5 247.3,310.3 247.4,255.7 247.5,291.5 247.6,306.9 247.7,303.7 247.8,305.2 247.9,315.3 248,303.4 248.1,300.9 248.2,297.8 248.3,313 248.4,313.5 248.5,309.1 248.6,299.5 248.7,305.7 248.8,302.7 249,312 249.1,294.2 249.2,298.1 249.3,308.8 249.4,307.8 249.5,300.9 249.6,310.9 249.7,306.1 249.8,296.3 249.9,310.4 250,301.9 250.1,319.1 250.2,302.4 250.3,294.1 250.4,320.1 250.5,308.5 250.6,307.9 250.7,308.3 250.8,305.8 250.9,307.5 251.1,285.8 251.2,309.4 251.3,310.4 251.4,313.5 251.5,311.5 251.6,232 251.7,314.1 251.8,302.1 251.9,302.8 252,312 252.1,306.8 252.2,291 252.3,293.7 252.4,318.5 252.5,314.2 252.6,299.7 252.7,320.9 252.8,312.3 252.9,309.5 253.1,309.5 253.2,319.6 253.3,306.6 253.4,287.6 253.5,287.1 253.6,296.8 253.7,310 253.8,308 253.9,291.7 254,300.4 254.1,300 254.2,311 254.3,306 254.4,311.8 254.5,319.4 254.6,311.1 254.7,310.3 254.8,301.3 254.9,297.5 255.1,306.5 255.2,311.9 255.3,308.3 255.4,310.3 255.5,307.6 255.6,313.8 255.7,307.2 255.8,307 255.9,305 256,313 256.1,307.4 256.2,299.6 256.3,306.8 256.4,307.7 256.5,308.3 256.6,303.2 256.7,300.1 256.8,311.3 256.9,290 257.1,309 257.2,305.6 257.3,297.9 257.4,305.5 257.5,305.3 257.6,310 257.7,305.1 257.8,309.8 257.9,311.9 258,318.2 258.1,291.5 258.2,314.8 258.3,296.7 258.4,309.1 258.5,289.2 258.6,305.5 258.7,214.2 258.8,309.5 258.9,305.3 259.1,312.6 259.2,306.7 259.3,297.6 259.4,305.2 259.5,292.1 259.6,304.7 259.7,306.6 259.8,312.8 259.9,312.6 260,311.2 260.1,301.8 260.2,315.2 260.3,313.5 260.4,310.1 260.5,309.9 260.6,302.6 260.7,303.6 260.8,309.8 260.9,315.6 261.1,292.1 261.2,296.6 261.3,306.9 261.4,307.1 261.5,300 261.6,296.4 261.7,305.7 261.8,312.3 261.9,289.4 262,310.4 262.1,297.2 262.2,305.9 262.3,315.7 262.4,311.9 262.5,307.4 262.6,297 262.7,309.8 262.8,246.5 262.9,308.2 263.1,309.2 263.2,300.7 263.3,310.3 263.4,316.4 263.5,293.3 263.6,306.8 263.7,305.3 263.8,300 263.9,306 264,308.1 264.1,309.7 264.2,305.8 264.3,304.7 264.4,297.8 264.5,311 264.6,295.2 264.7,298.5 264.8,311.8 264.9,308.8 265.1,310.9 265.2,291.1 265.3,313.2 265.4,291.7 265.5,298.4 265.6,302.8 265.7,291 265.8,320 265.9,300.2 266,288.3 266.1,313.3 266.2,308.7 266.3,309.9 266.4,304.1 266.5,307.1 266.6,296.2 266.7,300.4 266.8,297.5 266.9,310.7 267.1,304.7 267.2,303.7 267.3,308.7 267.4,312.5 267.5,297.5 267.6,305.7 267.7,317.6 267.8,288.4 267.9,288.5 268,294.1 268.1,316.7 268.2,308.1 268.3,304.6 268.4,309.5 268.5,314.9 268.6,307.2 268.7,302.5 268.8,297.2 268.9,318.2 269.1,308 269.2,304 269.3,315.2 269.4,296.8 269.5,291.4 269.6,278.5 269.7,312.6 269.8,305.3 269.9,319.9 270,302.9 270.1,298.2 270.2,307.4 270.3,294.5 270.4,308.2 270.5,307.9 270.6,308 270.7,304.9 270.8,308 270.9,318.3 271.1,311.5 271.2,302.7 271.3,313.7 271.4,304.2 271.5,279.4 271.6,310.8 271.7,303.7 271.8,306.7 271.9,298.3 272,303.6 272.1,312.8 272.2,306.6 272.3,305.9 272.4,302.7 272.5,300.7 272.6,310.4 272.7,319.3 272.8,309.4 272.9,298.5 273.1,312.9 273.2,307.7 273.3,310.8 273.4,305 273.5,308.8 273.6,310.6 273.7,302.2 273.8,313.9 273.9,306.6 274,292.4 274.1,307.4 274.2,302.2 274.3,302.9 274.4,304.1 274.5,311.2 274.6,311.5 274.7,309.8 274.8,313.4 274.9,295.5 275.1,308.5 275.2,311 275.3,305.3 275.4,303.4 275.5,298.7 275.6,295.5 275.7,306.4 275.8,302.6 275.9,305.5 276,301.3 276.1,310.4 276.2,303.1 276.3,306.8 276.4,307.3 276.5,303.4 276.6,293.6 276.7,308.4 276.8,307.1 276.9,313.1 277.1,312.6 277.2,307.6 277.3,289.1 277.4,308.4 277.5,309.4 277.6,309.2 277.7,296.7 277.8,315.4 277.9,308.8 278,304.2 278.1,308.2 278.2,311.3 278.3,310 278.4,308.2 278.5,300.6 278.6,309.4 278.7,298.6 278.8,299.1 278.9,300.2 279.1,311.5 279.2,292.3 279.3,314.1 279.4,312 279.5,296.3 279.6,292.8 279.7,309 279.8,308 279.9,320.1 280,301 280.1,309.5 280.2,304.6 280.3,315.5 280.4,311.6 280.5,310.3 280.6,311.5 280.7,306.2 280.8,308.9 280.9,300 281.1,310.1 281.2,312.1 281.3,304.9 281.4,312.2 281.5,319.5 281.6,309.9 281.7,300.6 281.8,313.6 281.9,307.7 282,306.6 282.1,289.6 282.2,311.8 282.3,308.9 282.4,313.4 282.5,304.7 282.6,307.8 282.7,319.3 282.8,306.6 282.9,306.3 283.1,311 283.2,308.2 283.3,319.9 283.4,311.4 283.5,295.7 283.6,312.9 283.7,297.8 283.8,300.8 283.9,304.6 284,309.8 284.1,300.5 284.2,320.6 284.3,298.2 284.4,312.9 284.5,300.9 284.6,312.1 284.7,296.3 284.8,307.5 284.9,305.1 285.1,309.1 285.2,295.9 285.3,300.8 285.4,288.8 285.5,299.7 285.6,315.4 285.7,290.5 285.8,306.9 285.9,312.7 286,310.6 286.1,313.3 286.2,306.6 286.3,314.7 286.4,309.4 286.5,300.1 286.6,292.5 286.7,315.2 286.8,304.8 286.9,299.4 287.1,300.6 287.2,307.1 287.3,302.6 287.4,302 287.5,306.4 287.6,304 287.7,312.9 287.8,306 287.9,315.2 288,309.9 288.1,288.6 288.2,303.1 288.3,304.8 288.4,304.9 288.5,315.1 288.6,306.7 288.7,302.7 288.8,313.5 288.9,314.4 289.1,297.9 289.2,320.9 289.3,297.9 289.4,300.3 289.5,303.4 289.6,304.8 289.7,304.7 289.8,301.6 289.9,306.5 290,295.3 290.1,303.9 290.2,300.4 290.3,308.7 290.4,305.2 290.5,319.5 290.6,304.6 290.7,309.1 290.8,308.4 290.9,315.8 291.1,294.3 291.2,296.2 291.3,312 291.4,303.7 291.5,302.6 291.6,312.5 291.7,318.3 291.8,310.1 291.9,302.5 292,308.6 292.1,306.3 292.2,277 292.3,313.2 292.4,314 292.5,304.8 292.6,302 292.7,299.6 292.8,290.1 292.9,315.5 293,309.9 293.2,306 293.3,302.9 293.4,312 293.5,298.2 293.6,297.5 293.7,306.1 293.8,303.9 293.9,313.6 294,312.7 294.1,315.1 294.2,310.4 294.3,296.5 294.4,316.6 294.5,308.7 294.6,304 294.7,300.7 294.8,309 294.9,309.3 295,299.2 295.2,308.9 295.3,307.2 295.4,310.4 295.5,297 295.6,301.6 295.7,307.4 295.8,305.3 295.9,297.9 296,312.3 296.1,308.1 296.2,305.5 296.3,314.9 296.4,269 296.5,308.1 296.6,308.1 296.7,300.4 296.8,308.4 296.9,295.6 297,299.4 297.2,302.2 297.3,312.8 297.4,307.7 297.5,295.3 297.6,310.7 297.7,300 297.8,315.1 297.9,295.4 298,310.7 298.1,307.7 298.2,302.7 298.3,300.7 298.4,307.8 298.5,299.3 298.6,314.5 298.7,312.2 298.8,309.2 298.9,297.4 299,298.9 299.2,320.7 299.3,306.4 299.4,297.2 299.5,300.3 299.6,309.4 299.7,303.9 299.8,304.7 299.9,313.3 300,312.1 300.1,306.9 300.2,306.4 300.3,298.4 300.4,307.5 300.5,300.9 300.6,300 300.7,310.1 300.8,305.4 300.9,300.2 301,320.2 301.2,312.5 301.3,307.9 301.4,319.4 301.5,302.9 301.6,314.1 301.7,306.3 301.8,300 301.9,320.4 302,313.9 302.1,303.9 302.2,305.1 302.3,314.7 302.4,306.1 302.5,307.8 302.6,307.3 302.7,310.4 302.8,306 302.9,310.4 303,313.6 303.2,295.3 303.3,300.8 303.4,294 303.5,308 303.6,304.5 303.7,315.9 303.8,313.9 303.9,305.5 304,304.3 304.1,307.1 304.2,313.1 304.3,301.1 304.4,301.2 304.5,308.9 304.6,301.3 304.7,299.7 304.8,304.9 304.9,303.2 305,295.8 305.2,302.3 305.3,292.7 305.4,304.5 305.5,303.8 305.6,295.6 305.7,301.7 305.8,301.8 305.9,306.9 306,307.2 306.1,304.5 306.2,311.5 306.3,313 306.4,311.6 306.5,301.6 306.6,293.9 306.7,300.8 306.8,306.8 306.9,304 307,319.7 307.2,308.6 307.3,315.6 307.4,293.7 307.5,318.6 307.6,237.6 307.7,305.5 307.8,305.3 307.9,311.3 308,295.3 308.1,311.3 308.2,309.2 308.3,302.4 308.4,298.6 308.5,302.4 308.6,300.7 308.7,301.1 308.8,311.5 308.9,287.6 309,297 309.2,313.4 309.3,304.9 309.4,295.2 309.5,319.8 309.6,298.7 309.7,293.1 309.8,315 309.9,314.4 310,310.7 310.1,297.5 310.2,302.3 310.3,310.6 310.4,313.5 310.5,310.4 310.6,307.3 310.7,299.3 310.8,314.3 310.9,299 311,309.1 311.2,306.6 311.3,299.8 311.4,297 311.5,313.7 311.6,305.9 311.7,310.5 311.8,308.4 311.9,313.3 312,305.3 312.1,295.1 312.2,308 312.3,312.3 312.4,305.4 312.5,300.4 312.6,312.7 312.7,300.6 312.8,309.8 312.9,285.8 313,278.5 313.2,307.3 313.3,311.9 313.4,305.3 313.5,294.8 313.6,314.3 313.7,314.2 313.8,296 313.9,294 314,298.2 314.1,291.4 314.2,297.7 314.3,310.4 314.4,299.2 314.5,311 314.6,302.1 314.7,317.3 314.8,302.9 314.9,301.7 315,318.7 315.2,304.9 315.3,298.2 315.4,316.5 315.5,309.1 315.6,308.6 315.7,292.8 315.8,314.5 315.9,300.4 316,305.4 316.1,306.8 316.2,303.6 316.3,303.4 316.4,297.9 316.5,313.5 316.6,306.7 316.7,317 316.8,306.6 316.9,315.7 317,305.3 317.2,317 317.3,302.3 317.4,299.7 317.5,301.7 317.6,304.4 317.7,310.1 317.8,298.8 317.9,313.2 318,292.5 318.1,306.2 318.2,294.5 318.3,305.5 318.4,309.3 318.5,318.4 318.6,294.2 318.7,312.2 318.8,313.8 318.9,273.4 319,311.7 319.2,315.4 319.3,309.9 319.4,304 319.5,308 319.6,304.6 319.7,304.3 319.8,307.5 319.9,305.9 320,288.1 320.1,308.3 320.2,308 320.3,311.7 320.4,285.8 320.5,291.2 320.6,309.5 320.7,297.5 320.8,301.4 320.9,313.4 321,308.4 321.2,309.2 321.3,305.5 321.4,303.7 321.5,302.7 321.6,313.1 321.7,303.9 321.8,295.2 321.9,307.2 322,306.9 322.1,313.4 322.2,306.3 322.3,312.3 322.4,295.1 322.5,308 322.6,299.5 322.7,298.8 322.8,311.1 322.9,318.7 323,307.3 323.2,300.2 323.3,311.6 323.4,296 323.5,303.9 323.6,309.2 323.7,312.1 323.8,308.3 323.9,308.3 324,310.9 324.1,298.2 324.2,308.8 324.3,309.1 324.4,311.1 324.5,312.5 324.6,302.2 324.7,306.6 324.8,299.4 324.9,311.5 325,312.5 325.2,317.4 325.3,294.5 325.4,301.5 325.5,307.7 325.6,304.2 325.7,311.3 325.8,320 325.9,312.2 326,299.8 326.1,290.1 326.2,302.1 326.3,303.1 326.4,312.4 326.5,301.9 326.6,316.2 326.7,304.6 326.8,310.3 326.9,301.6 327,295.2 327.2,312.6 327.3,315.6 327.4,310.6 327.5,311.6 327.6,305.7 327.7,302.3 327.8,314.3 327.9,298.7 328,297.4 328.1,291.9 328.2,312.9 328.3,304.3 328.4,303.4 328.5,311.1 328.6,301.5 328.7,306.2 328.8,305.2 328.9,313 329,305.2 329.2,301.7 329.3,308.3 329.4,292.5 329.5,306.3 329.6,308.3 329.7,292.3 329.8,300.6 329.9,312.3 330,315.4 330.1,315.2 330.2,298.7 330.3,313.4 330.4,306.7 330.5,312.9 330.6,310.7 330.7,291.3 330.8,309.4 330.9,309.8 331,307.5 331.2,306.3 331.3,319.2 331.4,304 331.5,306.6 331.6,310.7 331.7,311.9 331.8,315.3 331.9,299.2 332,316 332.1,302.9 332.2,310.8 332.3,305.3 332.4,302.6 332.5,304.5 332.6,304.8 332.7,310.5 332.8,307.2 332.9,303.1 333,310.7 333.2,302.9 333.3,292.9 333.4,303.9 333.5,312.4 333.6,308 333.7,302.2 333.8,292.5 333.9,293.7 334,307.7 334.1,302.5 334.2,305.5 334.3,299.6 334.4,310.2 334.5,315.8 334.6,307.7 334.7,310.5 334.8,300.4 334.9,308.4 335,313.1 335.1,314.3 335.3,304.7 335.4,309.3 335.5,310.7 335.6,309.1 335.7,309.7 335.8,320.1 335.9,302.9 336,307.7 336.1,307 336.2,309.8 336.3,314.9 336.4,298.5 336.5,306.4 336.6,316 336.7,300.7 336.8,313.8 336.9,312.3 337,307.4 337.1,303.1 337.3,309.7 337.4,309.6 337.5,316.7 337.6,289.2 337.7,311.8 337.8,310.1 337.9,309.8 338,301.1 338.1,299.5 338.2,308 338.3,310.7 338.4,309 338.5,308.9 338.6,295.5 338.7,313 338.8,302.9 338.9,298.9 339,313.8 339.1,302.8 339.3,310.7 339.4,303.4 339.5,298.6 339.6,307.1 339.7,306.6 339.8,308.6 339.9,312.8 340,308.9 340.1,301.1 340.2,305 340.3,294.5 340.4,316.8 340.5,308.4 340.6,315.7 340.7,306.5 340.8,298.8 340.9,313.5 341,309.5 341.1,311.5 341.3,300.6 341.4,302.5 341.5,319 341.6,310.2 341.7,307.7 341.8,304 341.9,314.6 342,304.6 342.1,308.8 342.2,298.5 342.3,314.9 342.4,300.3 342.5,282.3 342.6,308.9 342.7,310.5 342.8,312.8 342.9,310.2 343,293.1 343.1,306.3 343.3,304.9 343.4,307.2 343.5,308.3 343.6,303.5 343.7,307.6 343.8,316.1 343.9,312.4 344,314.3 344.1,319.4 344.2,305.7 344.3,302.1 344.4,313 344.5,310.1 344.6,305.4 344.7,307.5 344.8,314.6 344.9,310.6 345,313.5 345.1,313.8 345.3,314.8 345.4,308.2 345.5,310.1 345.6,301.2 345.7,311.4 345.8,300 345.9,291.3 346,302.7 346.1,309.9 346.2,300.1 346.3,309.9 346.4,306.1 346.5,302 346.6,307.1 346.7,308.1 346.8,307 346.9,306.3 347,296.4 347.1,311.2 347.3,304.2 347.4,307.9 347.5,306.4 347.6,303.3 347.7,308.5 347.8,308.9 347.9,295.1 348,316.6 348.1,311.2 348.2,300 348.3,319.3 348.4,316 348.5,312.5 348.6,310.7 348.7,306.1 348.8,309.7 348.9,303 349,317.3 349.1,310.3 349.3,313.6 349.4,312.1 349.5,302.8 349.6,320.3 349.7,302.5 349.8,306.8 349.9,308.8 350,313.3 350.1,315.6 350.2,314 350.3,300.9 350.4,320.2 350.5,305.3 350.6,309.7 350.7,313.3 350.8,311.7 350.9,305.8 351,313.1 351.1,307.6 351.3,304.5 351.4,311.5 351.5,318.7 351.6,308.9 351.7,306.3 351.8,315.6 351.9,310.3 352,309.1 352.1,305.4 352.2,313.6 352.3,301.6 352.4,300.4 352.5,311 352.6,304.6 352.7,308 352.8,302.8 352.9,314.2 353,311.7 353.1,308.8 353.3,302.6 353.4,310.1 353.5,305.9 353.6,313.8 353.7,306.7 353.8,306.4 353.9,310.6 354,304.9 354.1,303.4 354.2,303.6 354.3,305.4 354.4,307.5 354.5,312.3 354.6,313 354.7,313.4 354.8,307.6 354.9,296.6 355,300.3 355.1,310.8 355.3,306.5 355.4,301.6 355.5,304.1 355.6,310.9 355.7,303.6 355.8,299.9 355.9,309 356,313.9 356.1,306.7 356.2,308.8 356.3,314.3 356.4,306.4 356.5,314.9 356.6,303.9 356.7,300.1 356.8,305.6 356.9,304.2 357,308.1 357.1,309.2 357.3,305.8 357.4,314 357.5,306.8 357.6,285.8 357.7,303.2 357.8,319 357.9,305.2 358,311.8 358.1,315.3 358.2,310.1 358.3,304.4 358.4,313.3 358.5,311.7 358.6,311.9 358.7,308.4 358.8,306.2 358.9,310.6 359,301.7 359.1,302.8 359.3,304.9 359.4,302.7 359.5,317.8 359.6,314.3 359.7,314 359.8,300.4 359.9,306.4 360,306.6 360.1,300.8 360.2,314.8 360.3,311.7 360.4,305.9 360.5,320.1 360.6,310.9 360.7,302.1 360.8,306.5 360.9,313.9 361,312.6 361.1,309 361.3,314.2 361.4,313.2 361.5,313.3 361.6,305.4 361.7,310.7 361.8,303 361.9,313.9 362,303.5 362.1,302.7 362.2,307.1 362.3,296.2 362.4,303.5 362.5,311.6 362.6,309.7 362.7,306.1 362.8,301.9 362.9,300.7 363,300.5 363.1,311.7 363.3,311.9 363.4,301.5 363.5,305.7 363.6,316.5 363.7,305.7 363.8,314.2 363.9,311.3 364,305.3 364.1,309.4 364.2,306.5 364.3,304.6 364.4,316.5 364.5,304.2 364.6,308.4 364.7,308.9 364.8,306.2 364.9,319.2 365,297.9 365.1,304.4 365.3,303.4 365.4,306.1 365.5,313.9 365.6,313.1 365.7,309.4 365.8,311.5 365.9,299.2 366,320.8 366.1,310.6 366.2,304.1 366.3,304.2 366.4,309.6 366.5,309.6 366.6,303.3 366.7,300.5 366.8,307 366.9,312.2 367,316.4 367.1,315.9 367.3,299.8 367.4,298.4 367.5,301.2 367.6,310 367.7,310.2 367.8,307.9 367.9,310.5 368,314.2 368.1,311.8 368.2,300.4 368.3,313.9 368.4,306.2 368.5,315.6 368.6,312.7 368.7,316.2 368.8,298.4 368.9,303.4 369,298 369.1,309.6 369.3,317.5 369.4,300.5 369.5,307.3 369.6,308.6 369.7,307 369.8,313.7 369.9,320.2 370,304.8 370.1,305.4 370.2,305.8 370.3,316.3 370.4,314.1 370.5,312.8 370.6,293.6 370.7,315.4 370.8,302.6 370.9,294.1 371,302.6 371.1,320 371.3,304.8 371.4,311.5 371.5,307.3 371.6,313.3 371.7,319.6 371.8,314.9 371.9,314.7 372,303 372.1,310.4 372.2,304 372.3,310.4 372.4,312.8 372.5,293.3 372.6,309.8 372.7,306.8 372.8,309.3 372.9,304.9 373,319.3 373.1,307.3 373.3,297 373.4,307.7 373.5,310.7 373.6,299.5 373.7,302.9 373.8,313.3 373.9,308.5 374,305.4 374.1,307.9 374.2,300.2 374.3,304.6 374.4,297.8 374.5,313.6 374.6,295.4 374.7,306 374.8,314.1 374.9,316 375,298.4 375.1,312.8 375.2,306.4 375.4,314 375.5,306.1 375.6,320.8 375.7,315.2 375.8,307.9 375.9,308.7 376,310.1 376.1,314.5 376.2,306.2 376.3,286.7 376.4,313 376.5,312 376.6,304.4 376.7,289.7 376.8,296.1 376.9,310.9 377,307.6 377.1,302.8 377.2,309 377.4,309.1 377.5,292 377.6,307.4 377.7,304.5 377.8,302.8 377.9,305.1 378,306.4 378.1,300.5 378.2,307.8 378.3,311.9 378.4,308.8 378.5,314.7 378.6,307.5 378.7,299.6 378.8,307.8 378.9,316.6 379,309.4 379.1,309.9 379.2,304.7 379.4,307.7 379.5,309.7 379.6,311.1 379.7,311.2 379.8,305.2 379.9,298.5 380,304.5 380.1,302.2 380.2,311.5 380.3,315.3 380.4,309.7 380.5,307.6 380.6,302.6 380.7,312.2 380.8,295.4 380.9,306.9 381,306.6 381.1,303.9 381.2,311.5 381.4,315.2 381.5,305.2 381.6,306.5 381.7,302.7 381.8,319.9 381.9,307 382,300.3 382.1,312.3 382.2,314 382.3,312.7 382.4,313.5 382.5,305.4 382.6,300.7 382.7,313.7 382.8,314 382.9,316.5 383,302.9 383.1,310.7 383.2,312 383.4,308.1 383.5,303.9 383.6,308.3 383.7,314.2 383.8,311.5 383.9,308.9 384,303.8 384.1,297.5 384.2,307.8 384.3,297.1 384.4,310.9 384.5,302.5 384.6,306.1 384.7,311.4 384.8,312.6 384.9,311.8 385,311.4 385.1,307.7 385.2,303.4 385.4,308 385.5,298.3 385.6,316.2 385.7,309.3 385.8,305.7 385.9,309.3 386,309.2 386.1,309.2 386.2,310.7 386.3,301.3 386.4,313 386.5,304.6 386.6,305.7 386.7,312.4 386.8,310 386.9,312.6 387,312.7 387.1,307.6 387.2,302.2 387.4,306.1 387.5,308.9 387.6,305.9 387.7,312.1 387.8,305.5 387.9,298.6 388,308.2 388.1,309.1 388.2,302.6 388.3,308.7 388.4,308.8 388.5,299.9 388.6,315.9 388.7,302 388.8,316.9 388.9,293.6 389,314.1 389.1,304 389.2,297.5 389.4,314.5 389.5,301.2 389.6,315.6 389.7,309 389.8,309 389.9,309.4 390,313.3 390.1,304.1 390.2,309.1 390.3,311.6 390.4,292.3 390.5,308.8 390.6,306 390.7,309.9 390.8,316.8 390.9,299.5 391,304.9 391.1,304.5 391.2,306.2 391.4,306.8 391.5,294.2 391.6,295.4 391.7,315.5 391.8,317.6 391.9,309.1 392,306.8 392.1,320.5 392.2,308.4 392.3,310.4 392.4,311 392.5,295.6 392.6,305.5 392.7,310 392.8,312.1 392.9,308.9 393,297.6 393.1,306.1 393.2,314.7 393.4,309.8 393.5,311.9 393.6,314.5 393.7,311.1 393.8,310.4 393.9,301.5 394,311.9 394.1,307.6 394.2,313.3 394.3,306.6 394.4,317.4 394.5,307.1 394.6,305.2 394.7,299.2 394.8,312.9 394.9,295.2 395,308 395.1,309.3 395.2,285.8 395.4,303.2 395.5,315.9 395.6,317.4 395.7,305 395.8,301.2 395.9,300.6 396,295.1 396.1,303.3 396.2,309.5 396.3,318.6 396.4,301.5 396.5,303.6 396.6,308 396.7,305.5 396.8,291.3 396.9,306.3 397,313.8 397.1,305.4 397.2,303.7 397.4,313.1 397.5,308.2 397.6,299.9 397.7,300 397.8,314.4 397.9,305.7 398,308 398.1,312.2 398.2,304.8 398.3,311.5 398.4,296.1 398.5,304.7 398.6,302.4 398.7,309.1 398.8,304.9 398.9,306.9 399,307.5 399.1,303 399.2,320.9 399.4,309.1 399.5,308 399.6,290.6 399.7,295.1 399.8,307.3 399.9,308.1 400,307.1 400.1,308 400.2,316.3 400.3,308.9 400.4,302.3 400.5,304.4 400.6,310.4 400.7,297.7 400.8,307.8 400.9,314.3 401,306.8 401.1,312.6 401.2,302.5 401.4,310.1 401.5,308.5 401.6,320.2 401.7,303.3 401.8,299.9 401.9,308.5 402,320.4 402.1,302.5 402.2,304.6 402.3,314.3 402.4,320.7 402.5,315 402.6,298.8 402.7,312.6 402.8,305.4 402.9,314.5 403,316.8 403.1,305.5 403.2,307.8 403.4,314.9 403.5,307.3 403.6,307.2 403.7,305.7 403.8,309.2 403.9,310.7 404,301.4 404.1,315.1 404.2,310 404.3,310.8 404.4,314.3 404.5,294.6 404.6,309.8 404.7,302.1 404.8,309.8 404.9,301.2 405,310.9 405.1,307.5 405.2,301.9 405.4,292.6 405.5,304.2 405.6,304 405.7,310.1 405.8,299.1 405.9,305.8 406,300.7 406.1,315 406.2,313.7 406.3,315.2 406.4,312.7 406.5,297.1 406.6,303.5 406.7,306.4 406.8,311.3 406.9,304.7 407,303.8 407.1,302.6 407.2,301.5 407.4,305.5 407.5,310.3 407.6,302.4 407.7,306.7 407.8,308.3 407.9,314.9 408,294.8 408.1,305.3 408.2,314.8 408.3,315.6 408.4,315.6 408.5,312.7 408.6,302 408.7,295 408.8,299.2 408.9,308.8 409,302.1 409.1,296.8 409.2,301.3 409.4,309.4 409.5,301.2 409.6,294.4 409.7,311.8 409.8,295.4 409.9,308.5 410,311.6 410.1,304.6 410.2,304.8 410.3,305.7 410.4,311.1 410.5,299.5 410.6,306.7 410.7,315 410.8,309 410.9,307.2 411,309.8 411.1,309.9 411.2,294.2 411.4,314.1 411.5,311.1 411.6,308.3 411.7,311.9 411.8,312.6 411.9,312.8 412,304.7 412.1,304.3 412.2,316.2 412.3,308.4 412.4,308.2 412.5,298.4 412.6,306.9 412.7,312.4 412.8,309.5 412.9,316 413,312.4 413.1,303.2 413.2,307.9 413.4,301.7 413.5,307.3 413.6,294.8 413.7,304 413.8,309.7 413.9,300.8 414,320.3 414.1,309.9 414.2,296.9 414.3,306.8 414.4,310.6 414.5,303.5 414.6,308.1 414.7,294.6 414.8,311.1 414.9,313.9 415,313 415.1,312.7 415.2,301.8 415.4,309.3 415.5,299.5 415.6,300.8 415.7,305.2 415.8,315.1 415.9,304.8 416,308.8 416.1,311.7 416.2,303 416.3,311.4 416.4,308.6 416.5,311.3 416.6,315.2 416.7,311 416.8,314.1 416.9,307.7 417,307.6 417.1,310.9 417.2,299.3 417.3,301 417.5,317.6 417.6,304.9 417.7,309.5 417.8,312.7 417.9,310.7 418,312.3 418.1,306 418.2,297.2 418.3,311 418.4,306.3 418.5,311.6 418.6,306.7 418.7,308.7 418.8,306.2 418.9,307.5 419,309 419.1,303.6 419.2,309.2 419.3,296 419.5,311.8 419.6,304.6 419.7,310.1 419.8,310.6 419.9,305.9 420,304.7 420.1,309.3 420.2,309.7 420.3,315.5 420.4,312.6 420.5,304.7 420.6,309.8 420.7,308.8 420.8,317.2 420.9,313.3 421,302.1 421.1,311.6 421.2,317.1 421.3,309.1 421.5,312.7 421.6,317.1 421.7,313.8 421.8,307.7 421.9,294.9 422,305.9 422.1,297.5 422.2,304 422.3,311.8 422.4,301.3 422.5,302.6 422.6,311.5 422.7,309.1 422.8,310.6 422.9,312.9 423,309.8 423.1,304 423.2,307.1 423.3,307.4 423.5,298 423.6,313.3 423.7,307.9 423.8,299.7 423.9,301 424,298.9 424.1,293.8 424.2,300.5 424.3,301.8 424.4,315.8 424.5,302.6 424.6,302.1 424.7,313.3 424.8,309.2 424.9,316.9 425,305.8 425.1,305.6 425.2,307.6 425.3,310.6 425.5,312.9 425.6,314.5 425.7,320.5 425.8,309.6 425.9,308.8 426,312.8 426.1,305.4 426.2,308 426.3,310.7 426.4,309.2 426.5,314.5 426.6,302.7 426.7,297.2 426.8,295.4 426.9,311.6 427,306.6 427.1,299.7 427.2,309.2 427.3,319.5 427.5,315.5 427.6,317.2 427.7,314.1 427.8,312.4 427.9,306.6 428,311.7 428.1,316.9 428.2,303.5 428.3,304.7 428.4,314 428.5,302.9 428.6,304.6 428.7,307.3 428.8,293.3 428.9,303.3 429,307 429.1,302.2 429.2,308.6 429.3,293.3 429.5,291.2 429.6,309.2 429.7,311 429.8,309.3 429.9,313.1 430,304 430.1,308.5 430.2,308.9 430.3,312.5 430.4,305.9 430.5,310.7 430.6,303 430.7,304.9 430.8,305.3 430.9,319.6 431,307.5 431.1,308.8 431.2,292.8 431.3,303.5 431.5,294.1 431.6,306.7 431.7,313.6 431.8,307.3 431.9,312.9 432,308.1 432.1,307.6 432.2,309.4 432.3,316.9 432.4,309 432.5,316.1 432.6,300.2 432.7,303.7 432.8,303.2 432.9,303.2 433,307.8 433.1,304.5 433.2,316.1 433.3,302.4 433.5,298.7 433.6,308.2 433.7,309.5 433.8,295.7 433.9,314 434,299.9 434.1,307.4 434.2,319.3 434.3,309.7 434.4,307.6 434.5,302 434.6,300.1 434.7,311.3 434.8,299.3 434.9,295.3 435,312.3 435.1,305.9 435.2,309.6 435.3,312.6 435.5,293 435.6,307.6 435.7,302 435.8,316.6 435.9,303.3 436,310.9 436.1,314.8 436.2,315.7 436.3,308 436.4,313 436.5,310.9 436.6,303.4 436.7,313.3 436.8,309.6 436.9,306.6 437,311.3 437.1,309.8 437.2,308.3 437.3,299.6 437.5,316.5 437.6,286.6 437.7,293.7 437.8,311.6 437.9,314.7 438,309.2 438.1,304.3 438.2,314.6 438.3,306.4 438.4,307.9 438.5,305.6 438.6,304.2 438.7,307.5 438.8,301.3 438.9,305.9 439,304.3 439.1,315.5 439.2,305.5 439.3,302.1 439.5,302.5 439.6,307.7 439.7,313.8 439.8,304.8 439.9,301.9 440,309.4 440.1,304.9 440.2,315.5 440.3,311.1 440.4,310.5 440.5,313.4 440.6,311.8 440.7,316.8 440.8,300.5 440.9,309.9 441,311.8 441.1,311.4 441.2,303.1 441.3,303.5 441.5,312.5 441.6,309.2 441.7,313.6 441.8,311.2 441.9,308.3 442,295.2 442.1,310.6 442.2,297.1 442.3,310.4 442.4,302.8 442.5,318.5 442.6,296.1 442.7,310.4 442.8,310.6 442.9,298.9 443,311.8 443.1,295.5 443.2,301.4 443.3,303.4 443.5,309.8 443.6,306 443.7,320 443.8,309.4 443.9,312.8 444,304.5 444.1,309.4 444.2,306.4 444.3,305.5 444.4,316.2 444.5,311.4 444.6,298.4 444.7,314.2 444.8,301.9 444.9,302.4 445,304.9 445.1,311.9 445.2,305.6 445.3,298.7 445.5,309.9 445.6,303 445.7,316.2 445.8,295.3 445.9,302.1 446,306.4 446.1,316.1 446.2,318.9 446.3,309.2 446.4,311.4 446.5,308.1 446.6,305.9 446.7,301.3 446.8,293 446.9,312.1 447,307 447.1,313.6 447.2,304.4 447.3,308.9 447.5,305.8 447.6,308.1 447.7,307.8 447.8,309.8 447.9,305.5 448,312.8 448.1,298.3 448.2,314 448.3,312.6 448.4,310.8 448.5,301.6 448.6,311.6 448.7,297.6 448.8,305.6 448.9,311.4 449,301.5 449.1,304.9 449.2,315.3 449.3,315.9 449.5,303.4 449.6,303 449.7,312.8 449.8,303.8 449.9,311 450,306.5 450.1,312.1 450.2,303.2 450.3,296.2 450.4,319.3 450.5,304.2 450.6,317 450.7,294.8 450.8,315.5 450.9,301.5 451,297.3 451.1,311.3 451.2,312 451.3,315.5 451.5,306.3 451.6,305 451.7,315 451.8,308.1 451.9,309.8 452,311.8 452.1,307 452.2,301.4 452.3,308.5 452.4,313.9 452.5,302.5 452.6,303.2 452.7,307.5 452.8,311.1 452.9,314.3 453,311.7 453.1,315.4 453.2,289.3 453.3,319 453.5,313.4 453.6,314.2 453.7,309.2 453.8,310.2 453.9,313.7 454,309.2 454.1,308.1 454.2,305.8 454.3,307.8 454.4,312.2 454.5,288.2 454.6,298.1 454.7,315 454.8,294.3 454.9,312.9 455,303.4 455.1,315.5 455.2,305.3 455.3,307.9 455.5,306.4 455.6,302 455.7,296.4 455.8,311.2 455.9,296.1 456,309.9 456.1,306.6 456.2,306.5 456.3,297.5 456.4,309.5 456.5,313.6 456.6,288.7 456.7,311.4 456.8,307.4 456.9,298.9 457,312.8 457.1,312.2 457.2,312.7 457.3,303 457.5,309.5 457.6,297.2 457.7,316.4 457.8,319.3 457.9,293.1 458,306.1 458.1,306.4 458.2,315.4 458.3,314.3 458.4,308.2 458.5,309 458.6,301.1 458.7,301.3 458.8,303.3 458.9,300.7 459,305.3 459.1,299.8 459.2,304.6 459.3,307.1 459.4,305.9 459.6,307.5 459.7,293.6 459.8,303.6 459.9,313.4 460,314.8 460.1,307.2 460.2,309.7 460.3,308.2 460.4,313.8 460.5,310.7 460.6,306.6 460.7,312.2 460.8,306.6 460.9,313.4 461,307.8 461.1,320.9 461.2,304.8 461.3,307.9 461.4,308.8 461.6,300.8 461.7,311.4 461.8,302.3 461.9,306.2 462,309.3 462.1,292 462.2,315.2 462.3,312.5 462.4,305.1 462.5,303.3 462.6,305.5 462.7,318.6 462.8,309.3 462.9,312.6 463,295.8 463.1,305.7 463.2,295.2 463.3,308.3 463.4,295.6 463.6,315.9 463.7,302.7 463.8,295.6 463.9,313.7 464,305.1 464.1,311.1 464.2,302.5 464.3,311.3 464.4,308 464.5,319.5 464.6,309.9 464.7,311.2 464.8,311.9 464.9,307 465,316.2 465.1,311.9 465.2,318.6 465.3,302.5 465.4,309 465.6,313.2 465.7,307.5 465.8,303.6 465.9,313.2 466,303 466.1,301 466.2,300.3 466.3,300 466.4,306.8 466.5,307.1 466.6,312.4 466.7,292.6 466.8,309.4 466.9,310 467,302.3 467.1,303.5 467.2,304.9 467.3,308.1 467.4,310.7 467.6,309.3 467.7,310 467.8,301.2 467.9,318.7 468,297.6 468.1,301.6 468.2,303.7 468.3,310.1 468.4,280.5 468.5,304 468.6,309.2 468.7,308.6 468.8,306.3 468.9,301.5 469,291.1 469.1,297.6 469.2,297.6 469.3,298.3 469.4,306 469.6,313 469.7,299.3 469.8,308.8 469.9,309.8 470,301 470.1,306.4 470.2,302.4 470.3,315.1 470.4,309.1 470.5,291.6 470.6,308.2 470.7,305.2 470.8,311.6 470.9,316.6 471,310.8 471.1,311.6 471.2,311 471.3,303.5 471.4,308.7 471.6,300.8 471.7,309.8 471.8,294.7 471.9,300.3 472,307.9 472.1,301.9 472.2,309.9 472.3,309.8 472.4,302.4 472.5,312 472.6,310.7 472.7,311.2 472.8,307 472.9,296.9 473,306.5 473.1,297.7 473.2,294.9 473.3,305.3 473.4,309.2 473.6,307.8 473.7,303.9 473.8,308.9 473.9,300.3 474,300.9 474.1,314.3 474.2,306.9 474.3,306.9 474.4,293.1 474.5,312.1 474.6,301 474.7,309.5 474.8,306.3 474.9,313.4 475,310.3 475.1,299.5 475.2,298 475.3,316.7 475.4,308.6 475.6,312.5 475.7,300.5 475.8,290.3 475.9,301.9 476,303.2 476.1,309.8 476.2,300.2 476.3,310.6 476.4,303.7 476.5,313 476.6,305.6 476.7,320.9 476.8,320.3 476.9,302.5 477,294.5 477.1,290.1 477.2,304.6 477.3,314.9 477.4,298.5 477.6,312.5 477.7,297 477.8,308.3 477.9,309.9 478,299.9 478.1,308.6 478.2,308.4 478.3,306.4 478.4,319.8 478.5,312.9 478.6,308.9 478.7,301.7 478.8,306.6 478.9,310.5 479,316.3 479.1,306.9 479.2,308.9 479.3,309.4 479.4,313.5 479.6,313.6 479.7,301.6 479.8,300.2 479.9,301.6 480,308.2 480.1,315.9 480.2,302.4 480.3,308.2 480.4,304.5"/></g><g clip-path="url(#c3)"><polyline fill="none" stroke="#0000ff" stroke-width="1.35" stroke-linejoin="round" stroke-linecap="butt" points="594,319.5 594.3,244.8 594.7,206.5 595,230.2 595.4,277.2 595.7,245.3 596.1,273.7 596.4,228.5 596.8,249.8 597.1,279.5 597.4,203 597.8,280.4 598.1,229.7 598.5,264.4 598.8,264 599.2,281.1 599.5,270.7 599.8,271.5 600.2,241.7 600.5,241.2 600.9,301 601.2,246.3 601.6,215.7 601.9,217.6 602.2,268 602.6,207.9 602.9,235.5 603.3,216.1 603.6,213.4 604,280.3 604.3,270 604.7,270.1 605,146.1 605.3,289 605.7,222.4 606,251.7 606.4,207.3 606.7,243.4 607.1,274.9 607.4,278.4 607.8,215.1 608.1,248.7 608.4,251.4 608.8,297.3 609.1,233.6 609.5,251 609.8,269 610.2,208.8 610.5,293.8 610.8,258.4 611.2,205.7 611.5,237.8 611.9,190.6 612.2,199.3 612.6,216.4 612.9,268.4 613.2,238.1 613.6,267.7 613.9,284.1 614.3,269.9 614.6,219.4 615,218.7 615.3,191.8 615.7,267.9 616,277.8 616.3,199.5 616.7,273.8 617,264.7 617.4,249 617.7,260.5 618.1,289.4 618.4,264.7 618.8,231 619.1,215.1 619.4,250.6 619.8,294.3 620.1,225.1 620.5,287.5 620.8,263.7 621.2,260.7 621.5,228.5 621.8,262.7 622.2,253.1 622.5,303.4 622.9,271 623.2,250.6 623.6,262.9 623.9,221.1 624.2,228.4 624.6,220.9 624.9,267.9 625.3,264.3 625.6,224.2 626,197.7 626.3,201.3 626.7,305 627,275.2 627.3,177.4 627.7,270.5 628,280.9 628.4,256.1 628.7,261.7 629.1,280.4 629.4,248.6 629.8,237.6 630.1,309.2 630.4,278.1 630.8,292.3 631.1,294.6 631.5,175.7 631.8,221.5 632.2,254.7 632.5,218.4 632.8,247.9 633.2,245.9 633.5,201.3 633.9,266.9 634.2,270.6 634.6,275.9 634.9,253.3 635.2,233.7 635.6,270.4 635.9,270 636.3,256.9 636.6,275.6 637,262.8 637.3,281.8 637.7,268 638,196.3 638.3,199.9 638.7,242.5 639,270.5 639.4,272 639.7,268.6 640.1,225.5 640.4,192.3 640.8,247.7 641.1,261.5 641.4,245.2 641.8,249.2 642.1,196.3 642.5,252.5 642.8,240.2 643.2,252.8 643.5,278.6 643.8,210.3 644.2,229 644.5,215.2 644.9,260 645.2,251.3 645.6,242.8 645.9,270.3 646.2,241.6 646.6,227.6 646.9,232.5 647.3,198.9 647.6,217 648,230.7 648.3,236.4 648.7,128.3 649,249.4 649.3,257.7 649.7,229.5 650,249.5 650.4,297.7 650.7,274.4 651.1,306.9 651.4,290.8 651.8,264.3 652.1,228.2 652.4,231.9 652.8,234.9 653.1,252.3 653.5,250.6 653.8,255.7 654.2,276.2 654.5,276.9 654.8,201.6 655.2,232.8 655.5,309 655.9,254.8 656.2,247 656.6,137.8 656.9,259 657.2,294.2 657.6,217.1 657.9,299 658.3,246.7 658.6,253 659,263.5 659.3,243.2 659.7,286.5 660,255.3 660.3,282.6 660.7,198 661,234.4 661.4,249.8 661.7,276.7 662.1,255.5 662.4,240.8 662.8,259.5 663.1,255.4 663.4,270.5 663.8,275.8 664.1,255.5 664.5,246.5 664.8,262.4 665.2,279.9 665.5,245 665.8,220.2 666.2,257.9 666.5,247.9 666.9,313 667.2,265.3 667.6,215.5 667.9,219 668.2,244.3 668.6,247.7 668.9,273.3 669.3,240.4 669.6,269.1 670,178 670.3,208.1 670.7,224.4 671,243.6 671.3,214.8 671.7,228.7 672,260.1 672.4,263.9 672.7,165 673.1,220.6 673.4,196.3 673.8,261.9 674.1,306.1 674.4,273.5 674.8,276.2 675.1,219 675.5,268.6 675.8,276.4 676.2,253.6 676.5,224.9 676.8,224.8 677.2,200.3 677.5,270.6 677.9,255.4 678.2,208.7 678.6,276.5 678.9,264.7 679.2,256.1 679.6,248.7 679.9,239.8 680.3,215.5 680.6,298 681,206.7 681.3,257.9 681.7,224.3 682,265.7 682.3,237.2 682.7,252.8 683,278.4 683.4,238.9 683.7,188.3 684.1,273.8 684.4,282.9 684.8,236.7 685.1,253.5 685.4,272.7 685.8,240.8 686.1,224.9 686.5,248 686.8,217.5 687.2,245.7 687.5,308.3 687.8,263.4 688.2,276.6 688.5,284.5 688.9,296.9 689.2,227.5 689.6,181.2 689.9,234.3 690.2,280 690.6,306.9 690.9,220 691.3,236.7 691.6,304.6 692,173.3 692.3,284.1 692.7,259 693,276.1 693.3,274.1 693.7,267.3 694,293.4 694.4,245.8 694.7,255.9 695.1,271.7 695.4,236.8 695.8,263.1 696.1,280.5 696.4,309 696.8,225.5 697.1,269.5 697.5,196.3 697.8,267.3 698.2,276.6 698.5,272.3 698.8,265.1 699.2,230.3 699.5,204.2 699.9,278.4 700.2,255.4 700.6,204.6 700.9,252.7 701.2,271.9 701.6,196.6 701.9,270.3 702.3,203.4 702.6,203.3 703,252.4 703.3,185.7 703.7,278.3 704,260 704.3,252.9 704.7,212.3 705,250.4 705.4,202.8 705.7,271.8 706.1,265.4 706.4,310.2 706.8,280.5 707.1,303.3 707.4,226.8 707.8,256.8 708.1,231.4 708.5,251.8 708.8,259.7 709.2,222.8 709.5,272.6 709.8,278.6 710.2,251.6 710.5,255.1 710.9,266.3 711.2,261.8 711.6,267.2 711.9,257.2 712.2,203 712.6,268.2 712.9,227.5 713.3,298.7 713.6,258.1 714,270.2 714.3,221.1 714.7,212.2 715,179.7 715.3,264.8 715.7,230.7 716,232.3 716.4,244.3 716.7,252.4 717.1,213.6 717.4,283.4 717.8,233.7 718.1,259 718.4,241.5 718.8,277.5 719.1,243.3 719.5,282.2 719.8,198.7 720.2,277.2 720.5,274.8 720.8,275.9 721.2,279.4 721.5,245 721.9,255.3 722.2,273 722.6,252.7 722.9,277.1 723.2,225.9 723.6,297.7 723.9,249.1 724.3,241 724.6,244.5 725,250.6 725.3,225 725.7,234.2 726,273.9 726.3,302.5 726.7,251.7 727,239.3 727.4,241.1 727.7,305.2 728.1,250.4 728.4,269 728.8,237 729.1,222.1 729.4,231.3 729.8,229.9 730.1,265.4 730.5,268.2 730.8,267.2 731.2,308.8 731.5,257.5 731.8,277.6 732.2,261 732.5,239.6 732.9,201 733.2,268 733.6,250.1 733.9,264 734.2,229.5 734.6,237 734.9,231.2 735.3,260.4 735.6,263.9 736,277.3 736.3,251.3 736.7,221.8 737,258.8 737.3,229.2 737.7,274.6 738,220.5 738.4,281.4 738.7,303.6 739.1,199.2 739.4,197.9 739.8,284.3 740.1,241.4 740.4,267.3 740.8,219.6 741.1,184.7 741.5,240 741.8,307 742.2,243.6 742.5,295.2 742.8,249.7 743.2,254.9 743.5,274.3 743.9,269.9 744.2,265.1 744.6,196.3 744.9,265.2 745.2,259.1 745.6,218.1 745.9,202.5 746.3,247.3 746.6,253 747,244.8 747.3,278.4 747.7,233 748,282.3 748.3,252.4 748.7,276 749,251.9 749.4,230.8 749.7,292.2 750.1,286.1 750.4,231.8 750.8,223.1 751.1,240.8 751.4,292.5 751.8,216.6 752.1,309 752.5,268.3 752.8,216.3 753.2,200.5 753.5,308.2 753.8,235 754.2,265.6 754.5,235 754.9,185.2 755.2,246.1 755.6,261.7 755.9,244 756.2,265 756.6,269.7 756.9,273.9 757.3,246.1 757.6,292.5 758,168.1 758.3,259.2 758.7,267.8 759,267.2 759.3,212.3 759.7,252.1 760,303.4 760.4,255 760.7,259.5 761.1,251.3 761.4,254.1 761.8,286.1 762.1,235.7 762.4,281.4 762.8,229.4 763.1,262.9 763.5,299.6 763.8,164.6 764.2,235.3 764.5,249.9 764.8,209.5 765.2,309.7 765.5,308.9 765.9,317.1 766.2,216 766.6,282 766.9,255 767.2,272.4 767.6,267 767.9,248.7 768.3,165 768.6,259.9 769,266 769.3,211.1 769.7,271.1 770,289.1 770.3,271.8 770.7,258.7 771,254.8 771.4,294.4 771.7,192.3 772.1,241.8 772.4,274.5 772.8,244.1 773.1,239.5 773.4,215.6 773.8,234.2 774.1,260 774.5,257.1 774.8,224.4 775.2,187.1 775.5,280.2 775.8,263.3 776.2,224.9 776.5,259.6 776.9,255.9 777.2,250.8 777.6,252.8 777.9,274.2 778.2,266.4 778.6,191.6 778.9,249 779.3,267.8 779.6,277 780,226.3 780.3,268.5 780.7,256.2 781,302 781.3,217.5 781.7,272.8 782,190.6 782.4,260.7 782.7,285.8 783.1,277.8 783.4,303.4 783.8,217.2 784.1,234.4 784.4,259.2 784.8,271.7 785.1,260.7 785.5,210 785.8,263.9 786.2,229.5 786.5,240.3 786.8,255.6 787.2,222.6 787.5,235.1 787.9,244.9 788.2,241.7 788.6,232 788.9,213.1 789.2,205.1 789.6,236.4 789.9,245.2 790.3,251.2 790.6,281.5 791,210 791.3,269 791.7,295 792,268 792.3,261 792.7,252.6 793,267.2 793.4,217.7 793.7,239.3 794.1,227.4 794.4,262.7 794.8,296.8 795.1,232.5 795.4,241 795.8,236.9 796.1,295.5 796.5,196.3 796.8,201.8 797.2,276 797.5,228.9 797.8,257.1 798.2,261.7 798.5,278.7 798.9,234.8 799.2,255.2 799.6,242.3 799.9,254.3 800.2,276.9 800.6,260.9 800.9,254.7 801.3,226.7 801.6,196.3 802,232.6 802.3,199.6 802.7,197.1 803,302.4 803.3,227.7 803.7,219.1 804,257.4 804.4,203.4 804.7,292.3 805.1,262.7 805.4,241.9 805.8,223.8 806.1,263.3 806.4,262.7 806.8,238.7 807.1,238.2 807.5,255.7 807.8,202.6 808.2,181.2 808.5,260.6 808.8,181.2 809.2,249.4 809.5,257.9 809.9,250.3 810.2,274.4 810.6,284.6 810.9,226.1 811.2,277.8 811.6,254.9 811.9,194.2 812.3,258.1 812.6,277.1 813,308.3 813.3,260.3 813.7,182.1 814,245 814.3,219.8 814.7,284.3 815,249.6 815.4,252.7 815.7,217 816.1,223.6 816.4,245.3 816.8,206.5 817.1,212.5 817.4,252.6 817.8,252.1 818.1,260.9 818.5,201.9 818.8,206.4 819.2,258.2 819.5,275.6 819.8,305.4 820.2,241.4 820.5,249.6 820.9,237.3 821.2,227.3 821.6,213.7 821.9,253.6 822.2,274.9 822.6,298.1 822.9,275 823.3,256.5 823.6,271.9 824,289.3 824.3,272.8 824.7,262.5 825,254.7 825.3,227.9 825.7,273.9 826,274.5 826.4,273.5 826.7,200.2 827.1,227.6 827.4,285.7 827.8,251.8 828.1,228.5 828.4,235.6 828.8,239.6 829.1,265 829.5,283.2 829.8,225.1 830.2,305.8 830.5,229.3 830.8,275 831.2,265.7 831.5,282.2 831.9,285.4 832.2,246.9 832.6,209.4 832.9,260 833.2,283.6 833.6,214.7 833.9,270.6 834.3,277.4 834.6,230.4 835,256 835.3,245.1 835.7,221.7 836,267.1 836.3,234.5 836.7,249.2 837,243.6 837.4,244.9 837.7,294.1 838.1,276.6 838.4,229.8 838.8,261.7 839.1,277.6 839.4,205.3 839.8,220.3 840.1,226.8 840.5,248.3 840.8,246.8 841.2,196.3 841.5,244 841.8,239 842.2,197 842.5,284.8 842.9,243.4 843.2,230.9 843.6,263.6 843.9,228.4 844.2,286.6 844.6,277.1 844.9,273.6 845.3,224.3 845.6,262.6 846,234.2 846.3,232.4 846.7,269.1 847,262.4 847.3,265.1 847.7,219.6 848,269.9 848.4,198.9 848.7,278.4 849.1,260.1 849.4,271.2 849.8,264.3 850.1,159.1 850.4,264.3 850.8,235.1 851.1,254.5 851.5,266.2 851.8,272.3 852.2,253.4 852.5,256.9 852.8,228 853.2,264.1 853.5,241.9 853.9,254.9 854.2,261.5 854.6,280 854.9,223.1 855.2,283.7 855.6,286.7 855.9,271.8 856.3,294.4 856.6,254.9 857,295.1 857.3,275.4 857.7,241.9 858,251.7 858.3,270.2 858.7,277.8 859,272.2 859.4,260.7 859.7,205.5 860.1,208.9 860.4,230.2 860.8,239 861.1,251.7 861.4,250.4 861.8,281.6 862.1,204.2 862.5,243.2 862.8,231.7 863.2,268.7 863.5,202.8 863.8,255.9 864.2,261.3 864.5,260.2 864.9,242.5 865.2,258.7 865.6,245.7 865.9,242.4 866.2,260.7 866.6,292.8 866.9,258 867.3,293.3 867.6,275.2 868,141.8 868.3,220 868.7,224 869,245.6 869.3,250.5 869.7,280.8 870,219.1 870.4,258.1 870.7,253.3 871.1,211.8 871.4,267.3 871.8,255.2 872.1,272.2 872.4,198.5 872.8,263 873.1,271.9 873.5,277.9 873.8,298.1 874.2,212 874.5,259.6 874.8,224.4 875.2,307.1 875.5,230.1 875.9,275.4 876.2,287.6 876.6,253.4 876.9,274.9 877.2,225.3 877.6,253.2 877.9,215.8 878.3,246.1 878.6,211.3 879,261.3 879.3,278.9 879.7,257.4 880,270.7 880.3,271.6 880.7,239 881,304.2 881.4,231.8 881.7,196.6 882.1,234.5 882.4,280.5 882.8,208.6 883.1,258.3 883.4,241.8 883.8,272.4 884.1,262.7 884.5,268.7 884.8,250.2 885.2,268 885.5,285.2 885.8,165.5 886.2,276.9 886.5,241.6 886.9,255 887.2,249.1 887.6,310.6 887.9,260.8 888.2,257.6 888.6,274.5 888.9,270 889.3,205.9 889.6,249.3 890,268.5 890.3,208.5 890.7,256.4 891,264.5 891.3,256 891.7,267.6 892,273.3 892.4,302.9 892.7,273.1 893.1,298.1 893.4,279.5 893.8,282.5 894.1,296.9 894.4,275.2 894.8,264.6 895.1,169.8 895.5,251 895.8,237.4 896.2,247.6 896.5,254.6 896.8,271.1 897.2,251.9 897.5,207.4 897.9,285.6 898.2,237.2 898.6,171.7 898.9,270.9 899.2,296.6 899.6,245.3 899.9,225.4 900.3,262.4 900.6,305.6 901,245.4 901.3,231.7 901.7,256.5 902,292.4 902.3,237.8 902.7,264.5 903,261.3 903.4,215.5 903.7,243.6 904.1,283.9 904.4,289 904.8,236.6 905.1,285.6 905.4,279.8 905.8,285.4 906.1,272.6 906.5,267.9 906.8,248.9 907.2,269.3 907.5,239.1 907.8,242.4 908.2,265.7 908.5,249.5 908.9,280 909.2,266 909.6,224.9 909.9,166.9 910.2,246 910.6,254.3 910.9,247.5 911.3,226 911.6,262.2 912,279.6 912.3,272.2 912.7,263.8 913,268 913.3,260.2 913.7,274 914,268.3 914.4,280.9 914.7,232.7 915.1,257.4 915.4,273.9 915.8,288.4 916.1,286.3 916.4,215.7 916.8,223.6 917.1,260.4 917.5,255.1 917.8,244.4 918.2,213.7 918.5,276.7 918.8,270.1 919.2,273.4 919.5,299.9 919.9,306.6 920.2,244.2 920.6,233.7 920.9,261.4 921.2,287.5 921.6,292.1 921.9,270.9 922.3,293.6 922.6,204.9 923,278.8 923.3,297.4 923.7,261.4 924,212.8 924.3,297.2 924.7,214 925,275.1 925.4,255.9 925.7,247.3 926.1,242.2 926.4,237 926.8,289.6 927.1,285.8 927.4,220.1 927.8,247.9 928.1,274.5 928.5,197.1 928.8,262.8 929.2,298.7 929.5,253 929.8,208.2 930.2,222.4 930.5,216.6 930.9,227.6 931.2,248.6 931.6,251.7 931.9,278.1 932.2,229 932.6,208.3 932.9,265.7 933.3,274.6 933.6,310.7 934,299.8 934.3,256 934.7,248.2 935,296.4 935.3,270.2 935.7,187.1 936,286.3 936.4,229 936.7,297.5 937.1,295 937.4,264.7 937.8,201.5 938.1,270.4 938.4,276.9 938.8,258.2 939.1,285.2 939.5,277.9 939.8,228.2 940.2,198.2 940.5,232.6 940.8,220.5 941.2,257.4 941.5,234.9 941.9,205.3 942.2,271 942.6,207.3 942.9,213.5 943.2,236 943.6,283.3 943.9,214.8 944.3,273 944.6,211.8 945,255.6 945.3,248.9 945.7,260.4 946,252.1 946.3,270.2 946.7,267.3 947,306.4 947.4,263.8 947.7,240.9 948.1,229.4 948.4,243.9 948.8,283.4 949.1,255.1 949.4,254.6 949.8,278.5 950.1,276.5 950.5,218 950.8,254.6 951.2,277.1 951.5,210.8 951.8,278.4 952.2,285.4 952.5,268.1 952.9,200.6 953.2,275.9 953.6,255.3 953.9,229.1 954.2,256.3 954.6,279.3 954.9,296.4 955.3,260.9 955.6,193.5 956,268 956.3,280.9 956.7,291.2 957,286.3 957.3,283.1 957.7,243.7 958,196.3 958.4,238 958.7,241.8 959.1,280.6 959.4,292.8 959.8,231 960.1,217.1 960.4,265.3 960.8,255.6 961.1,266.8 961.5,213.4 961.8,272.9 962.2,201.3 962.5,284.8 962.8,255.3 963.2,306.2 963.5,251.8 963.9,251.7 964.2,266.2 964.6,262.9 964.9,231.3 965.2,233 965.6,241.1 965.9,253.1 966.3,281.3 966.6,263.7 967,253.3 967.3,240.5 967.7,275.8 968,285.8 968.3,265 968.7,230.7 969,239.8 969.4,265.5 969.7,267.8 970.1,192.3 970.4,215.5 970.8,284.8 971.1,281.5 971.4,259.7 971.8,265 972.1,263.9 972.5,259 972.8,299.4 973.2,270.2 973.5,249.1 973.8,272.8 974.2,258.8 974.5,197.7 974.9,249.4 975.2,280.5 975.6,237.3 975.9,273.2 976.2,281.6 976.6,278.3 976.9,266.8 977.3,195.8 977.6,234.8 978,258.1 978.3,281.2 978.7,272.2 979,263 979.3,257.1 979.7,276 980,215.1 980.4,251.7 980.7,286.1 981.1,203.6 981.4,279.7 981.8,257.9 982.1,238.1 982.4,309.3 982.8,213.3 983.1,221 983.5,223.7 983.8,268.7 984.2,253.6 984.5,271.8 984.8,277.7 985.2,250.1 985.5,253.3 985.9,254.1 986.2,263 986.6,210 986.9,219.3 987.2,257.7 987.6,268.7 987.9,279.9 988.3,223.6 988.6,257.6 989,244.2 989.3,221.7 989.7,213.7 990,294.3 990.3,286.2 990.7,238.9 991,252.7 991.4,307.2 991.7,257.3 992.1,217 992.4,264.7 992.8,274.6 993.1,271.5 993.4,284.2 993.8,175.7 994.1,254.9 994.5,259.7 994.8,202.5 995.2,235.9 995.5,247 995.8,277.2 996.2,262.5 996.5,270.1 996.9,303.2 997.2,285.3 997.6,236.4 997.9,267.7 998.2,225.5 998.6,265.3 998.9,251.5 999.3,241.8 999.6,241.8 1000,235.6 1000.3,228.6 1000.7,211.6 1001,195.1 1001.3,220.2 1001.7,206.1 1002,278.7 1002.4,219.6 1002.7,275.3 1003.1,269.4 1003.4,310.4 1003.8,245.3 1004.1,260.1 1004.4,254.4 1004.8,270 1005.1,263.8 1005.5,279.7 1005.8,254.9 1006.2,256 1006.5,281.5"/></g><g font-family="Liberation Serif, Times New Roman, serif" font-size="41" fill="#000"><text x="260.3" y="414.2" text-anchor="middle">(a)</text><text x="786.8" y="413.6" text-anchor="middle">(b)</text></g></svg></body></html>
